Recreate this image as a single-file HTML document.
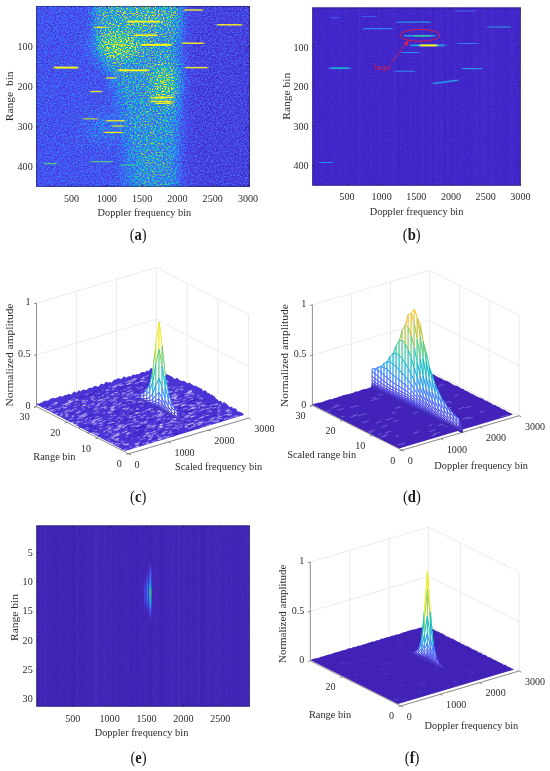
<!DOCTYPE html><html><head><meta charset="utf-8"><style>html,body{margin:0;padding:0;background:#fff;}svg{display:block;}</style></head><body><svg width="550" height="771" viewBox="0 0 550 771" font-family="'Liberation Serif','Times New Roman',serif">
<defs><filter id="soft" x="-2%" y="-2%" width="104%" height="104%"><feGaussianBlur stdDeviation="0.45"/></filter><filter id="bl1" x="-50%" y="-200%" width="200%" height="500%"><feGaussianBlur stdDeviation="0.9 0.6"/></filter><filter id="bl2" x="-50%" y="-200%" width="200%" height="500%"><feGaussianBlur stdDeviation="0.5 0.4"/></filter><filter id="blS" x="-10%" y="-10%" width="120%" height="120%"><feGaussianBlur stdDeviation="1.1 0.35"/></filter></defs>
<rect width="550" height="771" fill="#fff"/>
<defs><filter id="nzA" filterUnits="userSpaceOnUse" x="36.5" y="6.0" width="213.0" height="180.5" color-interpolation-filters="sRGB"><feGaussianBlur in="SourceGraphic" stdDeviation="3" result="S"/><feTurbulence type="fractalNoise" baseFrequency="0.6 0.9" numOctaves="2" seed="3" result="T"/><feColorMatrix in="T" values="3.0 0 0 0 -1.000  3.0 0 0 0 -1.000  0 0 0 0 0  0 0 0 0 1" result="N0"/><feComponentTransfer in="N0" result="N"><feFuncR type="gamma" amplitude="1" exponent="1.8" offset="0"/><feFuncG type="gamma" amplitude="1" exponent="1.8" offset="0"/></feComponentTransfer><feComposite in="S" in2="N" operator="arithmetic" k1="1" k2="0" k3="0" k4="0" result="P"/><feColorMatrix in="P" values="0 1 0 0 0  0 0 0 0 0  0 0 0 0 0  0 0 0 0 1" result="Q"/><feColorMatrix in="S" values="1 0 0 0 0  0 0 0 0 0  0 0 0 0 0  0 0 0 0 1" result="M0"/><feComposite in="M0" in2="Q" operator="arithmetic" k1="0" k2="1" k3="1" k4="0" result="V"/><feColorMatrix in="V" values="1 0 0 0 0  1 0 0 0 0  1 0 0 0 0  0 0 0 0 1" result="VG"/><feComponentTransfer in="VG"><feFuncR type="table" tableValues="0.251 0.275 0.282 0.259 0.196 0.153 0.118 0.059 0.027 0.102 0.200 0.310 0.435 0.584 0.725 0.810 0.894 0.927 0.961 0.969 0.976"/><feFuncG type="table" tableValues="0.141 0.235 0.322 0.404 0.486 0.580 0.651 0.694 0.729 0.757 0.780 0.796 0.804 0.816 0.839 0.863 0.886 0.914 0.941 0.963 0.984"/><feFuncB type="table" tableValues="0.698 0.863 0.957 0.988 0.980 0.925 0.882 0.835 0.776 0.714 0.631 0.545 0.447 0.353 0.259 0.216 0.173 0.145 0.118 0.098 0.078"/></feComponentTransfer><feGaussianBlur stdDeviation="0.3"/></filter></defs>
<g filter="url(#nzA)"><g transform="translate(26.5 -4.0) scale(5.0)" shape-rendering="crispEdges"><path fill="#0d2600" d="M0 0h12v1h-12zM0 1h12v1h-12zM0 2h12v1h-12zM0 3h12v1h-12zM0 4h11v1h-11zM0 5h11v1h-11zM0 6h10v1h-10zM0 7h9v1h-9zM0 8h9v1h-9zM0 9h8v1h-8zM0 10h8v1h-8zM0 11h9v1h-9zM0 12h9v1h-9zM0 13h10v1h-10zM0 14h11v1h-11zM0 15h13v1h-13zM0 16h15v1h-15zM0 17h16v1h-16zM0 18h16v1h-16zM0 19h16v1h-16zM0 20h13v1h-13zM0 21h10v1h-10zM0 22h9v1h-9zM0 23h8v1h-8zM0 24h8v1h-8zM0 25h7v1h-7zM0 26h7v1h-7zM0 27h7v1h-7zM0 28h8v1h-8zM0 29h8v1h-8zM0 30h9v1h-9zM0 31h11v1h-11zM0 32h13v1h-13zM0 33h18v1h-18zM0 34h18v1h-18zM0 35h18v1h-18zM0 36h18v1h-18zM0 37h18v1h-18zM0 38h18v1h-18zM0 39h18v1h-18zM0 40h18v1h-18z"/><path fill="#0e2b00" d="M12 0h1v1h-1zM12 1h1v1h-1zM12 2h1v1h-1zM12 3h1v1h-1zM12 4h1v1h-1zM11 8h1v1h-1zM11 11h1v1h-1zM13 22h1v1h-1zM10 27h1v1h-1zM14 30h3v1h-3zM18 38h1v1h-1zM18 39h1v1h-1zM18 40h1v1h-1z"/><path fill="#186100" d="M13 0h1v1h-1zM13 2h1v1h-1zM13 3h1v1h-1zM29 36h1v1h-1z"/><path fill="#249800" d="M14 0h1v1h-1zM14 1h1v1h-1zM14 2h1v1h-1zM29 14h1v1h-1z"/><path fill="#279d00" d="M15 0h14v1h-14zM15 1h3v1h-3zM15 2h2v1h-2zM16 3h1v1h-1zM16 4h1v1h-1zM24 6h1v1h-1zM26 13h1v1h-1zM28 13h1v1h-1zM25 14h1v1h-1z"/><path fill="#259b00" d="M29 0h1v1h-1zM23 7h1v1h-1z"/><path fill="#196d00" d="M30 0h1v1h-1zM30 1h1v1h-1z"/><path fill="#0c3100" d="M31 0h1v1h-1zM31 1h1v1h-1zM31 15h1v1h-1z"/><path fill="#082100" d="M32 0h1v1h-1zM32 1h1v1h-1zM32 7h1v1h-1zM32 8h1v1h-1zM32 10h1v1h-1zM32 11h1v1h-1zM32 12h1v1h-1zM32 13h1v1h-1zM32 21h1v1h-1zM32 22h1v1h-1zM32 23h1v1h-1zM32 24h1v1h-1z"/><path fill="#071f00" d="M33 0h1v1h-1zM33 1h1v1h-1zM34 5h1v1h-1zM33 7h1v1h-1zM33 8h1v1h-1zM33 9h1v1h-1zM33 10h1v1h-1zM33 11h1v1h-1zM33 12h1v1h-1zM33 13h1v1h-1zM33 14h1v1h-1zM33 15h1v1h-1zM33 16h1v1h-1zM33 17h1v1h-1zM33 18h1v1h-1zM33 19h1v1h-1zM33 20h1v1h-1zM33 21h1v1h-1zM33 22h1v1h-1zM33 23h1v1h-1zM33 24h1v1h-1zM33 25h1v1h-1zM33 26h1v1h-1zM33 27h1v1h-1zM33 28h1v1h-1zM33 29h1v1h-1zM33 30h1v1h-1zM33 31h1v1h-1zM33 32h1v1h-1zM33 33h1v1h-1zM33 34h1v1h-1zM33 35h1v1h-1zM33 36h1v1h-1zM33 37h1v1h-1zM33 38h1v1h-1zM33 39h1v1h-1zM33 40h1v1h-1z"/><path fill="#061f00" d="M34 0h13v1h-13zM34 1h13v1h-13zM34 2h13v1h-13zM35 3h12v1h-12zM35 4h12v1h-12zM35 5h12v1h-12zM34 6h13v1h-13zM34 7h13v1h-13zM34 8h13v1h-13zM34 9h13v1h-13zM34 10h13v1h-13zM34 11h13v1h-13zM34 12h13v1h-13zM34 13h13v1h-13zM34 14h13v1h-13zM34 15h13v1h-13zM34 16h13v1h-13zM34 17h13v1h-13zM34 18h13v1h-13zM34 19h13v1h-13zM34 20h13v1h-13zM34 21h13v1h-13zM34 22h13v1h-13zM34 23h13v1h-13zM34 24h13v1h-13zM34 25h13v1h-13zM34 26h13v1h-13zM34 27h13v1h-13zM34 28h13v1h-13zM34 29h13v1h-13zM34 30h13v1h-13zM34 31h13v1h-13zM34 32h13v1h-13zM34 33h13v1h-13zM34 34h13v1h-13zM34 35h13v1h-13zM34 36h13v1h-13zM34 37h13v1h-13zM34 38h13v1h-13zM34 39h13v1h-13zM34 40h13v1h-13z"/><path fill="#186200" d="M13 1h1v1h-1zM17 16h1v1h-1zM19 23h1v1h-1z"/><path fill="#279e00" d="M18 1h2v1h-2zM17 2h1v1h-1zM29 2h1v1h-1zM16 5h1v1h-1z"/><path fill="#289e00" d="M20 1h1v1h-1zM28 1h1v1h-1zM23 6h1v1h-1z"/><path fill="#289f00" d="M21 1h7v1h-7zM18 2h1v1h-1zM17 3h1v1h-1zM17 4h1v1h-1zM20 12h1v1h-1zM27 21h1v1h-1z"/><path fill="#269c00" d="M29 1h1v1h-1zM15 3h1v1h-1zM15 5h1v1h-1zM25 6h1v1h-1zM23 9h1v1h-1zM22 11h1v1h-1zM25 20h1v1h-1zM26 21h1v1h-1z"/><path fill="#29a000" d="M19 2h1v1h-1zM29 3h1v1h-1zM29 4h1v1h-1zM28 5h1v1h-1zM15 6h1v1h-1zM22 6h1v1h-1zM29 19h1v1h-1z"/><path fill="#2aa100" d="M20 2h1v1h-1zM18 5h1v1h-1z"/><path fill="#2aa300" d="M21 2h1v1h-1zM14 10h1v1h-1zM29 15h1v1h-1z"/><path fill="#2ba300" d="M22 2h1v1h-1zM26 2h1v1h-1zM19 3h1v1h-1zM19 5h1v1h-1z"/><path fill="#2ba400" d="M23 2h3v1h-3zM19 4h1v1h-1zM20 5h1v1h-1zM26 5h1v1h-1zM16 6h1v1h-1z"/><path fill="#2aa200" d="M27 2h1v1h-1zM18 4h1v1h-1zM27 5h1v1h-1zM21 6h1v1h-1zM14 8h1v1h-1z"/><path fill="#29a100" d="M28 2h1v1h-1zM18 3h1v1h-1zM27 13h1v1h-1z"/><path fill="#196f00" d="M30 2h1v1h-1z"/><path fill="#0d3300" d="M31 2h1v1h-1z"/><path fill="#082200" d="M32 2h1v1h-1zM32 6h1v1h-1zM32 14h1v1h-1zM32 15h1v1h-1zM32 16h1v1h-1zM32 18h1v1h-1zM32 19h1v1h-1zM32 20h1v1h-1z"/><path fill="#072000" d="M33 2h1v1h-1zM34 3h1v1h-1zM34 4h1v1h-1zM33 5h1v1h-1zM33 6h1v1h-1z"/><path fill="#239700" d="M14 3h1v1h-1zM24 7h1v1h-1zM21 12h1v1h-1zM24 17h1v1h-1z"/><path fill="#2ca600" d="M20 3h1v1h-1zM25 15h1v1h-1z"/><path fill="#2ea800" d="M21 3h1v1h-1zM27 4h1v1h-1zM14 9h1v1h-1z"/><path fill="#2faa00" d="M22 3h1v1h-1zM25 3h1v1h-1zM26 4h1v1h-1zM17 12h1v1h-1z"/><path fill="#30ab00" d="M23 3h2v1h-2zM18 12h1v1h-1zM26 14h1v1h-1zM28 14h1v1h-1zM29 16h1v1h-1zM26 20h1v1h-1z"/><path fill="#2ea900" d="M26 3h1v1h-1zM22 9h1v1h-1z"/><path fill="#2da700" d="M27 3h1v1h-1zM20 4h1v1h-1zM18 6h1v1h-1zM21 7h1v1h-1zM19 12h1v1h-1z"/><path fill="#2ca400" d="M28 3h1v1h-1z"/><path fill="#1a7100" d="M30 3h1v1h-1zM30 4h1v1h-1z"/><path fill="#0d3400" d="M31 3h1v1h-1zM31 16h1v1h-1zM31 17h1v1h-1z"/><path fill="#082300" d="M32 3h1v1h-1zM32 5h1v1h-1zM32 17h1v1h-1z"/><path fill="#072100" d="M33 3h1v1h-1zM33 4h1v1h-1z"/><path fill="#0d2700" d="M11 4h1v1h-1zM11 5h1v1h-1zM10 6h2v1h-2zM9 7h2v1h-2zM9 8h1v1h-1zM8 9h2v1h-2zM8 10h2v1h-2zM9 11h1v1h-1zM9 12h2v1h-2zM10 13h2v1h-2zM11 14h2v1h-2zM13 15h2v1h-2zM15 16h1v1h-1zM13 20h3v1h-3zM10 21h3v1h-3zM9 22h2v1h-2zM8 23h2v1h-2zM8 24h1v1h-1zM7 25h2v1h-2zM7 26h2v1h-2zM7 27h2v1h-2zM8 28h1v1h-1zM8 29h2v1h-2zM9 30h2v1h-2zM11 31h3v1h-3zM17 31h1v1h-1zM13 32h5v1h-5z"/><path fill="#186000" d="M13 4h1v1h-1zM20 30h1v1h-1z"/><path fill="#229600" d="M14 4h1v1h-1zM25 7h1v1h-1zM24 8h1v1h-1zM27 12h1v1h-1zM24 16h1v1h-1zM24 18h1v1h-1z"/><path fill="#269b00" d="M15 4h1v1h-1zM29 5h1v1h-1zM26 6h1v1h-1zM23 8h1v1h-1z"/><path fill="#2fa900" d="M21 4h1v1h-1zM21 11h1v1h-1zM29 18h1v1h-1zM28 20h1v1h-1z"/><path fill="#30ac00" d="M22 4h1v1h-1zM15 7h1v1h-1z"/><path fill="#31ad00" d="M23 4h2v1h-2zM25 16h1v1h-1zM29 17h1v1h-1zM25 18h1v1h-1z"/><path fill="#31ac00" d="M25 4h1v1h-1z"/><path fill="#2ca500" d="M28 4h1v1h-1zM21 5h1v1h-1zM25 5h1v1h-1zM20 6h1v1h-1zM22 8h1v1h-1zM16 12h1v1h-1z"/><path fill="#0d3500" d="M31 4h1v1h-1z"/><path fill="#092400" d="M32 4h1v1h-1z"/><path fill="#0d2a00" d="M12 5h1v1h-1zM12 6h1v1h-1zM10 24h1v1h-1zM10 28h1v1h-1zM11 29h1v1h-1zM13 30h1v1h-1zM17 30h1v1h-1z"/><path fill="#175d00" d="M13 5h1v1h-1zM19 26h1v1h-1z"/><path fill="#219400" d="M14 5h1v1h-1zM29 6h1v1h-1zM27 7h2v1h-2zM26 12h1v1h-1zM25 13h1v1h-1z"/><path fill="#28a000" d="M17 5h1v1h-1zM22 7h1v1h-1z"/><path fill="#2da600" d="M22 5h3v1h-3zM17 6h1v1h-1zM19 6h1v1h-1zM22 10h1v1h-1zM25 19h1v1h-1z"/><path fill="#196b00" d="M30 5h1v1h-1zM29 29h1v1h-1z"/><path fill="#0d3200" d="M31 5h1v1h-1zM31 18h1v1h-1z"/><path fill="#165b00" d="M13 6h1v1h-1zM20 33h1v1h-1z"/><path fill="#219500" d="M14 6h1v1h-1zM26 7h1v1h-1zM24 9h1v1h-1zM29 20h1v1h-1z"/><path fill="#259a00" d="M27 6h1v1h-1zM14 7h1v1h-1zM23 10h1v1h-1zM28 21h1v1h-1z"/><path fill="#249900" d="M28 6h1v1h-1z"/><path fill="#176400" d="M30 6h1v1h-1z"/><path fill="#0c2d00" d="M31 6h1v1h-1zM31 14h1v1h-1zM31 20h1v1h-1z"/><path fill="#0d2900" d="M11 7h1v1h-1zM10 9h1v1h-1zM10 10h1v1h-1zM11 12h1v1h-1zM14 14h1v1h-1zM16 19h1v1h-1zM12 22h1v1h-1zM9 25h1v1h-1zM9 26h1v1h-1zM12 30h1v1h-1z"/><path fill="#0e2c00" d="M12 7h1v1h-1zM11 9h1v1h-1zM11 10h1v1h-1zM12 12h1v1h-1zM14 22h3v1h-3zM10 25h1v1h-1zM10 26h1v1h-1zM12 29h1v1h-1zM18 36h1v1h-1zM18 37h1v1h-1z"/><path fill="#175b00" d="M13 7h1v1h-1z"/><path fill="#35b300" d="M16 7h1v1h-1z"/><path fill="#38b800" d="M17 7h1v1h-1zM20 11h1v1h-1z"/><path fill="#39b900" d="M18 7h1v1h-1zM28 19h1v1h-1z"/><path fill="#36b500" d="M19 7h1v1h-1zM15 11h1v1h-1z"/><path fill="#32ae00" d="M20 7h1v1h-1z"/><path fill="#208e00" d="M29 7h1v1h-1zM28 9h1v1h-1zM27 10h1v1h-1zM25 11h1v1h-1zM20 13h1v1h-1zM29 13h1v1h-1zM24 20h1v1h-1zM28 22h1v1h-1z"/><path fill="#165d00" d="M30 7h1v1h-1z"/><path fill="#0b2a00" d="M31 7h1v1h-1zM31 13h1v1h-1zM31 21h1v1h-1z"/><path fill="#0d2800" d="M10 8h1v1h-1zM10 11h1v1h-1zM12 13h1v1h-1zM13 14h1v1h-1zM16 20h1v1h-1zM13 21h4v1h-4zM11 22h1v1h-1zM10 23h1v1h-1zM9 24h1v1h-1zM9 27h1v1h-1zM9 28h1v1h-1zM10 29h1v1h-1zM11 30h1v1h-1zM14 31h3v1h-3z"/><path fill="#0f3000" d="M12 8h1v1h-1zM12 11h1v1h-1zM13 12h1v1h-1zM18 31h1v1h-1z"/><path fill="#175f00" d="M13 8h1v1h-1zM18 19h1v1h-1zM19 25h1v1h-1zM29 38h1v1h-1zM29 39h1v1h-1zM29 40h1v1h-1z"/><path fill="#3bbd00" d="M15 8h1v1h-1z"/><path fill="#44cb00" d="M16 8h1v1h-1z"/><path fill="#4ad300" d="M17 8h1v1h-1z"/><path fill="#4bd400" d="M18 8h1v1h-1z"/><path fill="#46cd00" d="M19 8h1v1h-1z"/><path fill="#3dc000" d="M20 8h1v1h-1z"/><path fill="#34b200" d="M21 8h1v1h-1z"/><path fill="#219300" d="M25 8h1v1h-1zM23 11h1v1h-1zM28 12h1v1h-1zM17 13h2v1h-2zM24 15h1v1h-1zM25 21h1v1h-1z"/><path fill="#219100" d="M26 8h1v1h-1zM19 13h1v1h-1z"/><path fill="#209100" d="M27 8h1v1h-1zM25 9h1v1h-1zM15 12h1v1h-1zM22 12h1v1h-1zM26 22h1v1h-1z"/><path fill="#209000" d="M28 8h1v1h-1zM26 11h2v1h-2z"/><path fill="#1f8700" d="M29 8h1v1h-1zM17 14h3v1h-3zM24 22h1v1h-1zM24 27h2v1h-2zM24 32h2v1h-2z"/><path fill="#145400" d="M30 8h1v1h-1z"/><path fill="#0a2600" d="M31 8h1v1h-1zM31 12h1v1h-1zM31 23h1v1h-1z"/><path fill="#0f3300" d="M12 9h1v1h-1zM12 10h1v1h-1zM14 23h1v1h-1zM16 23h1v1h-1zM12 24h1v1h-1zM18 30h1v1h-1z"/><path fill="#176000" d="M13 9h1v1h-1zM19 24h1v1h-1zM29 37h1v1h-1z"/><path fill="#44ca00" d="M15 9h1v1h-1zM26 17h1v1h-1zM28 17h1v1h-1z"/><path fill="#50dc00" d="M16 9h1v1h-1zM19 10h1v1h-1z"/><path fill="#57e800" d="M17 9h1v1h-1z"/><path fill="#58e900" d="M18 9h1v1h-1z"/><path fill="#52df00" d="M19 9h1v1h-1z"/><path fill="#46ce00" d="M20 9h1v1h-1z"/><path fill="#3aba00" d="M21 9h1v1h-1z"/><path fill="#208f00" d="M26 9h2v1h-2zM25 10h2v1h-2zM24 11h1v1h-1zM28 11h1v1h-1zM25 12h1v1h-1zM16 13h1v1h-1zM24 14h1v1h-1z"/><path fill="#1d8100" d="M29 9h1v1h-1zM22 19h1v1h-1z"/><path fill="#134c00" d="M30 9h1v1h-1zM30 23h1v1h-1z"/><path fill="#0a2400" d="M31 9h1v1h-1zM31 11h1v1h-1zM31 25h1v1h-1z"/><path fill="#082000" d="M32 9h1v1h-1zM32 25h1v1h-1zM32 26h1v1h-1zM32 27h1v1h-1zM32 28h1v1h-1zM32 29h1v1h-1zM32 30h1v1h-1zM32 31h1v1h-1zM32 32h1v1h-1zM32 33h1v1h-1zM32 34h1v1h-1zM32 35h1v1h-1zM32 36h1v1h-1zM32 37h1v1h-1zM32 38h1v1h-1zM32 39h1v1h-1zM32 40h1v1h-1z"/><path fill="#175c00" d="M13 10h1v1h-1zM20 32h1v1h-1z"/><path fill="#42c700" d="M15 10h1v1h-1z"/><path fill="#4ed900" d="M16 10h1v1h-1z"/><path fill="#55e500" d="M17 10h1v1h-1z"/><path fill="#56e600" d="M18 10h1v1h-1z"/><path fill="#45cb00" d="M20 10h1v1h-1zM17 11h1v1h-1z"/><path fill="#38b700" d="M21 10h1v1h-1z"/><path fill="#219200" d="M24 10h1v1h-1zM24 19h1v1h-1zM27 22h1v1h-1z"/><path fill="#208d00" d="M28 10h1v1h-1zM23 12h1v1h-1zM24 13h1v1h-1z"/><path fill="#1c7a00" d="M29 10h1v1h-1zM17 15h1v1h-1zM21 28h1v1h-1zM28 33h1v1h-1zM28 34h1v1h-1zM22 36h1v1h-1zM27 37h1v1h-1zM23 39h1v1h-1zM26 39h1v1h-1zM24 40h2v1h-2z"/><path fill="#114500" d="M30 10h1v1h-1z"/><path fill="#0a2300" d="M31 10h1v1h-1zM31 26h1v1h-1zM31 27h1v1h-1zM31 28h1v1h-1zM31 29h1v1h-1zM31 30h1v1h-1zM31 31h1v1h-1zM31 32h1v1h-1zM31 33h1v1h-1zM31 34h1v1h-1zM31 35h1v1h-1zM31 36h1v1h-1zM31 37h1v1h-1zM31 38h1v1h-1zM31 39h1v1h-1zM31 40h1v1h-1z"/><path fill="#124300" d="M13 11h1v1h-1zM19 32h1v1h-1z"/><path fill="#1e8200" d="M14 11h1v1h-1zM20 15h2v1h-2zM22 17h1v1h-1zM22 18h1v1h-1zM23 22h1v1h-1zM23 23h1v1h-1zM23 24h1v1h-1zM23 25h1v1h-1zM23 33h1v1h-1zM24 35h2v1h-2z"/><path fill="#3fc200" d="M16 11h1v1h-1z"/><path fill="#45cc00" d="M18 11h1v1h-1z"/><path fill="#40c500" d="M19 11h1v1h-1z"/><path fill="#1d7d00" d="M29 11h1v1h-1zM20 20h1v1h-1zM21 22h1v1h-1zM21 26h1v1h-1zM28 26h1v1h-1zM22 33h1v1h-1zM27 34h1v1h-1zM23 36h1v1h-1zM25 38h1v1h-1z"/><path fill="#124800" d="M30 11h1v1h-1zM30 24h1v1h-1z"/><path fill="#165600" d="M14 12h1v1h-1zM20 36h1v1h-1z"/><path fill="#208c00" d="M24 12h1v1h-1zM25 22h1v1h-1z"/><path fill="#1e8400" d="M29 12h1v1h-1zM22 15h1v1h-1zM23 20h1v1h-1zM26 25h1v1h-1zM26 26h1v1h-1zM26 27h1v1h-1zM23 28h1v1h-1zM26 28h1v1h-1zM23 29h1v1h-1zM23 30h1v1h-1zM26 31h1v1h-1zM26 32h1v1h-1zM24 34h2v1h-2z"/><path fill="#135000" d="M30 12h1v1h-1z"/><path fill="#0e2a00" d="M13 13h1v1h-1zM11 23h1v1h-1z"/><path fill="#103700" d="M14 13h1v1h-1z"/><path fill="#196700" d="M15 13h1v1h-1zM29 32h1v1h-1z"/><path fill="#1f8b00" d="M21 13h1v1h-1z"/><path fill="#1f8900" d="M22 13h2v1h-2zM23 16h1v1h-1zM23 17h1v1h-1zM24 21h1v1h-1zM29 21h1v1h-1zM26 23h1v1h-1z"/><path fill="#155900" d="M30 13h1v1h-1z"/><path fill="#124500" d="M15 14h1v1h-1zM13 26h1v1h-1zM19 31h1v1h-1z"/><path fill="#1b7200" d="M16 14h1v1h-1zM21 32h1v1h-1z"/><path fill="#1e8600" d="M20 14h1v1h-1zM23 19h1v1h-1zM25 25h1v1h-1zM24 26h1v1h-1zM25 33h1v1h-1z"/><path fill="#1e8500" d="M21 14h2v1h-2zM24 23h1v1h-1zM28 23h1v1h-1zM24 24h1v1h-1zM26 24h1v1h-1zM24 25h1v1h-1zM26 29h1v1h-1zM26 30h1v1h-1zM24 33h1v1h-1z"/><path fill="#1f8800" d="M23 14h1v1h-1zM23 15h1v1h-1zM23 18h1v1h-1zM25 23h1v1h-1zM27 23h1v1h-1zM24 28h2v1h-2zM24 29h2v1h-2zM24 30h2v1h-2zM24 31h2v1h-2z"/><path fill="#34b100" d="M27 14h1v1h-1zM27 20h1v1h-1z"/><path fill="#176200" d="M30 14h1v1h-1z"/><path fill="#0e2f00" d="M15 15h1v1h-1zM13 29h1v1h-1zM17 29h1v1h-1zM18 32h1v1h-1z"/><path fill="#155400" d="M16 15h1v1h-1zM20 37h1v1h-1z"/><path fill="#1e8300" d="M18 15h2v1h-2zM22 16h1v1h-1zM23 21h1v1h-1zM27 24h1v1h-1zM23 26h1v1h-1zM23 27h1v1h-1zM23 31h1v1h-1zM23 32h1v1h-1zM26 33h1v1h-1z"/><path fill="#39ba00" d="M26 15h1v1h-1zM28 15h1v1h-1z"/><path fill="#3fc300" d="M27 15h1v1h-1zM27 19h1v1h-1z"/><path fill="#186900" d="M30 15h1v1h-1z"/><path fill="#113c00" d="M16 16h1v1h-1zM14 28h1v1h-1zM16 28h1v1h-1zM19 38h1v1h-1zM19 39h1v1h-1zM19 40h1v1h-1z"/><path fill="#1d7e00" d="M18 16h1v1h-1zM19 18h1v1h-1zM20 19h1v1h-1zM21 20h1v1h-1zM21 21h1v1h-1zM21 23h1v1h-1zM21 24h1v1h-1zM21 25h1v1h-1zM28 25h1v1h-1zM22 31h1v1h-1zM22 32h1v1h-1zM27 33h1v1h-1zM26 36h1v1h-1zM24 37h2v1h-2z"/><path fill="#1e8100" d="M19 16h3v1h-3zM27 25h1v1h-1zM26 34h1v1h-1z"/><path fill="#41c500" d="M26 16h1v1h-1zM28 16h1v1h-1zM28 18h1v1h-1z"/><path fill="#48d000" d="M27 16h1v1h-1z"/><path fill="#197000" d="M30 16h1v1h-1zM30 17h1v1h-1z"/><path fill="#0f3200" d="M16 17h1v1h-1zM11 26h1v1h-1zM12 28h1v1h-1zM15 29h1v1h-1z"/><path fill="#155300" d="M17 17h1v1h-1zM20 38h1v1h-1zM20 39h1v1h-1zM20 40h1v1h-1z"/><path fill="#1b7400" d="M18 17h1v1h-1zM20 24h1v1h-1zM29 24h1v1h-1zM21 31h1v1h-1z"/><path fill="#1d8000" d="M19 17h3v1h-3zM21 18h1v1h-1zM22 20h1v1h-1zM29 22h1v1h-1zM28 24h1v1h-1zM22 26h1v1h-1zM27 26h1v1h-1zM27 27h1v1h-1zM27 28h1v1h-1zM27 29h1v1h-1zM23 34h1v1h-1zM26 35h1v1h-1zM24 36h2v1h-2z"/><path fill="#33b000" d="M25 17h1v1h-1z"/><path fill="#4bd600" d="M27 17h1v1h-1z"/><path fill="#0e2d00" d="M16 18h1v1h-1zM12 23h1v1h-1zM11 28h1v1h-1zM18 34h1v1h-1zM18 35h1v1h-1z"/><path fill="#134800" d="M17 18h1v1h-1zM19 30h1v1h-1z"/><path fill="#196900" d="M18 18h1v1h-1zM20 28h1v1h-1zM29 30h1v1h-1zM21 38h1v1h-1zM21 39h1v1h-1z"/><path fill="#1d7f00" d="M20 18h1v1h-1zM21 19h1v1h-1zM22 21h1v1h-1zM22 22h1v1h-1zM22 23h1v1h-1zM22 24h1v1h-1zM22 25h1v1h-1zM22 27h1v1h-1zM22 28h1v1h-1zM22 29h1v1h-1zM22 30h1v1h-1zM27 30h1v1h-1zM27 31h1v1h-1zM27 32h1v1h-1zM23 35h1v1h-1z"/><path fill="#41c600" d="M26 18h1v1h-1z"/><path fill="#48d100" d="M27 18h1v1h-1z"/><path fill="#196c00" d="M30 18h1v1h-1z"/><path fill="#113f00" d="M17 19h1v1h-1zM18 28h1v1h-1zM19 35h1v1h-1z"/><path fill="#1c7800" d="M19 19h1v1h-1zM28 36h1v1h-1zM22 37h1v1h-1zM28 37h1v1h-1zM27 39h1v1h-1zM27 40h1v1h-1z"/><path fill="#3abb00" d="M26 19h1v1h-1z"/><path fill="#186600" d="M30 19h1v1h-1z"/><path fill="#0c3000" d="M31 19h1v1h-1z"/><path fill="#103800" d="M17 20h1v1h-1zM12 27h1v1h-1zM13 28h1v1h-1zM17 28h1v1h-1zM18 29h1v1h-1z"/><path fill="#155500" d="M18 20h1v1h-1z"/><path fill="#1a7000" d="M19 20h1v1h-1z"/><path fill="#165e00" d="M30 20h1v1h-1z"/><path fill="#0f3400" d="M17 21h1v1h-1zM17 22h1v1h-1zM15 23h1v1h-1z"/><path fill="#144e00" d="M18 21h1v1h-1z"/><path fill="#196a00" d="M19 21h1v1h-1zM21 37h1v1h-1z"/><path fill="#1d7c00" d="M20 21h1v1h-1zM21 27h1v1h-1zM28 27h1v1h-1zM28 28h1v1h-1zM28 29h1v1h-1zM22 34h1v1h-1zM27 35h1v1h-1zM23 37h1v1h-1zM26 37h1v1h-1zM24 38h1v1h-1z"/><path fill="#155700" d="M30 21h1v1h-1z"/><path fill="#134a00" d="M18 22h1v1h-1zM18 24h1v1h-1zM15 27h1v1h-1z"/><path fill="#186500" d="M19 22h1v1h-1zM29 33h1v1h-1z"/><path fill="#1c7900" d="M20 22h1v1h-1zM29 23h1v1h-1zM28 35h1v1h-1zM27 38h1v1h-1zM23 40h1v1h-1zM26 40h1v1h-1z"/><path fill="#145100" d="M30 22h1v1h-1z"/><path fill="#0b2700" d="M31 22h1v1h-1z"/><path fill="#0f3100" d="M13 23h1v1h-1zM11 25h1v1h-1zM11 27h1v1h-1zM14 29h1v1h-1zM16 29h1v1h-1z"/><path fill="#103600" d="M17 23h1v1h-1z"/><path fill="#134900" d="M18 23h1v1h-1zM14 25h1v1h-1zM16 25h1v1h-1z"/><path fill="#1c7700" d="M20 23h1v1h-1zM21 29h1v1h-1zM22 38h1v1h-1zM28 38h1v1h-1zM22 39h1v1h-1zM28 39h1v1h-1zM28 40h1v1h-1z"/><path fill="#0e2e00" d="M11 24h1v1h-1zM18 33h1v1h-1z"/><path fill="#103900" d="M13 24h1v1h-1zM12 25h1v1h-1z"/><path fill="#113e00" d="M14 24h1v1h-1zM16 24h1v1h-1zM15 28h1v1h-1zM19 36h1v1h-1z"/><path fill="#124000" d="M15 24h1v1h-1zM13 27h1v1h-1z"/><path fill="#113d00" d="M17 24h1v1h-1zM19 37h1v1h-1z"/><path fill="#1f8600" d="M25 24h1v1h-1zM25 26h1v1h-1z"/><path fill="#0a2500" d="M31 24h1v1h-1z"/><path fill="#124200" d="M13 25h1v1h-1zM19 33h1v1h-1z"/><path fill="#144c00" d="M15 25h1v1h-1zM18 25h1v1h-1zM14 26h1v1h-1zM16 26h1v1h-1zM18 26h1v1h-1zM19 29h1v1h-1z"/><path fill="#124400" d="M17 25h1v1h-1z"/><path fill="#1b7300" d="M20 25h1v1h-1z"/><path fill="#1b7100" d="M29 25h1v1h-1zM20 26h1v1h-1zM21 33h1v1h-1z"/><path fill="#124600" d="M30 25h1v1h-1z"/><path fill="#113b00" d="M12 26h1v1h-1z"/><path fill="#145000" d="M15 26h1v1h-1z"/><path fill="#134600" d="M17 26h1v1h-1z"/><path fill="#1a6f00" d="M29 26h1v1h-1zM21 34h1v1h-1z"/><path fill="#114400" d="M30 26h1v1h-1z"/><path fill="#134700" d="M14 27h1v1h-1zM16 27h1v1h-1zM18 27h1v1h-1z"/><path fill="#124100" d="M17 27h1v1h-1zM19 34h1v1h-1z"/><path fill="#165800" d="M19 27h1v1h-1z"/><path fill="#1a6d00" d="M20 27h1v1h-1zM21 35h1v1h-1z"/><path fill="#1a6e00" d="M29 27h1v1h-1z"/><path fill="#114200" d="M30 27h1v1h-1z"/><path fill="#155200" d="M19 28h1v1h-1z"/><path fill="#1a6c00" d="M29 28h1v1h-1zM21 36h1v1h-1z"/><path fill="#114000" d="M30 28h1v1h-1z"/><path fill="#186400" d="M20 29h1v1h-1zM29 34h1v1h-1z"/><path fill="#103f00" d="M30 29h1v1h-1z"/><path fill="#1b7500" d="M21 30h1v1h-1z"/><path fill="#1d7b00" d="M28 30h1v1h-1z"/><path fill="#103d00" d="M30 30h1v1h-1z"/><path fill="#175e00" d="M20 31h1v1h-1z"/><path fill="#1c7b00" d="M28 31h1v1h-1zM28 32h1v1h-1zM22 35h1v1h-1zM27 36h1v1h-1zM23 38h1v1h-1zM26 38h1v1h-1zM24 39h2v1h-2z"/><path fill="#196800" d="M29 31h1v1h-1zM21 40h1v1h-1z"/><path fill="#103c00" d="M30 31h1v1h-1z"/><path fill="#103b00" d="M30 32h1v1h-1z"/><path fill="#0f3a00" d="M30 33h1v1h-1z"/><path fill="#165900" d="M20 34h1v1h-1z"/><path fill="#0f3900" d="M30 34h1v1h-1z"/><path fill="#165700" d="M20 35h1v1h-1z"/><path fill="#186300" d="M29 35h1v1h-1z"/><path fill="#0f3800" d="M30 35h1v1h-1z"/><path fill="#0f3600" d="M30 36h1v1h-1z"/><path fill="#0f3500" d="M30 37h1v1h-1z"/><path fill="#0e3500" d="M30 38h1v1h-1zM30 39h1v1h-1zM30 40h1v1h-1z"/><path fill="#1c7600" d="M22 40h1v1h-1z"/></g></g>
<g filter="url(#blS)">
<rect x="54" y="66.6" width="24" height="1.98" fill="#f9fb14"/>
<rect x="118" y="69.4" width="31" height="1.87" fill="#f9fb14"/>
<rect x="127" y="20.7" width="33" height="1.87" fill="#f9fb14"/>
<rect x="135" y="34.4" width="22" height="1.65" fill="#f7f619"/>
<rect x="141" y="43.9" width="30" height="1.98" fill="#f9fb14"/>
<rect x="182" y="42.5" width="22" height="1.43" fill="#f5f01e"/>
<rect x="184" y="9.3" width="19" height="1.43" fill="#ece925"/>
<rect x="217" y="24.1" width="25" height="1.43" fill="#f5f01e"/>
<rect x="185" y="66.9" width="23" height="1.43" fill="#ece925"/>
<rect x="94" y="26.7" width="12" height="1.32" fill="#e4e22c"/>
<rect x="106" y="77.3" width="10" height="1.32" fill="#f5f01e"/>
<rect x="90" y="90.9" width="12" height="1.32" fill="#e4e22c"/>
<rect x="155" y="96.6" width="19" height="1.54" fill="#f7f619"/>
<rect x="150" y="100.8" width="22" height="1.32" fill="#f5f01e"/>
<rect x="106" y="120.1" width="19" height="1.32" fill="#ece925"/>
<rect x="104" y="131.8" width="19" height="1.32" fill="#ece925"/>
<rect x="83" y="118.2" width="15" height="1.21" fill="#b9d642"/>
<rect x="44" y="162.9" width="13" height="1.32" fill="#4fcb8b"/>
<rect x="91" y="161.0" width="22" height="1.21" fill="#4fcb8b"/>
<rect x="150" y="97.3" width="15" height="1.32" fill="#f5f01e"/>
<rect x="112" y="125.4" width="12" height="1.21" fill="#ece925"/>
<rect x="120" y="164.4" width="16" height="1.21" fill="#33c7a1"/>
<rect x="155" y="102.7" width="17" height="1.21" fill="#f5f01e"/>
</g>
<defs><filter id="nzB" filterUnits="userSpaceOnUse" x="312.4" y="7.6" width="208.20000000000005" height="177.9" color-interpolation-filters="sRGB"><feGaussianBlur in="SourceGraphic" stdDeviation="0.5" result="S"/><feTurbulence type="fractalNoise" baseFrequency="0.6 0.9" numOctaves="2" seed="5" result="T"/><feColorMatrix in="T" values="3.0 0 0 0 -1.000  3.0 0 0 0 -1.000  0 0 0 0 0  0 0 0 0 1" result="N0"/><feComponentTransfer in="N0" result="N"><feFuncR type="gamma" amplitude="1" exponent="1.5" offset="0"/><feFuncG type="gamma" amplitude="1" exponent="1.5" offset="0"/></feComponentTransfer><feComposite in="S" in2="N" operator="arithmetic" k1="1" k2="0" k3="0" k4="0" result="P"/><feColorMatrix in="P" values="0 1 0 0 0  0 0 0 0 0  0 0 0 0 0  0 0 0 0 1" result="Q"/><feColorMatrix in="S" values="1 0 0 0 0  0 0 0 0 0  0 0 0 0 0  0 0 0 0 1" result="M0"/><feComposite in="M0" in2="Q" operator="arithmetic" k1="0" k2="1" k3="1" k4="0" result="V"/><feColorMatrix in="V" values="1 0 0 0 0  1 0 0 0 0  1 0 0 0 0  0 0 0 0 1" result="VG"/><feComponentTransfer in="VG"><feFuncR type="table" tableValues="0.251 0.275 0.282 0.259 0.196 0.153 0.118 0.059 0.027 0.102 0.200 0.310 0.435 0.584 0.725 0.810 0.894 0.927 0.961 0.969 0.976"/><feFuncG type="table" tableValues="0.141 0.235 0.322 0.404 0.486 0.580 0.651 0.694 0.729 0.757 0.780 0.796 0.804 0.816 0.839 0.863 0.886 0.914 0.941 0.963 0.984"/><feFuncB type="table" tableValues="0.698 0.863 0.957 0.988 0.980 0.925 0.882 0.835 0.776 0.714 0.631 0.545 0.447 0.353 0.259 0.216 0.173 0.145 0.118 0.098 0.078"/></feComponentTransfer><feGaussianBlur stdDeviation="0.3"/></filter><filter id="nzE" filterUnits="userSpaceOnUse" x="36.5" y="525.6" width="213.2" height="180.89999999999998" color-interpolation-filters="sRGB"><feGaussianBlur in="SourceGraphic" stdDeviation="0.5" result="S"/><feTurbulence type="fractalNoise" baseFrequency="0.6 0.9" numOctaves="2" seed="8" result="T"/><feColorMatrix in="T" values="3.0 0 0 0 -1.000  3.0 0 0 0 -1.000  0 0 0 0 0  0 0 0 0 1" result="N0"/><feComponentTransfer in="N0" result="N"><feFuncR type="gamma" amplitude="1" exponent="1.5" offset="0"/><feFuncG type="gamma" amplitude="1" exponent="1.5" offset="0"/></feComponentTransfer><feComposite in="S" in2="N" operator="arithmetic" k1="1" k2="0" k3="0" k4="0" result="P"/><feColorMatrix in="P" values="0 1 0 0 0  0 0 0 0 0  0 0 0 0 0  0 0 0 0 1" result="Q"/><feColorMatrix in="S" values="1 0 0 0 0  0 0 0 0 0  0 0 0 0 0  0 0 0 0 1" result="M0"/><feComposite in="M0" in2="Q" operator="arithmetic" k1="0" k2="1" k3="1" k4="0" result="V"/><feColorMatrix in="V" values="1 0 0 0 0  1 0 0 0 0  1 0 0 0 0  0 0 0 0 1" result="VG"/><feComponentTransfer in="VG"><feFuncR type="table" tableValues="0.251 0.275 0.282 0.259 0.196 0.153 0.118 0.059 0.027 0.102 0.200 0.310 0.435 0.584 0.725 0.810 0.894 0.927 0.961 0.969 0.976"/><feFuncG type="table" tableValues="0.141 0.235 0.322 0.404 0.486 0.580 0.651 0.694 0.729 0.757 0.780 0.796 0.804 0.816 0.839 0.863 0.886 0.914 0.941 0.963 0.984"/><feFuncB type="table" tableValues="0.698 0.863 0.957 0.988 0.980 0.925 0.882 0.835 0.776 0.714 0.631 0.545 0.447 0.353 0.259 0.216 0.173 0.145 0.118 0.098 0.078"/></feComponentTransfer><feGaussianBlur stdDeviation="0.3"/></filter></defs>
<rect x="312.4" y="7.6" width="208.2" height="177.9" fill="#4222cc"/>
<rect x="307.4" y="2.5999999999999996" width="218.2" height="187.9" fill="#001100" filter="url(#nzB)" opacity="0.3"/>
<path fill="#ffffff" fill-opacity="0.02" d="M312.4 7.6h1v177.9h-1zM321.4 7.6h1v177.9h-1zM330.4 7.6h1v177.9h-1zM333.4 7.6h1v177.9h-1zM338.4 7.6h1v177.9h-1zM341.4 7.6h1v177.9h-1zM344.4 7.6h1v177.9h-1zM347.4 7.6h1v177.9h-1zM349.4 7.6h1v177.9h-1zM353.4 7.6h1v177.9h-1zM358.4 7.6h1v177.9h-1zM359.4 7.6h1v177.9h-1zM361.4 7.6h1v177.9h-1zM370.4 7.6h1v177.9h-1zM375.4 7.6h1v177.9h-1zM378.4 7.6h1v177.9h-1zM379.4 7.6h1v177.9h-1zM384.4 7.6h1v177.9h-1zM388.4 7.6h1v177.9h-1zM392.4 7.6h1v177.9h-1zM393.4 7.6h1v177.9h-1zM394.4 7.6h1v177.9h-1zM395.4 7.6h1v177.9h-1zM400.4 7.6h1v177.9h-1zM409.4 7.6h1v177.9h-1zM410.4 7.6h1v177.9h-1zM415.4 7.6h1v177.9h-1zM421.4 7.6h1v177.9h-1zM422.4 7.6h1v177.9h-1zM423.4 7.6h1v177.9h-1zM429.4 7.6h1v177.9h-1zM430.4 7.6h1v177.9h-1zM435.4 7.6h1v177.9h-1zM436.4 7.6h1v177.9h-1zM438.4 7.6h1v177.9h-1zM440.4 7.6h1v177.9h-1zM441.4 7.6h1v177.9h-1zM442.4 7.6h1v177.9h-1zM446.4 7.6h1v177.9h-1zM447.4 7.6h1v177.9h-1zM454.4 7.6h1v177.9h-1zM460.4 7.6h1v177.9h-1zM472.4 7.6h1v177.9h-1zM475.4 7.6h1v177.9h-1zM476.4 7.6h1v177.9h-1zM477.4 7.6h1v177.9h-1zM479.4 7.6h1v177.9h-1zM482.4 7.6h1v177.9h-1zM483.4 7.6h1v177.9h-1zM484.4 7.6h1v177.9h-1zM486.4 7.6h1v177.9h-1zM489.4 7.6h1v177.9h-1zM491.4 7.6h1v177.9h-1zM492.4 7.6h1v177.9h-1zM493.4 7.6h1v177.9h-1zM497.4 7.6h1v177.9h-1zM501.4 7.6h1v177.9h-1zM503.4 7.6h1v177.9h-1zM509.4 7.6h1v177.9h-1zM511.4 7.6h1v177.9h-1zM512.4 7.6h1v177.9h-1zM517.4 7.6h1v177.9h-1zM519.4 7.6h1v177.9h-1z"/><path fill="#000000" fill-opacity="0.02" d="M313.4 7.6h1v177.9h-1zM318.4 7.6h1v177.9h-1zM320.4 7.6h1v177.9h-1zM325.4 7.6h1v177.9h-1zM326.4 7.6h1v177.9h-1zM342.4 7.6h1v177.9h-1zM348.4 7.6h1v177.9h-1zM350.4 7.6h1v177.9h-1zM351.4 7.6h1v177.9h-1zM355.4 7.6h1v177.9h-1zM363.4 7.6h1v177.9h-1zM367.4 7.6h1v177.9h-1zM369.4 7.6h1v177.9h-1zM372.4 7.6h1v177.9h-1zM374.4 7.6h1v177.9h-1zM376.4 7.6h1v177.9h-1zM377.4 7.6h1v177.9h-1zM380.4 7.6h1v177.9h-1zM383.4 7.6h1v177.9h-1zM385.4 7.6h1v177.9h-1zM387.4 7.6h1v177.9h-1zM391.4 7.6h1v177.9h-1zM397.4 7.6h1v177.9h-1zM398.4 7.6h1v177.9h-1zM399.4 7.6h1v177.9h-1zM401.4 7.6h1v177.9h-1zM406.4 7.6h1v177.9h-1zM407.4 7.6h1v177.9h-1zM416.4 7.6h1v177.9h-1zM424.4 7.6h1v177.9h-1zM426.4 7.6h1v177.9h-1zM428.4 7.6h1v177.9h-1zM431.4 7.6h1v177.9h-1zM432.4 7.6h1v177.9h-1zM433.4 7.6h1v177.9h-1zM443.4 7.6h1v177.9h-1zM445.4 7.6h1v177.9h-1zM451.4 7.6h1v177.9h-1zM452.4 7.6h1v177.9h-1zM457.4 7.6h1v177.9h-1zM458.4 7.6h1v177.9h-1zM465.4 7.6h1v177.9h-1zM468.4 7.6h1v177.9h-1zM470.4 7.6h1v177.9h-1zM478.4 7.6h1v177.9h-1zM502.4 7.6h1v177.9h-1zM504.4 7.6h1v177.9h-1zM505.4 7.6h1v177.9h-1zM506.4 7.6h1v177.9h-1zM507.4 7.6h1v177.9h-1zM516.4 7.6h1v177.9h-1zM518.4 7.6h1v177.9h-1z"/>
<g filter="url(#bl1)">
<rect x="329" y="67.5" width="21.5" height="1.60" rx="0.80" fill="#1ea6e1"/>
<rect x="363" y="28.0" width="29.5" height="1.28" rx="0.64" fill="#2e86f4"/>
<rect x="397" y="21.4" width="34.0" height="1.44" rx="0.72" fill="#2598ea"/>
<rect x="404" y="35.1" width="31.5" height="1.44" rx="0.72" fill="#1ea6e1"/>
<rect x="410" y="44.6" width="35.5" height="1.60" rx="0.80" fill="#1ea6e1"/>
<rect x="401" y="52.0" width="18.0" height="1.12" rx="0.56" fill="#2794ec"/>
<rect x="394.5" y="70.7" width="21.0" height="1.12" rx="0.56" fill="#2e86f4"/>
<rect x="487.6" y="26.4" width="23.4" height="1.20" rx="0.60" fill="#1ea6e1"/>
<rect x="456.6" y="43.0" width="22.1" height="1.12" rx="0.56" fill="#327cfa"/>
<rect x="462" y="68.1" width="20.0" height="1.20" rx="0.60" fill="#229fe5"/>
<rect x="455" y="10.5" width="20.0" height="0.96" rx="0.48" fill="#4267fc"/>
<rect x="361" y="15.9" width="16.0" height="0.96" rx="0.48" fill="#4267fc"/>
<rect x="319" y="162.0" width="14.0" height="0.96" rx="0.48" fill="#2794ec"/>
<rect x="331" y="17.3" width="9.0" height="0.96" rx="0.48" fill="#4267fc"/>
<rect x="414" y="35.0" width="16" height="1.6" fill="#33c7a1"/>
<rect x="420" y="44.4" width="17" height="2.0" fill="#f7f619"/>
<rect x="333" y="67.5" width="12" height="1.6" fill="#0db3d2"/>
<path d="M433.3 83.5 L457.7 80.2" stroke="#229fe5" stroke-width="1.4" stroke-linecap="round"/>
</g>
<ellipse cx="420" cy="35.3" rx="20" ry="6" fill="none" stroke="#d4204c" stroke-width="1"/>
<path d="M391.6 63 L406.6 42.6" stroke="#d4204c" stroke-width="0.9"/>
<path d="M408.6 39.8 L403.6 43.6 L407.7 46.2 Z" fill="#d4204c"/>
<text x="382" y="69.6" font-size="6.5" text-anchor="middle" fill="#d4204c" font-family="'Liberation Sans',Arial,sans-serif">Target</text>
<rect x="36.5" y="525.6" width="213.2" height="180.9" fill="#4221b2"/>
<rect x="31.5" y="520.6" width="223.2" height="190.9" fill="#000f00" filter="url(#nzE)" opacity="0.25"/>
<path fill="#ffffff" fill-opacity="0.022" d="M40.5 525.6h1v180.9h-1zM44.5 525.6h1v180.9h-1zM45.5 525.6h1v180.9h-1zM49.5 525.6h1v180.9h-1zM61.5 525.6h1v180.9h-1zM76.5 525.6h1v180.9h-1zM77.5 525.6h1v180.9h-1zM86.5 525.6h1v180.9h-1zM88.5 525.6h1v180.9h-1zM92.5 525.6h1v180.9h-1zM94.5 525.6h1v180.9h-1zM95.5 525.6h1v180.9h-1zM96.5 525.6h1v180.9h-1zM97.5 525.6h1v180.9h-1zM100.5 525.6h1v180.9h-1zM104.5 525.6h1v180.9h-1zM110.5 525.6h1v180.9h-1zM114.5 525.6h1v180.9h-1zM121.5 525.6h1v180.9h-1zM127.5 525.6h1v180.9h-1zM141.5 525.6h1v180.9h-1zM144.5 525.6h1v180.9h-1zM147.5 525.6h1v180.9h-1zM153.5 525.6h1v180.9h-1zM156.5 525.6h1v180.9h-1zM166.5 525.6h1v180.9h-1zM168.5 525.6h1v180.9h-1zM171.5 525.6h1v180.9h-1zM172.5 525.6h1v180.9h-1zM174.5 525.6h1v180.9h-1zM177.5 525.6h1v180.9h-1zM178.5 525.6h1v180.9h-1zM179.5 525.6h1v180.9h-1zM182.5 525.6h1v180.9h-1zM183.5 525.6h1v180.9h-1zM185.5 525.6h1v180.9h-1zM190.5 525.6h1v180.9h-1zM197.5 525.6h1v180.9h-1zM198.5 525.6h1v180.9h-1zM205.5 525.6h1v180.9h-1zM206.5 525.6h1v180.9h-1zM208.5 525.6h1v180.9h-1zM209.5 525.6h1v180.9h-1zM213.5 525.6h1v180.9h-1zM217.5 525.6h1v180.9h-1zM218.5 525.6h1v180.9h-1zM221.5 525.6h1v180.9h-1zM226.5 525.6h1v180.9h-1zM231.5 525.6h1v180.9h-1zM235.5 525.6h1v180.9h-1zM240.5 525.6h1v180.9h-1zM242.5 525.6h1v180.9h-1zM243.5 525.6h1v180.9h-1zM246.5 525.6h1v180.9h-1zM247.5 525.6h1v180.9h-1zM248.5 525.6h1v180.9h-1z"/><path fill="#000000" fill-opacity="0.022" d="M36.5 525.6h1v180.9h-1zM37.5 525.6h1v180.9h-1zM43.5 525.6h1v180.9h-1zM47.5 525.6h1v180.9h-1zM48.5 525.6h1v180.9h-1zM51.5 525.6h1v180.9h-1zM53.5 525.6h1v180.9h-1zM54.5 525.6h1v180.9h-1zM56.5 525.6h1v180.9h-1zM62.5 525.6h1v180.9h-1zM64.5 525.6h1v180.9h-1zM66.5 525.6h1v180.9h-1zM70.5 525.6h1v180.9h-1zM72.5 525.6h1v180.9h-1zM73.5 525.6h1v180.9h-1zM75.5 525.6h1v180.9h-1zM78.5 525.6h1v180.9h-1zM80.5 525.6h1v180.9h-1zM83.5 525.6h1v180.9h-1zM87.5 525.6h1v180.9h-1zM89.5 525.6h1v180.9h-1zM91.5 525.6h1v180.9h-1zM98.5 525.6h1v180.9h-1zM109.5 525.6h1v180.9h-1zM111.5 525.6h1v180.9h-1zM112.5 525.6h1v180.9h-1zM113.5 525.6h1v180.9h-1zM116.5 525.6h1v180.9h-1zM117.5 525.6h1v180.9h-1zM119.5 525.6h1v180.9h-1zM120.5 525.6h1v180.9h-1zM122.5 525.6h1v180.9h-1zM129.5 525.6h1v180.9h-1zM130.5 525.6h1v180.9h-1zM136.5 525.6h1v180.9h-1zM143.5 525.6h1v180.9h-1zM146.5 525.6h1v180.9h-1zM149.5 525.6h1v180.9h-1zM150.5 525.6h1v180.9h-1zM151.5 525.6h1v180.9h-1zM157.5 525.6h1v180.9h-1zM160.5 525.6h1v180.9h-1zM161.5 525.6h1v180.9h-1zM175.5 525.6h1v180.9h-1zM181.5 525.6h1v180.9h-1zM184.5 525.6h1v180.9h-1zM187.5 525.6h1v180.9h-1zM191.5 525.6h1v180.9h-1zM195.5 525.6h1v180.9h-1zM199.5 525.6h1v180.9h-1zM200.5 525.6h1v180.9h-1zM202.5 525.6h1v180.9h-1zM203.5 525.6h1v180.9h-1zM204.5 525.6h1v180.9h-1zM207.5 525.6h1v180.9h-1zM210.5 525.6h1v180.9h-1zM220.5 525.6h1v180.9h-1zM222.5 525.6h1v180.9h-1zM228.5 525.6h1v180.9h-1zM233.5 525.6h1v180.9h-1zM234.5 525.6h1v180.9h-1zM237.5 525.6h1v180.9h-1zM241.5 525.6h1v180.9h-1zM244.5 525.6h1v180.9h-1z"/>
<defs><linearGradient id="sp1" x1="0" y1="0" x2="0" y2="1"><stop offset="0" stop-color="#4640e1" stop-opacity="0"/><stop offset="0.15" stop-color="#4749ea" stop-opacity="1"/><stop offset="0.33" stop-color="#327cfa" stop-opacity="1"/><stop offset="0.42" stop-color="#0ab6cc" stop-opacity="1"/><stop offset="0.5" stop-color="#4fcb8b" stop-opacity="1"/><stop offset="0.56" stop-color="#1ac1b6" stop-opacity="1"/><stop offset="0.68" stop-color="#15adda" stop-opacity="1"/><stop offset="0.8" stop-color="#465af7" stop-opacity="1"/><stop offset="1" stop-color="#4640e1" stop-opacity="0"/></linearGradient><linearGradient id="sp2" x1="0" y1="0" x2="0" y2="1"><stop offset="0" stop-color="#4640e1" stop-opacity="0"/><stop offset="0.2" stop-color="#4852f4" stop-opacity="0.8"/><stop offset="0.35" stop-color="#3874fb" stop-opacity="1"/><stop offset="0.5" stop-color="#327cfa" stop-opacity="1"/><stop offset="0.65" stop-color="#3f6bfc" stop-opacity="1"/><stop offset="0.8" stop-color="#4852f4" stop-opacity="0.8"/><stop offset="1" stop-color="#4640e1" stop-opacity="0"/></linearGradient><linearGradient id="sp3" x1="0" y1="0" x2="0" y2="1"><stop offset="0" stop-color="#4640e1" stop-opacity="0"/><stop offset="0.3" stop-color="#4749ea" stop-opacity="0.8"/><stop offset="0.5" stop-color="#4852f4" stop-opacity="0.9"/><stop offset="0.7" stop-color="#4749ea" stop-opacity="0.8"/><stop offset="1" stop-color="#4640e1" stop-opacity="0"/></linearGradient></defs>
<g filter="url(#bl2)">
<rect x="149.2" y="562" width="2.2" height="60" fill="url(#sp1)"/>
<rect x="146.6" y="570" width="1.7" height="44" fill="url(#sp2)"/>
<rect x="144.2" y="575" width="1.4" height="38" fill="url(#sp3)"/>
</g>
<rect x="36.8" y="6.3" width="212.4" height="179.9" fill="none" stroke="#1c1850" stroke-width="0.7" stroke-opacity="0.75"/>
<path d="M71.5 186.5v-2.2M71.5 6.0v2.2M106.8 186.5v-2.2M106.8 6.0v2.2M142.1 186.5v-2.2M142.1 6.0v2.2M177.4 186.5v-2.2M177.4 6.0v2.2M212.7 186.5v-2.2M212.7 6.0v2.2M248.0 186.5v-2.2M248.0 6.0v2.2M36.5 46.6h2.2M249.5 46.6h-2.2M36.5 86.6h2.2M249.5 86.6h-2.2M36.5 126.6h2.2M249.5 126.6h-2.2M36.5 166.6h2.2M249.5 166.6h-2.2" stroke="#222" stroke-width="0.6" fill="none"/>
<text transform="translate(71.5 201.6) scale(1 1.08)" font-size="10.1" text-anchor="middle" fill="#2b2b2b">500</text>
<text transform="translate(106.8 201.6) scale(1 1.08)" font-size="10.1" text-anchor="middle" fill="#2b2b2b">1000</text>
<text transform="translate(142.1 201.6) scale(1 1.08)" font-size="10.1" text-anchor="middle" fill="#2b2b2b">1500</text>
<text transform="translate(177.4 201.6) scale(1 1.08)" font-size="10.1" text-anchor="middle" fill="#2b2b2b">2000</text>
<text transform="translate(212.7 201.6) scale(1 1.08)" font-size="10.1" text-anchor="middle" fill="#2b2b2b">2500</text>
<text transform="translate(248 201.6) scale(1 1.08)" font-size="10.1" text-anchor="middle" fill="#2b2b2b">3000</text>
<text transform="translate(32.7 49.9) scale(1 1.08)" font-size="10.1" text-anchor="end" fill="#2b2b2b">100</text>
<text transform="translate(32.7 89.9) scale(1 1.08)" font-size="10.1" text-anchor="end" fill="#2b2b2b">200</text>
<text transform="translate(32.7 129.9) scale(1 1.08)" font-size="10.1" text-anchor="end" fill="#2b2b2b">300</text>
<text transform="translate(32.7 169.9) scale(1 1.08)" font-size="10.1" text-anchor="end" fill="#2b2b2b">400</text>
<text transform="translate(144.4 216) scale(1 1.08)" font-size="10.35" text-anchor="middle" fill="#2b2b2b">Doppler frequency bin</text>
<text transform="translate(13.2 96.3) rotate(-90) scale(1.11 1)" font-size="10.35" text-anchor="middle" fill="#2b2b2b">Range&#160;&#160;bin</text>
<g fill="#1a1a1a" font-size="14.6"><text transform="translate(129.69 240.4) scale(1 1.14)">(</text><text transform="translate(134.55 240.4) scale(1 1.2)" font-weight="bold">a</text><text transform="translate(141.85 240.4) scale(1 1.14)">)</text></g>
<rect x="312.7" y="7.9" width="207.6" height="177.3" fill="none" stroke="#1c1850" stroke-width="0.7" stroke-opacity="0.75"/>
<path d="M346.9 185.5v-2.2M346.9 7.6v2.2M381.6 185.5v-2.2M381.6 7.6v2.2M416.3 185.5v-2.2M416.3 7.6v2.2M451.0 185.5v-2.2M451.0 7.6v2.2M485.7 185.5v-2.2M485.7 7.6v2.2M520.4 185.5v-2.2M520.4 7.6v2.2M312.4 47.2h2.2M520.6 47.2h-2.2M312.4 86.7h2.2M520.6 86.7h-2.2M312.4 126.2h2.2M520.6 126.2h-2.2M312.4 165.8h2.2M520.6 165.8h-2.2" stroke="#222" stroke-width="0.6" fill="none"/>
<text transform="translate(346.9 199.8) scale(1 1.08)" font-size="10.1" text-anchor="middle" fill="#2b2b2b">500</text>
<text transform="translate(381.6 199.8) scale(1 1.08)" font-size="10.1" text-anchor="middle" fill="#2b2b2b">1000</text>
<text transform="translate(416.3 199.8) scale(1 1.08)" font-size="10.1" text-anchor="middle" fill="#2b2b2b">1500</text>
<text transform="translate(451 199.8) scale(1 1.08)" font-size="10.1" text-anchor="middle" fill="#2b2b2b">2000</text>
<text transform="translate(485.7 199.8) scale(1 1.08)" font-size="10.1" text-anchor="middle" fill="#2b2b2b">2500</text>
<text transform="translate(520.4 199.8) scale(1 1.08)" font-size="10.1" text-anchor="middle" fill="#2b2b2b">3000</text>
<text transform="translate(308.6 50.5) scale(1 1.08)" font-size="10.1" text-anchor="end" fill="#2b2b2b">100</text>
<text transform="translate(308.6 90) scale(1 1.08)" font-size="10.1" text-anchor="end" fill="#2b2b2b">200</text>
<text transform="translate(308.6 129.6) scale(1 1.08)" font-size="10.1" text-anchor="end" fill="#2b2b2b">300</text>
<text transform="translate(308.6 169.1) scale(1 1.08)" font-size="10.1" text-anchor="end" fill="#2b2b2b">400</text>
<text transform="translate(416.6 214.7) scale(1 1.08)" font-size="10.35" text-anchor="middle" fill="#2b2b2b">Doppler frequency bin</text>
<text transform="translate(289.6 96.3) rotate(-90) scale(1.11 1)" font-size="10.35" text-anchor="middle" fill="#2b2b2b">Range bin</text>
<g fill="#1a1a1a" font-size="14.6"><text transform="translate(402.78 240.4) scale(1 1.14)">(</text><text transform="translate(407.64 240.4) scale(1 1.2)" font-weight="bold">b</text><text transform="translate(415.76 240.4) scale(1 1.14)">)</text></g>
<rect x="36.8" y="525.9" width="212.6" height="180.3" fill="none" stroke="#1c1850" stroke-width="0.7" stroke-opacity="0.75"/>
<path d="M72.7 706.5v-2.2M72.7 525.6v2.2M109.6 706.5v-2.2M109.6 525.6v2.2M146.5 706.5v-2.2M146.5 525.6v2.2M183.4 706.5v-2.2M183.4 525.6v2.2M220.3 706.5v-2.2M220.3 525.6v2.2M36.5 552.4h2.2M249.7 552.4h-2.2M36.5 581.7h2.2M249.7 581.7h-2.2M36.5 610.9h2.2M249.7 610.9h-2.2M36.5 640.2h2.2M249.7 640.2h-2.2M36.5 669.4h2.2M249.7 669.4h-2.2M36.5 698.7h2.2M249.7 698.7h-2.2" stroke="#222" stroke-width="0.6" fill="none"/>
<text transform="translate(72.7 722) scale(1 1.08)" font-size="10.1" text-anchor="middle" fill="#2b2b2b">500</text>
<text transform="translate(109.6 722) scale(1 1.08)" font-size="10.1" text-anchor="middle" fill="#2b2b2b">1000</text>
<text transform="translate(146.5 722) scale(1 1.08)" font-size="10.1" text-anchor="middle" fill="#2b2b2b">1500</text>
<text transform="translate(183.4 722) scale(1 1.08)" font-size="10.1" text-anchor="middle" fill="#2b2b2b">2000</text>
<text transform="translate(220.3 722) scale(1 1.08)" font-size="10.1" text-anchor="middle" fill="#2b2b2b">2500</text>
<text transform="translate(32.7 555.7) scale(1 1.08)" font-size="10.1" text-anchor="end" fill="#2b2b2b">5</text>
<text transform="translate(32.7 585) scale(1 1.08)" font-size="10.1" text-anchor="end" fill="#2b2b2b">10</text>
<text transform="translate(32.7 614.2) scale(1 1.08)" font-size="10.1" text-anchor="end" fill="#2b2b2b">15</text>
<text transform="translate(32.7 643.5) scale(1 1.08)" font-size="10.1" text-anchor="end" fill="#2b2b2b">20</text>
<text transform="translate(32.7 672.7) scale(1 1.08)" font-size="10.1" text-anchor="end" fill="#2b2b2b">25</text>
<text transform="translate(32.7 702) scale(1 1.08)" font-size="10.1" text-anchor="end" fill="#2b2b2b">30</text>
<text transform="translate(141.5 735.6) scale(1 1.08)" font-size="10.35" text-anchor="middle" fill="#2b2b2b">Doppler frequency bin</text>
<text transform="translate(18.2 617.5) rotate(-90) scale(1.11 1)" font-size="10.35" text-anchor="middle" fill="#2b2b2b">Range bin</text>
<g fill="#1a1a1a" font-size="14.6"><text transform="translate(130.40 763.3) scale(1 1.14)">(</text><text transform="translate(135.26 763.3) scale(1 1.2)" font-weight="bold">e</text><text transform="translate(141.74 763.3) scale(1 1.14)">)</text></g>
<path d="M76.5 394.7L76.5 291.2M116.4 382.8L116.4 279.3M156.4 370.9L156.4 267.4M36.5 354.9L156.4 319.2M36.5 303.1L156.4 267.4M248.5 418.1L248.5 314.6M217.8 402.4L217.8 298.9M187.1 386.6L187.1 283.1M156.4 319.2L248.5 366.4M156.4 267.4L248.5 314.6M76.5 394.7L168.6 441.9M116.4 382.8L208.5 430.0M156.4 370.9L248.5 418.1M128.6 453.8L248.5 418.1M97.9 438.1L217.8 402.4M67.2 422.3L187.1 386.6" stroke="#e2e2e2" stroke-width="0.7" fill="none"/>
<polygon points="36.5,404.6 37.4,403.6 38.2,403.5 39.1,403.7 39.9,403.0 40.8,402.7 41.6,402.5 42.5,402.2 43.3,401.3 44.2,400.7 45.0,401.0 45.9,400.7 46.7,400.6 47.6,400.8 48.4,400.4 49.3,399.6 50.1,398.9 51.0,398.6 51.8,398.5 52.7,397.7 53.5,398.2 54.4,397.9 55.2,398.3 56.1,397.9 56.9,397.6 57.8,397.6 58.6,396.8 59.5,396.2 60.3,396.1 61.2,396.2 62.0,396.7 62.9,396.5 63.7,395.7 64.6,395.3 65.4,395.0 66.3,395.0 67.1,395.0 68.0,393.8 68.8,394.1 69.7,394.1 70.5,394.7 71.4,394.3 72.2,393.5 73.1,392.4 73.9,391.7 74.8,391.6 75.7,392.4 76.5,392.8 77.4,391.8 78.2,391.0 79.1,390.1 79.9,391.0 80.8,391.2 81.6,390.8 82.5,389.9 83.3,389.3 84.2,389.7 85.0,390.0 85.9,390.0 86.7,390.1 87.6,388.9 88.4,388.3 89.3,387.9 90.1,387.8 91.0,387.9 91.8,387.7 92.7,387.6 93.5,386.5 94.4,386.3 95.2,385.8 96.1,386.4 96.9,386.1 97.8,386.7 98.6,386.4 99.5,385.4 100.3,384.5 101.2,383.6 102.0,384.0 102.9,383.9 103.7,384.4 104.6,383.2 105.4,382.2 106.3,381.8 107.1,382.3 108.0,382.8 108.8,382.0 109.7,382.2 110.5,382.3 111.4,382.4 112.2,381.9 113.1,380.7 113.9,380.1 114.8,379.5 115.7,379.4 116.5,379.2 117.4,378.7 118.2,378.1 119.1,378.5 119.9,378.5 120.8,379.2 121.6,378.6 122.5,378.1 123.3,376.9 124.2,376.3 125.0,377.0 125.9,377.4 126.7,377.8 127.6,376.4 128.4,376.4 129.3,376.1 130.1,376.6 131.0,376.4 131.8,375.4 132.7,374.8 133.5,374.5 134.4,374.7 135.2,375.1 136.1,374.3 136.9,374.3 137.8,374.1 138.6,374.5 139.5,373.8 140.3,372.9 141.2,372.4 142.0,372.0 142.9,372.1 143.7,372.1 144.6,372.2 145.4,371.9 146.3,370.7 147.1,370.7 148.0,370.8 148.8,371.0 149.7,369.7 150.5,368.5 151.4,368.0 152.2,368.9 153.1,368.7 154.0,368.5 154.8,368.3 154.8,369.4 155.4,369.7 156.1,369.2 156.7,369.2 157.4,368.6 158.0,369.0 158.6,369.9 159.3,370.2 159.9,371.2 160.6,371.6 161.2,372.4 161.8,372.5 162.5,372.6 163.1,372.7 163.8,372.9 164.4,373.2 165.0,373.5 165.7,374.1 166.3,373.9 167.0,374.6 167.6,374.4 168.3,375.1 168.9,375.0 169.5,375.5 170.2,375.7 170.8,376.3 171.5,376.3 172.1,377.1 172.7,377.3 173.4,378.1 174.0,378.5 174.7,378.9 175.3,378.9 175.9,378.3 176.6,378.0 177.2,378.1 177.9,378.4 178.5,379.1 179.1,379.7 179.8,380.4 180.4,380.1 181.1,380.7 181.7,381.1 182.3,381.2 183.0,381.1 183.6,380.6 184.3,381.2 184.9,381.3 185.5,381.9 186.2,382.1 186.8,383.2 187.5,383.3 188.1,383.2 188.7,382.7 189.4,382.6 190.0,383.2 190.7,383.2 191.3,384.3 192.0,384.1 192.6,384.9 193.2,385.2 193.9,385.7 194.5,385.9 195.2,385.7 195.8,385.7 196.4,386.3 197.1,386.4 197.7,387.2 198.4,387.0 199.0,387.5 199.6,388.1 200.3,388.4 200.9,388.3 201.6,388.6 202.2,389.6 202.8,390.9 203.5,390.9 204.1,390.1 204.8,390.5 205.4,390.2 206.0,391.2 206.7,391.5 207.3,392.6 208.0,393.4 208.6,393.1 209.2,393.3 209.9,393.7 210.5,394.6 211.2,394.7 211.8,394.5 212.4,394.7 213.1,395.7 213.7,396.2 214.4,396.0 215.0,396.8 215.6,398.0 216.3,399.1 216.9,399.0 217.6,399.6 218.2,400.4 218.9,401.1 219.5,401.2 220.1,400.8 220.8,400.7 221.4,401.6 222.1,402.8 222.7,403.4 223.3,402.8 224.0,402.1 224.6,402.6 225.3,403.0 225.9,403.4 226.5,403.7 227.2,404.2 227.8,405.3 228.5,406.0 229.1,406.5 229.7,407.2 230.4,407.0 231.0,407.1 231.7,406.4 232.3,407.0 232.9,408.2 233.6,408.6 234.2,408.4 234.9,407.7 235.5,408.5 236.1,409.0 236.8,410.1 237.4,410.9 238.1,411.7 238.7,411.6 239.3,411.8 240.0,411.7 240.6,412.3 241.3,412.4 241.9,412.4 242.6,413.2 243.2,413.5 243.8,415.0 125.5,451.0" fill="#4a34d6"/>
<path d="M62.4 404.8L64.7 404.2M93.8 420.1L95.8 419.5M95.9 434.0L98.4 433.3M150.8 380.4L154.3 379.4M136.0 412.6L138.0 412.0M61.0 415.2L62.6 414.7M117.5 404.2L119.7 403.5M188.9 422.7L189.9 422.4M111.9 395.3L114.0 394.6M126.4 451.0L129.0 450.2M123.3 444.7L125.2 444.2M113.9 393.1L115.8 392.5M193.8 432.7L195.8 432.2M167.3 437.1L169.7 436.4M129.3 383.5L131.2 383.0M159.2 427.8L162.5 426.8M163.8 383.0L167.1 382.0M111.0 443.3L113.1 442.7M132.4 414.4L135.3 413.5M201.3 427.2L203.0 426.7M170.4 410.8L172.1 410.3M156.0 441.9L157.6 441.4M210.2 419.2L213.8 418.2M110.6 415.7L112.4 415.2M104.5 431.6L105.5 431.3M207.7 408.6L209.4 408.1M203.3 408.9L205.2 408.3M164.6 397.6L166.0 397.2M152.4 394.6L155.7 393.6M164.0 432.2L167.3 431.2M133.5 402.0L135.5 401.4M151.0 411.1L153.8 410.2M191.0 406.0L193.0 405.4M101.9 402.9L103.1 402.6M115.3 398.3L118.6 397.4M142.9 403.0L144.3 402.6M106.1 390.1L107.5 389.7M107.6 412.5L110.1 411.8M120.0 418.8L121.9 418.2M138.4 415.3L140.1 414.9M209.9 405.6L213.2 404.6M226.3 411.5L229.7 410.4M130.1 401.1L133.0 400.2M180.3 420.5L181.4 420.2M101.9 395.4L103.5 394.9M162.1 378.0L165.6 377.0M125.8 436.8L127.7 436.2M142.7 446.8L146.1 445.8M159.4 410.6L162.3 409.7M124.0 415.3L125.2 415.0M125.4 431.2L127.2 430.6M136.6 426.5L139.7 425.6M122.3 450.1L125.6 449.1M126.7 384.3L128.3 383.8M109.1 420.9L111.9 420.1M113.4 422.6L114.5 422.3M160.8 377.9L163.3 377.1M202.3 406.6L205.9 405.5M98.4 423.3L100.9 422.6M201.1 427.7L203.8 427.0M118.5 385.5L120.8 384.8M63.9 407.4L66.0 406.8M108.9 413.5L112.1 412.5M113.0 387.4L114.2 387.1M106.5 390.5L109.3 389.7M99.7 428.8L101.9 428.2M174.7 419.0L177.9 418.1M108.4 433.3L111.8 432.3M77.1 401.3L79.0 400.7M53.5 411.0L55.1 410.6M125.6 382.3L129.1 381.3M145.8 376.5L148.2 375.7M190.5 405.5L192.3 405.0M129.2 450.8L130.8 450.3M129.3 383.5L132.4 382.6M135.9 397.6L138.4 396.8M66.7 416.3L68.2 415.8M180.1 436.5L182.6 435.7M112.3 438.5L114.0 437.9M194.2 420.8L196.3 420.2M226.7 414.9L227.8 414.5M138.0 437.8L139.2 437.5M110.3 423.4L113.0 422.6M137.9 442.7L139.6 442.3M105.7 396.7L108.5 395.9M124.9 448.6L127.1 447.9M198.7 425.4L200.3 424.9M147.1 409.8L150.5 408.8M99.5 420.5L101.9 419.7M188.5 392.4L191.5 391.5M89.0 421.0L90.7 420.4M144.2 447.1L147.4 446.1M188.8 413.8L190.8 413.1M122.6 394.0L125.6 393.1M95.0 412.1L96.3 411.7M91.8 424.6L94.2 423.8M104.5 408.5L106.8 407.9M114.9 436.2L118.1 435.2M93.2 400.5L96.4 399.5M97.1 411.8L98.8 411.3M104.7 407.1L107.5 406.3M198.4 408.0L199.7 407.6M123.3 408.5L125.0 408.0M82.9 405.2L84.0 404.9M105.7 427.0L107.6 426.5M174.6 397.1L177.1 396.3M176.4 402.1L179.3 401.3M159.5 411.9L161.1 411.5M145.0 390.1L146.6 389.7M207.8 411.1L210.9 410.2M119.0 428.3L120.2 427.9M208.7 426.4L210.5 425.8M102.6 421.6L105.7 420.7M60.6 407.4L63.5 406.6M114.0 414.9L116.0 414.4M137.0 446.6L138.4 446.2M149.3 404.6L151.9 403.8M103.4 431.9L104.6 431.6M130.1 447.1L131.3 446.8M190.6 413.7L193.5 412.8M118.5 421.5L119.6 421.2M121.7 395.3L122.8 395.0M141.9 406.9L143.0 406.6M110.7 418.5L113.1 417.8M109.1 387.1L110.6 386.6M148.4 409.6L151.1 408.8M109.2 412.1L110.4 411.8M160.6 427.5L163.0 426.8M115.0 435.1L116.2 434.7M116.0 439.6L118.1 439.0M46.8 408.8L48.4 408.3M99.9 418.2L101.8 417.6M130.1 409.9L132.6 409.1M149.9 439.4L151.5 438.9M160.8 413.0L162.5 412.5M186.4 427.2L188.7 426.5M185.1 424.0L187.0 423.5M77.3 419.0L79.4 418.3M161.6 433.6L164.0 432.9M156.6 386.7L158.6 386.2M101.5 390.2L102.6 389.9M104.5 403.1L107.4 402.2M70.8 423.1L72.9 422.5M160.8 410.8L162.6 410.3M165.4 423.6L167.4 423.0M159.9 424.8L162.2 424.1M167.6 392.2L171.0 391.2M168.0 409.9L169.4 409.5M114.9 387.0L116.8 386.5M68.5 402.4L72.1 401.3M76.3 396.4L79.8 395.3M141.8 447.9L143.4 447.4M182.5 405.6L185.5 404.7M84.3 402.8L86.0 402.4M117.8 444.0L120.2 443.3M175.2 426.3L178.1 425.4M127.1 433.5L129.6 432.8M148.8 393.2L151.6 392.4M150.7 432.8L153.9 431.9M196.3 427.2L198.3 426.7M103.2 407.4L105.0 406.8M107.0 431.1L109.1 430.5M91.5 413.3L94.8 412.3M87.2 429.7L89.1 429.1M71.9 416.9L74.0 416.3M92.0 433.3L94.3 432.6M198.6 418.4L200.4 417.9M152.3 426.4L155.7 425.4M119.5 415.6L122.9 414.6M154.3 381.3L157.2 380.4M158.3 404.5L160.8 403.7M132.7 402.9L134.9 402.2M109.0 400.6L111.9 399.7M191.0 413.3L192.2 413.0M118.1 417.9L119.9 417.3M183.2 409.3L186.4 408.3M175.4 412.8L178.6 411.8M197.5 425.1L200.4 424.3M138.1 388.9L139.4 388.5M129.3 382.7L132.6 381.7M221.6 422.9L222.7 422.6M115.2 397.2L116.8 396.7M215.1 404.9L217.1 404.3M226.3 410.1L229.1 409.3M150.7 427.3L152.8 426.7M127.7 416.4L130.3 415.6M158.2 416.1L161.7 415.1M51.7 410.1L53.4 409.6M141.3 424.0L143.1 423.4M148.8 436.8L150.3 436.3M144.7 421.7L147.8 420.8M114.1 398.3L115.7 397.8M172.9 422.2L174.6 421.7M83.1 405.7L86.1 404.8M103.5 408.0L106.7 407.1M190.3 416.9L193.3 416.0M153.2 428.1L154.3 427.8M200.2 430.9L202.5 430.2M118.0 445.6L119.1 445.3M94.6 400.1L95.7 399.8M234.2 419.5L235.8 419.0M101.4 439.8L104.0 439.1M140.0 402.3L142.6 401.5M151.3 403.7L152.8 403.3M77.7 405.3L79.4 404.8M152.1 390.8L155.3 389.8M133.2 416.9L135.6 416.2M213.2 408.1L216.2 407.2M65.4 403.5L67.0 403.0M175.5 391.5L177.7 390.8M157.3 376.3L158.8 375.9M147.4 436.3L150.4 435.4M136.7 444.7L138.5 444.1M175.6 405.3L178.2 404.5M218.7 417.0L221.6 416.2M195.3 402.5L196.7 402.1M135.0 422.2L138.1 421.3M148.2 399.7L149.5 399.3M97.6 400.7L100.2 399.9M129.8 395.8L133.4 394.7M141.0 378.9L143.9 378.1M132.7 448.5L136.1 447.5M150.3 436.2L152.9 435.4M193.3 411.7L196.2 410.8M169.5 409.7L172.1 408.9M187.2 416.8L188.2 416.5M193.6 428.4L196.1 427.7M82.5 402.5L84.1 402.1M132.8 426.8L136.1 425.8M106.1 430.8L107.4 430.4M217.9 419.0L220.2 418.3M93.9 409.1L97.4 408.1M162.4 420.0L163.5 419.7M84.0 416.3L87.0 415.4M177.7 422.8L180.7 421.9M149.7 399.6L152.1 398.9M192.4 407.9L195.4 407.0M115.9 405.1L117.8 404.5M113.0 403.9L115.8 403.1M143.4 422.9L147.0 421.8M113.5 406.6L115.1 406.1M157.0 397.3L158.8 396.8M163.7 385.2L167.0 384.2M136.4 387.9L138.6 387.3M168.4 423.1L169.5 422.8M167.5 395.3L170.4 394.4M169.9 431.3L171.6 430.8M167.8 419.0L169.1 418.7M66.1 404.3L67.6 403.8M167.5 422.7L169.7 422.0M48.7 408.2L51.1 407.5M226.1 411.2L229.0 410.4M123.1 426.7L125.4 426.1M118.7 425.4L120.8 424.8M145.7 444.0L148.9 443.0M151.7 406.1L155.2 405.1M218.5 416.2L219.9 415.8M94.2 420.5L96.9 419.7M181.2 406.3L184.8 405.3M81.1 422.0L82.7 421.5M202.1 405.8L203.2 405.5M122.9 398.5L125.8 397.6M143.3 438.7L144.8 438.3M196.2 403.0L197.5 402.6M177.4 435.7L180.9 434.6M83.6 406.0L85.8 405.4M138.0 397.1L140.2 396.4M181.4 405.0L183.5 404.4M119.0 384.3L121.0 383.7M126.5 444.9L128.2 444.4M158.4 427.0L161.9 426.0M91.5 398.7L94.5 397.8M167.9 387.8L169.7 387.3M50.6 411.3L52.7 410.7M146.6 418.3L149.8 417.3M193.0 416.5L195.1 415.8M209.4 425.2L211.4 424.6M144.6 381.7L146.4 381.2M84.6 414.5L86.2 414.0M166.8 415.8L168.3 415.3M131.1 380.2L132.9 379.7M117.5 440.9L118.6 440.6M201.1 422.5L203.7 421.7M110.6 423.0L112.7 422.4M90.5 423.2L93.9 422.2M84.4 423.5L86.2 423.0M214.4 404.7L217.8 403.7M106.8 439.8L107.9 439.4M227.7 419.0L228.8 418.7M143.8 435.9L147.3 434.8M184.7 394.1L187.9 393.1M103.0 413.2L104.7 412.7M202.9 414.4L204.3 413.9M165.3 428.9L167.1 428.4M189.2 400.4L192.6 399.4M155.0 378.8L157.4 378.1M149.9 437.7L152.5 436.9M126.3 408.6L129.3 407.7M74.0 406.6L76.2 405.9M105.5 398.4L107.3 397.9M164.7 394.2L167.5 393.3M95.4 417.4L98.4 416.5M138.2 402.5L139.5 402.1M100.0 408.1L102.3 407.4M127.5 387.8L130.8 386.8M171.4 412.8L172.6 412.4M154.4 387.6L155.7 387.2M122.0 384.9L123.1 384.6M153.2 400.9L156.3 399.9M113.4 399.4L115.4 398.9M60.0 415.6L62.2 414.9M127.6 391.5L130.8 390.5M163.2 414.2L166.4 413.3M130.9 392.6L133.2 391.9M83.1 415.1L84.8 414.6M91.9 434.8L94.4 434.0M170.0 421.9L172.7 421.1M162.0 415.3L163.4 414.9M51.8 409.5L53.7 409.0M170.0 432.5L173.3 431.6M171.8 398.3L175.2 397.3M165.7 429.0L167.8 428.4M155.7 405.2L158.0 404.5M157.7 411.2L160.0 410.5M118.7 406.9L120.2 406.5M208.3 418.8L209.8 418.4M114.3 435.1L117.6 434.1M154.2 389.9L155.2 389.6M204.4 406.7L206.4 406.1M53.6 405.0L56.3 404.2M71.1 424.2L74.2 423.3M123.6 444.3L124.7 444.0M216.6 421.9L218.6 421.3M126.5 415.2L128.9 414.5M173.4 401.9L175.3 401.4M194.4 421.0L198.0 420.0M145.3 430.3L146.5 430.0M129.9 427.3L133.5 426.2M116.3 429.4L118.4 428.8M136.3 413.6L139.7 412.6M146.8 398.2L148.2 397.8M164.6 429.9L165.6 429.6M58.9 409.5L60.8 409.0M180.6 389.5L182.6 388.9M172.3 409.5L175.2 408.7M83.4 414.4L86.8 413.4M132.2 380.3L135.3 379.4M124.3 398.6L127.0 397.9M109.6 438.4L112.8 437.5M91.1 404.5L92.4 404.1M152.4 441.8L155.3 441.0M144.7 423.7L145.9 423.3M117.2 435.3L120.0 434.4M156.5 420.3L158.9 419.6M179.1 436.6L180.1 436.4M133.5 379.3L136.6 378.4M142.3 400.1L145.2 399.3M127.3 420.7L130.3 419.8M58.4 408.8L59.4 408.5M218.5 413.7L221.5 412.8M71.3 398.9L74.6 397.9M90.3 393.1L92.8 392.3M206.5 425.8L209.6 424.8M174.2 394.2L175.3 393.8M158.5 429.3L160.0 428.9M215.2 421.3L218.6 420.3M190.4 417.4L192.8 416.7M217.6 414.6L219.8 414.0M160.4 427.4L162.1 426.9M139.8 447.7L143.1 446.7M164.7 407.7L168.2 406.7M89.8 432.7L92.1 432.0M224.1 419.0L227.3 418.1M175.3 408.8L177.1 408.2M118.6 422.8L121.1 422.0M107.3 426.4L109.6 425.7M154.3 400.0L157.0 399.2M146.5 387.0L149.0 386.3M152.9 426.1L154.4 425.7M191.3 408.7L193.4 408.1M97.7 420.6L99.8 420.0M112.2 387.1L115.4 386.2M109.8 442.6L111.1 442.3M85.7 418.9L87.5 418.3M188.4 413.1L189.8 412.7M187.6 395.1L189.3 394.6M105.2 435.4L107.7 434.6M133.3 379.7L135.7 378.9M211.3 421.3L214.3 420.4M208.3 421.5L210.8 420.8M100.0 400.4L101.4 399.9M122.0 397.8L124.0 397.2M199.5 423.0L201.4 422.4M180.8 406.3L183.3 405.6M120.1 385.8L122.3 385.2M112.1 443.5L113.7 443.0M169.5 425.8L172.0 425.1M113.7 439.3L116.0 438.7M92.6 421.8L94.6 421.2M126.2 398.8L128.0 398.2M171.6 395.4L175.0 394.4M80.2 418.2L81.5 417.8M111.5 408.2L113.4 407.7M154.5 424.2L156.9 423.5M91.9 420.9L93.3 420.4M170.4 425.1L171.5 424.8M113.1 415.8L115.8 415.0M122.3 409.0L124.8 408.3M116.9 427.2L119.7 426.4M198.9 429.9L200.3 429.5M152.9 390.1L155.7 389.3M188.5 391.4L191.9 390.4M68.8 400.6L69.9 400.3M148.3 439.7L150.8 439.0M177.4 404.7L179.1 404.2M151.0 400.1L154.0 399.1M231.1 420.1L234.5 419.1M51.4 404.6L52.6 404.2M94.1 413.1L97.3 412.1M85.4 401.1L87.6 400.4M126.0 444.3L127.2 443.9M177.0 405.4L178.3 405.1M143.4 415.8L146.0 415.0M166.3 402.7L167.4 402.4M153.3 392.7L155.5 392.1M72.5 416.0L75.1 415.2M49.0 406.7L50.0 406.3M136.2 409.0L137.6 408.6M204.8 406.6L206.9 406.0M131.0 401.4L133.9 400.5M111.8 410.4L115.4 409.4M146.5 442.3L148.3 441.8M88.6 407.6L90.2 407.2M129.6 397.6L131.1 397.1M154.4 442.6L157.2 441.7M142.5 403.2L144.8 402.5M85.6 428.2L87.8 427.6M59.6 417.4L61.4 416.9M126.4 433.9L129.7 433.0M130.2 416.1L133.0 415.3M182.6 420.3L185.4 419.5M143.1 443.6L144.3 443.3M111.5 401.3L115.0 400.2M130.3 382.2L132.0 381.7M132.5 412.3L135.3 411.5M147.5 435.0L149.3 434.5M121.9 432.9L125.2 431.9M82.5 418.4L84.4 417.8M162.3 434.1L165.2 433.2M241.4 418.4L243.8 417.7M113.4 405.1L115.0 404.6M92.2 422.6L94.3 421.9M118.6 427.0L121.0 426.3M126.5 394.4L128.3 393.8M76.4 413.2L78.7 412.5M72.6 409.3L75.4 408.5M55.5 403.1L57.1 402.6M70.6 402.0L73.2 401.3M111.5 406.0L113.7 405.4M71.6 410.3L72.7 409.9M187.1 397.4L188.5 397.0M81.0 416.3L83.0 415.7M137.3 426.1L140.0 425.3M177.2 429.1L178.6 428.7M128.3 381.5L130.8 380.7M156.6 404.6L159.7 403.7M117.2 433.5L119.2 432.9M156.9 390.6L160.2 389.6M161.0 377.6L162.5 377.2M145.5 433.4L148.9 432.4M175.1 395.7L176.2 395.4M189.3 411.4L191.0 410.9M98.6 393.7L99.6 393.4M171.7 419.4L175.0 418.4M199.0 398.2L201.1 397.6M199.2 406.2L201.0 405.7M54.9 414.1L57.1 413.4M128.8 394.3L131.7 393.4M131.6 427.6L133.9 426.9M74.2 425.2L77.4 424.2M129.2 418.2L131.5 417.5M65.4 414.3L67.8 413.6M198.0 403.1L201.0 402.2M173.7 425.3L175.4 424.8M76.2 413.4L78.4 412.8M174.5 422.2L176.6 421.5M161.0 412.4L164.0 411.5M189.3 394.1L192.8 393.1M191.1 424.1L193.7 423.3M184.5 416.3L188.1 415.2M218.6 405.7L220.8 405.1M121.0 425.4L123.7 424.6M184.6 396.1L188.1 395.1M130.6 397.4L131.8 397.1M172.3 399.0L175.7 398.0M98.1 403.6L100.4 402.9M180.1 387.1L183.1 386.2M146.7 444.2L147.9 443.9M199.6 399.2L203.0 398.2M107.3 429.5L110.5 428.6M155.8 417.0L158.8 416.1M95.0 408.1L96.2 407.8M228.6 415.2L231.6 414.3M115.4 435.3L119.0 434.2M140.7 417.0L142.1 416.6M74.6 403.8L76.9 403.1M153.6 396.5L156.7 395.6M135.3 443.9L137.5 443.3M112.2 389.7L114.5 389.0M93.3 424.7L96.2 423.8M173.6 405.6L176.8 404.7M206.0 429.1L208.2 428.4M124.8 431.8L127.3 431.1M174.7 410.3L176.2 409.9M173.9 414.7L175.2 414.4M171.2 402.9L173.0 402.4M82.9 409.3L84.3 408.9M175.9 409.3L177.4 408.9M227.0 414.5L228.6 414.0M126.9 384.7L129.3 384.0M186.9 392.9L190.4 391.8M137.5 444.6L139.2 444.2M174.1 405.2L175.8 404.7M140.6 405.6L143.7 404.6M70.6 401.3L72.0 400.9M150.7 404.0L152.3 403.5M96.3 427.9L99.8 426.9M126.9 396.0L129.6 395.2M172.6 395.4L175.1 394.7M163.0 418.7L165.1 418.1M153.7 384.5L155.7 383.9M76.1 422.2L79.1 421.3M188.3 424.5L191.5 423.5M210.3 407.6L211.7 407.2M60.9 413.7L62.4 413.2M81.8 415.9L82.9 415.5M78.9 411.2L80.0 410.9M170.9 402.8L172.2 402.4M132.8 421.0L135.7 420.1M175.9 399.8L177.5 399.4M199.5 411.1L202.2 410.3M175.5 412.5L177.1 412.1M183.7 402.1L185.0 401.7M127.9 403.6L129.1 403.3M91.4 399.6L93.0 399.2M99.9 409.0L102.7 408.1M98.7 418.7L99.9 418.3M76.5 422.8L79.8 421.8M117.0 391.0L118.8 390.5M203.7 416.0L206.6 415.2M153.4 431.7L155.5 431.1M94.6 430.6L96.6 430.0M72.2 423.6L73.3 423.2M48.6 410.9L50.8 410.2M65.5 414.7L67.1 414.3M140.8 392.0L142.7 391.4M218.9 407.2L219.9 406.8M220.6 418.6L221.7 418.3M170.5 421.3L172.1 420.8M107.9 441.2L109.8 440.7M158.5 439.5L161.4 438.6M77.2 415.5L79.8 414.7M149.6 410.1L152.6 409.1M158.4 437.0L160.3 436.4M142.9 437.0L144.4 436.5M198.7 422.4L200.4 421.9M65.7 410.9L67.4 410.4M165.0 436.4L166.1 436.1M156.3 408.8L157.7 408.4M166.6 425.5L169.1 424.8M65.1 404.5L67.4 403.8M233.7 416.4L236.4 415.6M120.3 391.0L122.5 390.4M187.8 421.2L189.9 420.6M115.5 401.6L116.8 401.2M151.4 418.0L154.5 417.0M213.5 422.0L215.7 421.3M166.5 393.4L168.0 393.0M63.3 408.3L66.6 407.4M173.8 419.9L176.0 419.3M171.1 435.5L173.5 434.8M81.9 407.7L84.4 406.9M147.6 399.5L149.2 399.1M139.8 447.7L141.7 447.1M182.3 415.8L183.4 415.5M172.6 388.3L176.1 387.2M175.3 390.2L178.4 389.3M112.0 434.3L114.6 433.5M223.5 420.2L224.8 419.8M93.0 403.3L94.0 403.0M235.5 416.9L238.9 415.9M68.6 410.6L69.9 410.2M120.5 427.2L121.9 426.8M151.9 412.1L154.2 411.4M215.8 418.3L218.7 417.4M197.8 403.6L201.2 402.6M136.3 413.6L138.4 413.0M111.0 394.7L113.2 394.0M108.5 428.7L110.7 428.1M180.5 424.7L182.2 424.2M156.4 393.3L159.0 392.5M171.4 422.0L172.5 421.6M115.0 385.6L117.9 384.7M92.0 432.4L93.8 431.8M166.1 437.7L167.2 437.4M179.8 424.5L181.2 424.1M145.5 392.5L147.7 391.9M159.3 380.9L161.1 380.4M169.1 428.2L171.1 427.6M82.2 400.7L84.2 400.1M115.1 392.7L116.7 392.2M111.0 409.2L112.8 408.6M165.7 382.3L168.5 381.4M230.3 417.9L232.4 417.3M53.7 403.3L56.5 402.5M188.0 393.2L191.4 392.2M189.1 398.0L192.1 397.1M133.0 411.2L135.3 410.5M102.4 397.3L103.7 397.0M131.0 438.5L133.5 437.7M128.0 390.0L131.4 389.0M116.4 424.3L117.4 424.0M141.9 417.8L143.3 417.4M176.7 395.1L178.5 394.6M105.2 430.8L106.3 430.4M204.3 409.4L207.4 408.5M68.2 401.1L70.0 400.6M158.3 418.4L160.8 417.7M141.0 412.9L143.6 412.1M158.2 386.0L161.5 385.1M81.5 419.7L82.6 419.4M160.2 424.5L161.2 424.2M211.9 417.9L214.9 417.0M160.6 404.6L163.2 403.8M149.4 389.7L152.6 388.8M108.3 419.0L111.1 418.1M125.1 409.7L127.8 408.9M182.9 414.0L184.5 413.5M133.2 381.6L135.0 381.0M116.5 392.8L117.5 392.5M142.6 379.0L144.7 378.4M141.8 381.4L143.4 381.0M136.2 446.4L137.2 446.1M117.2 438.9L118.9 438.4M210.9 420.4L212.4 419.9M157.2 411.9L159.3 411.2M120.3 403.2L121.3 402.9M96.0 419.6L98.5 418.8M158.5 385.5L160.3 385.0M147.4 380.0L148.4 379.7M115.5 430.4L118.4 429.5M131.7 393.1L133.1 392.7M191.8 394.7L194.1 394.1M126.3 401.1L129.6 400.1M149.1 404.8L150.6 404.3M127.0 434.3L128.9 433.8M190.4 408.4L192.9 407.6M93.2 393.6L95.9 392.8M183.0 400.2L186.5 399.2M180.4 389.9L183.0 389.2M165.3 381.4L167.6 380.8M129.7 417.7L131.1 417.3M135.5 395.0L138.9 394.0M146.3 433.8L149.0 433.0M158.0 438.7L161.0 437.8M99.3 425.9L102.3 425.0M162.3 438.0L165.3 437.1M85.9 394.6L88.8 393.8M188.3 428.8L191.8 427.8M78.0 412.3L80.4 411.6M184.7 426.9L186.6 426.4M159.3 405.3L160.4 405.0M139.3 423.1L142.3 422.2M154.3 377.3L156.5 376.6M152.0 409.0L153.1 408.7M152.8 391.2L154.6 390.6M117.9 394.7L119.0 394.4M130.3 433.5L132.4 432.8M204.9 422.7L207.2 422.0M174.4 399.0L175.7 398.7M233.3 419.0L236.6 418.0M161.9 414.6L163.3 414.2M227.6 421.1L230.0 420.4M232.3 420.3L234.3 419.8M82.7 401.0L84.1 400.6M156.1 390.4L159.4 389.4M115.5 440.3L117.8 439.6M84.9 420.3L86.5 419.9M179.0 427.3L182.2 426.3M168.4 401.6L171.7 400.6M237.9 418.5L239.9 417.9M239.9 417.8L241.6 417.3M54.3 408.6L57.3 407.7M156.8 430.0L158.2 429.6M122.6 392.9L124.2 392.5M189.6 422.7L190.7 422.4M217.2 408.3L218.3 408.0M75.4 400.5L78.1 399.7M137.7 397.1L139.9 396.5M201.5 417.5L202.6 417.2M121.9 414.2L123.9 413.7M200.9 417.6L203.9 416.7M150.3 411.2L153.4 410.3M139.6 381.6L142.0 380.9M209.7 411.8L211.9 411.1M140.4 388.1L142.9 387.4M187.7 410.0L190.2 409.2M133.7 418.6L135.0 418.3M142.6 377.5L144.0 377.1M192.5 423.0L193.6 422.7M75.0 399.8L77.4 399.1M144.7 411.2L146.4 410.7M102.9 399.2L104.6 398.7M179.5 398.8L181.1 398.3M96.5 410.3L99.2 409.5M158.2 408.5L159.2 408.2M123.1 426.4L126.4 425.4M89.8 417.9L90.8 417.6M138.5 401.9L141.0 401.2M162.4 409.3L165.3 408.4M143.8 436.6L146.1 435.9M68.7 402.4L70.6 401.8M201.3 422.6L202.3 422.3M160.0 425.7L161.9 425.2M97.9 404.4L99.7 403.9M140.2 439.9L142.0 439.4M119.5 404.5L121.6 403.9M92.0 404.5L93.6 404.0M184.6 417.8L188.0 416.8M91.9 432.7L94.3 432.0M95.4 406.3L98.6 405.3M151.0 388.0L152.4 387.6M134.5 444.4L137.5 443.5M94.7 423.1L96.4 422.6M101.9 401.1L104.8 400.2M96.8 392.8L98.7 392.2M173.0 406.2L174.4 405.8M201.8 405.0L203.9 404.4M163.3 406.7L164.9 406.2M54.6 414.5L57.8 413.6M71.5 423.0L74.0 422.2M168.6 433.5L170.6 432.9M197.6 404.9L199.0 404.5M188.9 424.7L190.1 424.4M122.5 427.8L124.2 427.3M161.9 394.3L163.1 394.0M96.2 399.7L97.3 399.4M69.7 411.4L73.2 410.4M158.0 439.8L161.5 438.8M179.3 403.4L181.2 402.9M125.4 444.9L128.7 443.9M175.5 414.5L177.7 413.8M166.6 412.4L168.8 411.8M95.0 433.5L96.3 433.1M65.3 416.3L67.4 415.7M126.9 424.5L129.1 423.9M121.5 441.6L122.9 441.1M122.1 405.5L125.7 404.4M118.6 426.1L121.0 425.4M172.2 427.9L173.3 427.6M181.4 423.7L183.6 423.0M176.6 387.9L180.1 386.8M97.5 391.5L99.5 390.9M114.6 444.4L116.3 443.9M98.6 397.6L100.1 397.1M160.0 416.9L161.1 416.6M169.9 386.6L173.0 385.7M228.2 412.6L231.5 411.7M162.3 381.6L164.7 380.9M125.8 429.2L127.1 428.8M192.7 408.8L196.0 407.8M181.3 419.8L183.9 419.1M161.5 387.9L162.9 387.5M116.2 419.7L117.6 419.3M193.2 424.9L195.7 424.1M159.1 419.8L160.6 419.4M111.3 407.8L114.2 406.9M145.1 390.8L148.0 389.9M159.3 415.1L160.5 414.8M82.6 416.9L85.0 416.2M127.4 413.5L129.0 413.0M228.2 415.2L231.0 414.4M140.8 381.5L143.1 380.9M110.6 410.0L114.2 408.9M44.3 407.8L45.4 407.5M158.5 414.5L161.9 413.5M81.2 407.0L82.2 406.7M109.2 427.9L112.1 427.1M154.0 443.8L156.9 442.9M74.2 424.5L76.7 423.8M175.0 418.5L178.3 417.5M152.6 377.0L155.7 376.1M217.9 410.3L220.2 409.7M55.8 403.3L57.3 402.9M111.9 437.1L115.1 436.2M111.8 410.8L113.2 410.4M229.0 421.4L230.8 420.9M56.1 408.3L58.9 407.5M138.5 401.2L140.2 400.7M122.0 443.2L123.5 442.7M130.0 424.2L132.9 423.3M86.9 422.7L89.0 422.1M97.1 405.6L98.7 405.1M178.1 436.3L181.4 435.3M185.5 404.2L187.6 403.6M197.4 396.1L199.1 395.6M137.6 404.5L141.0 403.5M180.6 403.0L182.8 402.4M133.1 429.3L135.5 428.6M100.3 423.7L102.9 422.9M136.1 447.0L138.9 446.2M111.1 436.2L113.9 435.4M169.3 392.7L172.8 391.7M161.3 400.3L163.3 399.7M173.9 397.3L176.7 396.5M192.8 405.6L195.4 404.9M105.3 393.5L108.1 392.6M147.0 396.0L148.9 395.5M185.3 425.4L188.4 424.5M171.9 415.6L175.4 414.5M163.3 390.4L165.8 389.7M75.6 409.6L78.2 408.8M108.0 423.6L110.6 422.8M160.5 424.9L163.2 424.1M113.9 430.1L116.3 429.3M79.9 416.1L82.0 415.5M166.1 428.6L169.7 427.5M192.4 426.7L195.2 425.9M152.4 434.4L155.3 433.6M146.3 425.9L149.7 424.9M120.5 420.4L123.0 419.7M185.9 427.2L188.3 426.5M109.1 407.1L110.6 406.6M201.1 400.0L202.2 399.7M86.1 406.4L89.4 405.4M154.6 403.7L155.8 403.3M146.9 426.7L149.3 425.9M188.7 391.6L191.7 390.7M115.8 443.8L117.2 443.3M123.9 389.6L125.1 389.2M166.7 411.2L167.8 410.8M99.4 438.0L100.8 437.6M191.5 426.6L194.2 425.8M206.7 415.6L208.6 415.0M173.6 428.6L176.8 427.7M130.3 411.0L132.4 410.4M164.4 404.1L167.2 403.3M190.6 398.5L192.7 397.9M161.9 379.9L163.4 379.4M155.8 406.8L157.1 406.4M202.0 409.8L204.2 409.1M134.0 420.2L135.6 419.7M160.6 421.7L162.1 421.3M145.9 388.3L148.5 387.6M118.4 428.6L119.6 428.3M156.9 435.6L158.3 435.2M90.1 397.4L93.6 396.4M195.5 432.0L198.2 431.2M161.8 422.5L164.0 421.8M134.2 394.9L135.4 394.6M66.4 405.2L70.0 404.2M174.9 398.3L176.6 397.8M155.0 433.5L157.9 432.6M217.9 411.5L219.7 411.0M188.5 405.7L191.1 404.9M136.9 430.6L138.1 430.3M196.3 423.4L199.1 422.5M136.6 409.7L139.1 409.0M111.3 407.3L112.8 406.8M103.5 404.4L106.1 403.6M135.7 412.6L137.7 412.0M107.6 398.1L109.2 397.6M99.3 400.0L102.5 399.1M162.8 383.9L165.5 383.1M171.3 397.2L172.9 396.8M78.9 417.0L80.4 416.6M96.4 435.1L99.0 434.4M150.4 425.8L151.6 425.4M135.2 383.5L138.6 382.5M109.1 431.8L111.5 431.0M64.2 412.4L67.8 411.3M156.8 393.6L159.8 392.7M223.9 415.1L225.6 414.6M81.6 406.2L84.8 405.3M172.7 393.6L174.1 393.2M92.3 434.8L94.9 434.0M186.9 416.4L190.3 415.3M68.0 403.2L70.8 402.4M197.3 431.8L199.7 431.0M185.2 420.0L187.4 419.4M211.3 411.2L213.8 410.5M113.6 429.6L114.6 429.3M201.3 409.0L202.7 408.6M155.4 415.5L158.0 414.7M152.2 416.2L153.9 415.7M94.0 409.4L95.9 408.9M69.4 419.5L72.6 418.6M147.5 427.8L149.6 427.1M198.6 424.0L202.2 422.9M147.1 386.6L150.5 385.6" stroke="#ffffff" stroke-opacity="0.6" stroke-width="0.7" stroke-linecap="round" fill="none"/>
<path d="M89.8 409.6L95.5 407.9M219.1 421.6L223.9 420.1M150.0 416.7L152.9 415.8M68.5 399.0L73.5 397.6M170.2 395.0L174.0 393.9M81.7 427.5L86.6 426.0M194.7 428.0L198.1 427.0M106.8 406.3L111.8 404.8M187.4 430.4L189.8 429.7M184.5 420.1L190.2 418.4M162.0 395.3L166.9 393.9M105.6 425.5L112.2 423.6M108.8 419.5L115.1 417.6M152.7 375.9L155.6 375.1M127.2 403.2L130.2 402.3M113.6 412.1L117.7 410.9M87.7 416.0L91.6 414.8M192.1 404.0L195.9 402.9M152.1 418.9L157.3 417.3M164.5 429.8L167.2 429.0M169.4 408.4L172.8 407.4M137.7 404.0L144.8 401.9M189.9 401.3L196.9 399.2M127.1 415.5L133.8 413.5M90.9 425.9L93.8 425.0M125.3 427.7L129.2 426.5M121.8 421.1L128.4 419.1M147.7 380.7L152.3 379.3M180.4 395.6L184.5 394.4M171.9 434.1L177.3 432.5M137.0 431.8L143.0 430.0M79.2 427.7L81.9 426.9M206.1 404.7L211.1 403.2M165.1 414.5L170.9 412.8M162.3 412.7L168.3 411.0M139.6 426.7L146.7 424.6M104.2 436.5L107.2 435.6M147.4 378.6L150.9 377.6M87.4 396.4L91.1 395.3M119.8 391.6L123.6 390.4M200.6 400.7L207.5 398.6M110.8 424.3L114.4 423.2M74.3 405.2L78.0 404.1M149.4 392.8L153.1 391.7M163.5 415.1L170.6 412.9M119.0 389.9L123.0 388.7M112.3 415.2L119.0 413.2M80.6 407.4L87.2 405.5M138.5 414.1L141.8 413.1M136.2 411.9L141.1 410.4M203.6 415.5L206.9 414.5M136.0 404.7L140.7 403.3M116.9 416.2L123.3 414.3M212.1 411.4L216.8 410.0M82.8 418.3L88.1 416.7M204.6 417.8L208.1 416.7M218.4 414.1L224.0 412.4M147.3 379.0L153.0 377.3M148.3 405.0L154.6 403.1M148.1 386.0L151.5 385.0M154.1 403.9L161.1 401.8M94.6 399.9L99.2 398.5M78.0 398.3L84.1 396.5M84.1 407.5L86.5 406.8M137.1 401.6L141.6 400.2M141.2 426.9L144.6 425.9M144.2 388.1L149.6 386.5M155.1 430.0L158.9 428.8M179.3 417.1L184.4 415.5M125.1 430.7L128.8 429.6M139.6 408.2L144.8 406.6M135.7 405.3L142.4 403.4M130.1 407.3L134.3 406.0M132.0 411.9L135.5 410.8M128.4 428.1L132.3 426.9M46.6 405.4L49.8 404.5M90.9 413.5L97.5 411.6M92.0 392.7L97.2 391.1M76.8 406.5L82.5 404.8M167.9 428.2L174.0 426.4M143.9 395.9L146.9 395.0M113.5 392.3L119.5 390.5M151.2 392.4L156.5 390.8M73.5 402.9L79.8 401.0M60.4 409.4L62.9 408.7M166.0 409.0L172.7 407.0M175.2 388.0L180.3 386.5M211.4 416.6L215.1 415.5M120.9 388.1L127.9 386.0M178.8 408.2L184.7 406.4M74.8 396.9L80.3 395.3M90.8 419.5L94.1 418.5M189.5 401.2L191.9 400.5M94.0 428.2L100.2 426.4M141.4 435.3L144.1 434.5M134.3 433.4L140.9 431.4M128.0 439.1L133.9 437.4M106.6 407.5L112.1 405.9M166.1 417.0L170.5 415.7M90.9 432.5L95.1 431.3M120.6 404.4L126.5 402.6M190.9 429.7L194.5 428.6M87.0 421.9L89.5 421.1M104.9 426.5L107.9 425.7M131.4 412.7L137.9 410.7M201.3 411.4L205.6 410.1M158.8 422.8L163.4 421.5M210.6 417.2L215.5 415.7M95.1 429.1L98.9 428.0M86.5 430.8L90.6 429.6M88.5 394.1L94.2 392.4M123.7 420.8L130.5 418.8M212.0 410.4L216.9 408.9M206.3 419.1L210.6 417.8M179.5 424.4L183.9 423.1M87.6 432.6L92.3 431.2M136.2 410.9L138.9 410.1M120.9 408.3L124.4 407.3M110.5 435.9L115.4 434.4M112.3 405.3L115.5 404.3M160.4 383.2L164.6 382.0M74.5 415.9L80.5 414.1M114.2 412.1L119.7 410.4M134.5 389.2L139.1 387.8M203.7 419.5L208.6 418.0M168.1 401.1L173.6 399.5M184.9 413.1L191.8 411.0M133.4 428.9L137.9 427.6M178.6 403.1L184.4 401.4M147.9 421.3L152.2 420.0M107.4 422.0L113.4 420.2M103.2 403.8L108.7 402.2M99.7 415.8L103.6 414.6M185.4 411.9L191.3 410.1M188.4 411.6L194.6 409.8M196.5 428.5L202.6 426.7M149.6 399.7L152.3 398.8M133.4 392.4L140.5 390.3M139.5 420.9L145.0 419.2M165.3 422.0L168.7 421.0M118.3 399.0L123.8 397.3M175.1 434.6L182.3 432.5M198.0 415.0L202.9 413.5M189.6 425.7L192.4 424.9M178.3 402.5L181.2 401.7M108.6 434.0L113.7 432.5M165.5 409.5L171.7 407.7M138.3 384.5L141.9 383.4M186.4 403.7L190.7 402.4M115.4 397.4L121.0 395.8M127.5 414.4L134.0 412.4M141.2 405.0L145.0 403.9M103.8 423.4L106.5 422.6M114.8 420.9L120.4 419.2M128.8 396.0L132.0 395.1M80.8 420.1L85.1 418.9M105.3 431.3L107.9 430.5M76.0 409.4L78.6 408.6M213.9 413.5L216.5 412.7M169.9 403.0L172.9 402.1M91.0 394.4L94.5 393.4M128.2 389.7L133.8 388.0M132.1 415.6L137.3 414.1M69.0 414.0L73.2 412.8M119.8 421.2L127.0 419.1M178.4 421.5L185.4 419.5M144.9 387.0L148.9 385.8M186.0 399.9L192.9 397.8M132.9 411.9L137.8 410.4M125.9 420.8L130.8 419.3M129.8 410.6L135.6 408.9M168.9 386.6L174.2 385.0M74.1 414.8L77.5 413.8M167.1 394.7L174.0 392.7M89.5 426.9L92.9 425.9M194.6 400.9L201.0 399.0M187.7 427.0L193.1 425.4M151.1 409.6L157.1 407.8M174.0 416.1L176.7 415.3M193.0 418.8L199.1 417.0M172.0 431.6L175.2 430.7M202.4 409.0L208.1 407.3M136.8 381.6L139.7 380.7M152.0 439.4L156.8 438.0M139.4 428.1L146.5 426.0M138.8 444.9L141.6 444.0M162.4 391.0L165.7 390.0M100.0 398.5L107.0 396.4M74.1 423.4L76.8 422.7M150.4 407.4L153.7 406.4M170.3 426.4L177.2 424.4M200.7 414.4L205.4 413.0M185.7 423.0L189.3 422.0M97.6 392.2L101.7 391.0M163.7 423.2L170.0 421.3M129.4 386.4L133.4 385.2M138.1 393.0L143.7 391.4M118.7 423.1L121.7 422.2M174.9 431.0L177.8 430.1M128.3 435.9L134.4 434.1M52.3 408.9L59.3 406.8M91.8 394.1L98.5 392.1M139.7 396.5L144.7 395.0M155.7 389.6L161.5 387.9M78.8 397.8L84.0 396.3M133.8 436.4L139.8 434.6M125.6 414.7L132.4 412.6M160.7 420.5L163.9 419.6M97.2 410.2L104.3 408.0M129.0 428.5L134.3 427.0M133.3 428.7L138.0 427.3M172.7 435.3L178.4 433.6M197.4 426.5L201.1 425.4M171.7 431.1L175.5 429.9M95.9 391.5L101.7 389.8M121.4 449.3L127.5 447.4M187.5 423.0L194.6 420.9M129.3 402.3L134.8 400.7M141.2 441.3L145.7 440.0M174.2 409.0L180.2 407.2M130.3 382.8L134.9 381.5M200.5 407.9L207.6 405.8M185.5 422.9L188.8 421.9M192.0 428.6L196.7 427.2M137.0 433.6L144.0 431.5M149.1 411.4L155.8 409.4M155.3 423.9L161.8 422.0M154.3 393.7L159.4 392.2M144.3 403.6L150.1 401.9M172.0 436.4L175.1 435.5M159.4 417.8L162.7 416.8M224.3 417.0L227.2 416.1M90.9 414.8L93.7 414.0M129.0 398.3L132.4 397.2M70.7 409.7L73.7 408.8M210.6 410.4L216.5 408.6M145.8 384.9L150.6 383.4M148.4 394.5L152.4 393.3M158.3 423.5L162.6 422.3M149.5 419.4L154.1 418.0M212.1 406.9L216.0 405.7M130.0 433.7L134.8 432.2M87.6 425.8L92.3 424.4M163.7 394.8L168.6 393.3M115.9 389.1L122.9 387.0M176.2 411.5L179.5 410.5M157.2 432.8L161.1 431.7M146.7 395.7L149.8 394.7M99.4 394.5L105.0 392.8M142.9 437.7L147.7 436.3" stroke="#3a22c0" stroke-opacity="0.9" stroke-width="0.9" stroke-linecap="round" fill="none"/>
<g fill="#fff" stroke-width="0.85" stroke-linejoin="round">
<path d="M140.9 399.1L140.9 399.6L137.8 398.8L137.8 398.8Z" stroke="#4129bb"/>
<path d="M140.8 398.1L140.9 399.1L137.8 398.8L137.7 398.8Z" stroke="#422dc1"/>
<path d="M140.8 395.9L140.8 398.1L137.7 398.8L137.7 398.9Z" stroke="#4435cf"/>
<path d="M140.7 393.9L140.8 395.9L137.7 398.9L137.7 398.9Z" stroke="#463ddd"/>
<path d="M140.7 395.9L140.7 393.9L137.7 398.9L137.6 398.9Z" stroke="#463ddd"/>
<path d="M140.7 398.1L140.7 395.9L137.6 398.9L137.6 398.9Z" stroke="#4435cf"/>
<path d="M140.6 399.2L140.7 398.1L137.6 398.9L137.5 398.9Z" stroke="#422dc1"/>
<path d="M140.6 399.7L140.6 399.2L137.5 398.9L137.5 398.9Z" stroke="#4129bb"/>
<path d="M143.9 400.2L144.0 400.8L140.9 399.6L140.9 399.1Z" stroke="#422cc0"/>
<path d="M143.9 398.7L143.9 400.2L140.9 399.1L140.8 398.1Z" stroke="#4433cc"/>
<path d="M143.8 395.7L143.9 398.7L140.8 398.1L140.8 395.9Z" stroke="#4640e0"/>
<path d="M143.8 392.9L143.8 395.7L140.8 395.9L140.7 393.9Z" stroke="#484dee"/>
<path d="M143.8 395.7L143.8 392.9L140.7 393.9L140.7 395.9Z" stroke="#484dee"/>
<path d="M143.7 398.8L143.8 395.7L140.7 395.9L140.7 398.1Z" stroke="#4640e0"/>
<path d="M143.7 400.2L143.7 398.8L140.7 398.1L140.6 399.2Z" stroke="#4433cc"/>
<path d="M143.6 400.9L143.7 400.2L140.6 399.2L140.6 399.7Z" stroke="#422cc0"/>
<path d="M147.0 401.9L147.1 402.4L144.0 401.2L144.0 400.8Z" stroke="#422cbf"/>
<path d="M147.0 400.9L147.0 401.9L144.0 400.8L143.9 400.2Z" stroke="#4330c7"/>
<path d="M147.0 398.7L147.0 400.9L143.9 400.2L143.9 398.7Z" stroke="#4539d8"/>
<path d="M146.9 394.3L147.0 398.7L143.9 398.7L143.8 395.7Z" stroke="#474bed"/>
<path d="M146.9 390.2L146.9 394.3L143.8 395.7L143.8 392.9Z" stroke="#455ef9"/>
<path d="M146.8 394.3L146.9 390.2L143.8 392.9L143.8 395.7Z" stroke="#455ef9"/>
<path d="M146.8 398.8L146.8 394.3L143.8 395.7L143.7 398.8Z" stroke="#474bed"/>
<path d="M146.8 400.9L146.8 398.8L143.7 398.8L143.7 400.2Z" stroke="#4539d8"/>
<path d="M146.7 402.0L146.8 400.9L143.7 400.2L143.6 400.9Z" stroke="#4330c7"/>
<path d="M146.7 402.5L146.7 402.0L143.6 400.9L143.6 401.3Z" stroke="#422cbf"/>
<path d="M150.1 403.3L150.2 405.1L147.1 403.5L147.1 402.4Z" stroke="#422bbe"/>
<path d="M150.1 402.5L150.1 403.3L147.1 402.4L147.0 401.9Z" stroke="#4330c7"/>
<path d="M150.1 400.9L150.1 402.5L147.0 401.9L147.0 400.9Z" stroke="#4537d3"/>
<path d="M150.0 397.5L150.1 400.9L147.0 400.9L147.0 398.7Z" stroke="#4745e6"/>
<path d="M150.0 390.4L150.0 397.5L147.0 398.7L146.9 394.3Z" stroke="#4460f9"/>
<path d="M149.9 383.9L150.0 390.4L146.9 394.3L146.9 390.2Z" stroke="#327dfa"/>
<path d="M149.9 390.5L149.9 383.9L146.9 390.2L146.8 394.3Z" stroke="#327dfa"/>
<path d="M149.9 397.5L149.9 390.5L146.8 394.3L146.8 398.8Z" stroke="#4460f9"/>
<path d="M149.8 400.9L149.9 397.5L146.8 398.8L146.8 400.9Z" stroke="#4745e6"/>
<path d="M149.8 402.6L149.8 400.9L146.8 400.9L146.7 402.0Z" stroke="#4537d3"/>
<path d="M149.7 403.5L149.8 402.6L146.7 402.0L146.7 402.5Z" stroke="#4330c7"/>
<path d="M149.7 404.0L149.7 403.5L146.7 402.5L146.6 402.9Z" stroke="#422cc0"/>
<path d="M149.7 404.3L149.7 404.0L146.6 402.9L146.6 403.1Z" stroke="#412abc"/>
<path d="M153.2 403.6L153.3 406.7L150.2 405.1L150.1 403.3Z" stroke="#432fc6"/>
<path d="M153.2 402.2L153.2 403.6L150.1 403.3L150.1 402.5Z" stroke="#4538d5"/>
<path d="M153.1 399.4L153.2 402.2L150.1 402.5L150.1 400.9Z" stroke="#4744e4"/>
<path d="M153.1 393.5L153.1 399.4L150.1 400.9L150.0 397.5Z" stroke="#465af7"/>
<path d="M153.1 381.3L153.1 393.5L150.0 397.5L150.0 390.4Z" stroke="#2c8af2"/>
<path d="M153.0 370.0L153.1 381.3L150.0 390.4L149.9 383.9Z" stroke="#11b0d6"/>
<path d="M153.0 381.3L153.0 370.0L149.9 383.9L149.9 390.5Z" stroke="#11b0d6"/>
<path d="M152.9 393.5L153.0 381.3L149.9 390.5L149.9 397.5Z" stroke="#2c8af2"/>
<path d="M152.9 399.4L152.9 393.5L149.9 397.5L149.8 400.9Z" stroke="#465af7"/>
<path d="M152.9 402.3L152.9 399.4L149.8 400.9L149.8 402.6Z" stroke="#4744e4"/>
<path d="M152.8 403.8L152.9 402.3L149.8 402.6L149.7 403.5Z" stroke="#4538d5"/>
<path d="M152.8 404.6L152.8 403.8L149.7 403.5L149.7 404.0Z" stroke="#4332ca"/>
<path d="M152.7 405.2L152.8 404.6L149.7 404.0L149.7 404.3Z" stroke="#422ec3"/>
<path d="M152.7 405.6L152.7 405.2L149.7 404.3L149.6 404.5Z" stroke="#422bbf"/>
<path d="M152.7 405.8L152.7 405.6L149.6 404.5L149.6 404.7Z" stroke="#412abc"/>
<path d="M156.3 402.9L156.3 408.2L153.3 406.7L153.2 403.6Z" stroke="#4538d5"/>
<path d="M156.2 400.2L156.3 402.9L153.2 403.6L153.2 402.2Z" stroke="#4747e8"/>
<path d="M156.2 395.3L156.2 400.2L153.2 402.2L153.1 399.4Z" stroke="#465af7"/>
<path d="M156.2 384.9L156.2 395.3L153.1 399.4L153.1 393.5Z" stroke="#3081f7"/>
<path d="M156.1 363.3L156.2 384.9L153.1 393.5L153.1 381.3Z" stroke="#08bac5"/>
<path d="M156.1 343.3L156.1 363.3L153.1 381.3L153.0 370.0Z" stroke="#74cd6f"/>
<path d="M156.0 363.3L156.1 343.3L153.0 370.0L153.0 381.3Z" stroke="#74cd6f"/>
<path d="M156.0 384.9L156.0 363.3L153.0 381.3L152.9 393.5Z" stroke="#08bac5"/>
<path d="M156.0 395.3L156.0 384.9L152.9 393.5L152.9 399.4Z" stroke="#3081f7"/>
<path d="M155.9 400.3L156.0 395.3L152.9 399.4L152.9 402.3Z" stroke="#465af7"/>
<path d="M155.9 403.0L155.9 400.3L152.9 402.3L152.8 403.8Z" stroke="#4747e8"/>
<path d="M155.8 404.6L155.9 403.0L152.8 403.8L152.8 404.6Z" stroke="#463cdc"/>
<path d="M155.8 405.5L155.8 404.6L152.8 404.6L152.7 405.2Z" stroke="#4435d0"/>
<path d="M155.8 406.2L155.8 405.5L152.7 405.2L152.7 405.6Z" stroke="#4331c9"/>
<path d="M155.7 406.7L155.8 406.2L152.7 405.6L152.7 405.8Z" stroke="#432ec4"/>
<path d="M155.7 407.0L155.7 406.7L152.7 405.8L152.6 406.0Z" stroke="#422cc0"/>
<path d="M155.6 407.2L155.7 407.0L152.6 406.0L152.6 406.2Z" stroke="#422bbe"/>
<path d="M159.4 402.6L159.4 409.8L156.3 408.2L156.3 402.9Z" stroke="#4640e0"/>
<path d="M159.3 399.0L159.4 402.6L156.3 402.9L156.2 400.2Z" stroke="#4754f5"/>
<path d="M159.3 392.4L159.3 399.0L156.2 400.2L156.2 395.3Z" stroke="#3c6efb"/>
<path d="M159.2 378.4L159.3 392.4L156.2 395.3L156.2 384.9Z" stroke="#1fa5e2"/>
<path d="M159.2 349.3L159.2 378.4L156.2 384.9L156.1 363.3Z" stroke="#59cc83"/>
<path d="M159.2 322.4L159.2 349.3L156.1 363.3L156.1 343.3Z" stroke="#ede925"/>
<path d="M159.1 349.3L159.2 322.4L156.1 343.3L156.0 363.3Z" stroke="#ede925"/>
<path d="M159.1 378.4L159.1 349.3L156.0 363.3L156.0 384.9Z" stroke="#59cc83"/>
<path d="M159.0 392.4L159.1 378.4L156.0 384.9L156.0 395.3Z" stroke="#1fa5e2"/>
<path d="M159.0 399.1L159.0 392.4L156.0 395.3L155.9 400.3Z" stroke="#3c6efb"/>
<path d="M159.0 402.7L159.0 399.1L155.9 400.3L155.9 403.0Z" stroke="#4754f5"/>
<path d="M158.9 404.8L159.0 402.7L155.9 403.0L155.8 404.6Z" stroke="#4745e6"/>
<path d="M158.9 406.1L158.9 404.8L155.8 404.6L155.8 405.5Z" stroke="#463cdc"/>
<path d="M158.8 407.0L158.9 406.1L155.8 405.5L155.8 406.2Z" stroke="#4536d2"/>
<path d="M158.8 407.6L158.8 407.0L155.8 406.2L155.7 406.7Z" stroke="#4432cb"/>
<path d="M158.8 408.1L158.8 407.6L155.7 406.7L155.7 407.0Z" stroke="#432fc6"/>
<path d="M158.7 408.4L158.8 408.1L155.7 407.0L155.6 407.2Z" stroke="#422dc2"/>
<path d="M158.7 408.7L158.7 408.4L155.6 407.2L155.6 407.4Z" stroke="#422cc0"/>
<path d="M158.6 408.9L158.7 408.7L155.6 407.4L155.6 407.6Z" stroke="#422bbd"/>
<path d="M162.4 406.0L162.5 411.4L159.4 409.8L159.4 402.6Z" stroke="#4640e0"/>
<path d="M162.4 403.4L162.4 406.0L159.4 402.6L159.3 399.0Z" stroke="#4754f5"/>
<path d="M162.3 398.4L162.4 403.4L159.3 399.0L159.3 392.4Z" stroke="#3c6efb"/>
<path d="M162.3 388.0L162.3 398.4L159.3 392.4L159.2 378.4Z" stroke="#1fa5e2"/>
<path d="M162.3 366.5L162.3 388.0L159.2 378.4L159.2 349.3Z" stroke="#59cc83"/>
<path d="M162.2 346.5L162.3 366.5L159.2 349.3L159.2 322.4Z" stroke="#ede925"/>
<path d="M162.2 366.5L162.2 346.5L159.2 322.4L159.1 349.3Z" stroke="#ede925"/>
<path d="M162.1 388.1L162.2 366.5L159.1 349.3L159.1 378.4Z" stroke="#59cc83"/>
<path d="M162.1 398.5L162.1 388.1L159.1 378.4L159.0 392.4Z" stroke="#1fa5e2"/>
<path d="M162.1 403.5L162.1 398.5L159.0 392.4L159.0 399.1Z" stroke="#3c6efb"/>
<path d="M162.0 406.1L162.1 403.5L159.0 399.1L159.0 402.7Z" stroke="#4754f5"/>
<path d="M162.0 407.7L162.0 406.1L159.0 402.7L158.9 404.8Z" stroke="#4745e6"/>
<path d="M161.9 408.7L162.0 407.7L158.9 404.8L158.9 406.1Z" stroke="#463cdc"/>
<path d="M161.9 409.3L161.9 408.7L158.9 406.1L158.8 407.0Z" stroke="#4536d2"/>
<path d="M161.9 409.8L161.9 409.3L158.8 407.0L158.8 407.6Z" stroke="#4432cb"/>
<path d="M161.8 410.1L161.9 409.8L158.8 407.6L158.8 408.1Z" stroke="#432fc6"/>
<path d="M161.8 410.4L161.8 410.1L158.8 408.1L158.7 408.4Z" stroke="#422dc2"/>
<path d="M161.7 410.6L161.8 410.4L158.7 408.4L158.7 408.7Z" stroke="#422cc0"/>
<path d="M161.7 410.8L161.7 410.6L158.7 408.7L158.6 408.9Z" stroke="#422bbd"/>
<path d="M165.5 409.9L165.5 413.0L162.5 411.4L162.4 406.0Z" stroke="#4538d5"/>
<path d="M165.5 408.5L165.5 409.9L162.4 406.0L162.4 403.4Z" stroke="#4747e8"/>
<path d="M165.4 405.7L165.5 408.5L162.4 403.4L162.3 398.4Z" stroke="#465af7"/>
<path d="M165.4 399.8L165.4 405.7L162.3 398.4L162.3 388.0Z" stroke="#3081f7"/>
<path d="M165.3 387.6L165.4 399.8L162.3 388.0L162.3 366.5Z" stroke="#08bac5"/>
<path d="M165.3 376.3L165.3 387.6L162.3 366.5L162.2 346.5Z" stroke="#74cd6f"/>
<path d="M165.3 387.6L165.3 376.3L162.2 346.5L162.2 366.5Z" stroke="#74cd6f"/>
<path d="M165.2 399.8L165.3 387.6L162.2 366.5L162.1 388.1Z" stroke="#08bac5"/>
<path d="M165.2 405.7L165.2 399.8L162.1 388.1L162.1 398.5Z" stroke="#3081f7"/>
<path d="M165.1 408.5L165.2 405.7L162.1 398.5L162.1 403.5Z" stroke="#465af7"/>
<path d="M165.1 410.1L165.1 408.5L162.1 403.5L162.0 406.1Z" stroke="#4747e8"/>
<path d="M165.1 410.9L165.1 410.1L162.0 406.1L162.0 407.7Z" stroke="#463cdc"/>
<path d="M165.0 411.5L165.1 410.9L162.0 407.7L161.9 408.7Z" stroke="#4435d0"/>
<path d="M165.0 411.9L165.0 411.5L161.9 408.7L161.9 409.3Z" stroke="#4331c9"/>
<path d="M164.9 412.1L165.0 411.9L161.9 409.3L161.9 409.8Z" stroke="#432ec4"/>
<path d="M164.9 412.3L164.9 412.1L161.9 409.8L161.8 410.1Z" stroke="#422cc0"/>
<path d="M164.9 412.5L164.9 412.3L161.8 410.1L161.8 410.4Z" stroke="#422bbe"/>
<path d="M168.6 412.8L168.6 414.5L165.5 413.0L165.5 409.9Z" stroke="#432fc6"/>
<path d="M168.5 411.9L168.6 412.8L165.5 409.9L165.5 408.5Z" stroke="#4538d5"/>
<path d="M168.5 410.3L168.5 411.9L165.5 408.5L165.4 405.7Z" stroke="#4744e4"/>
<path d="M168.4 406.9L168.5 410.3L165.4 405.7L165.4 399.8Z" stroke="#465af7"/>
<path d="M168.4 399.9L168.4 406.9L165.4 399.8L165.3 387.6Z" stroke="#2c8af2"/>
<path d="M168.4 393.3L168.4 399.9L165.3 387.6L165.3 376.3Z" stroke="#11b0d6"/>
<path d="M168.3 399.9L168.4 393.3L165.3 376.3L165.3 387.6Z" stroke="#11b0d6"/>
<path d="M168.3 407.0L168.3 399.9L165.3 387.6L165.2 399.8Z" stroke="#2c8af2"/>
<path d="M168.2 410.4L168.3 407.0L165.2 399.8L165.2 405.7Z" stroke="#465af7"/>
<path d="M168.2 412.0L168.2 410.4L165.2 405.7L165.1 408.5Z" stroke="#4744e4"/>
<path d="M168.2 412.9L168.2 412.0L165.1 408.5L165.1 410.1Z" stroke="#4538d5"/>
<path d="M168.1 413.4L168.2 412.9L165.1 410.1L165.1 410.9Z" stroke="#4332ca"/>
<path d="M168.1 413.7L168.1 413.4L165.1 410.9L165.0 411.5Z" stroke="#422ec3"/>
<path d="M168.0 414.0L168.1 413.7L165.0 411.5L165.0 411.9Z" stroke="#422bbf"/>
<path d="M168.0 414.1L168.0 414.0L165.0 411.9L164.9 412.1Z" stroke="#412abc"/>
<path d="M171.6 415.0L171.7 416.1L168.6 414.5L168.6 412.8Z" stroke="#422bbe"/>
<path d="M171.6 414.5L171.6 415.0L168.6 412.8L168.5 411.9Z" stroke="#4330c7"/>
<path d="M171.6 413.5L171.6 414.5L168.5 411.9L168.5 410.3Z" stroke="#4537d3"/>
<path d="M171.5 411.3L171.6 413.5L168.5 410.3L168.4 406.9Z" stroke="#4745e6"/>
<path d="M171.5 406.9L171.5 411.3L168.4 406.9L168.4 399.9Z" stroke="#4460f9"/>
<path d="M171.4 402.8L171.5 406.9L168.4 399.9L168.4 393.3Z" stroke="#327dfa"/>
<path d="M171.4 406.9L171.4 402.8L168.4 393.3L168.3 399.9Z" stroke="#327dfa"/>
<path d="M171.4 411.4L171.4 406.9L168.3 399.9L168.3 407.0Z" stroke="#4460f9"/>
<path d="M171.3 413.5L171.4 411.4L168.3 407.0L168.2 410.4Z" stroke="#4745e6"/>
<path d="M171.3 414.6L171.3 413.5L168.2 410.4L168.2 412.0Z" stroke="#4537d3"/>
<path d="M171.2 415.1L171.3 414.6L168.2 412.0L168.2 412.9Z" stroke="#4330c7"/>
<path d="M171.2 415.5L171.2 415.1L168.2 412.9L168.1 413.4Z" stroke="#422cc0"/>
<path d="M171.2 415.7L171.2 415.5L168.1 413.4L168.1 413.7Z" stroke="#412abc"/>
<path d="M174.7 416.6L174.7 416.9L171.6 415.0L171.6 414.5Z" stroke="#422cbf"/>
<path d="M174.6 415.9L174.7 416.6L171.6 414.5L171.6 413.5Z" stroke="#4330c7"/>
<path d="M174.6 414.5L174.6 415.9L171.6 413.5L171.5 411.3Z" stroke="#4539d8"/>
<path d="M174.5 411.5L174.6 414.5L171.5 411.3L171.5 406.9Z" stroke="#474bed"/>
<path d="M174.5 408.7L174.5 411.5L171.5 406.9L171.4 402.8Z" stroke="#455ef9"/>
<path d="M174.5 411.5L174.5 408.7L171.4 402.8L171.4 406.9Z" stroke="#455ef9"/>
<path d="M174.4 414.5L174.5 411.5L171.4 406.9L171.4 411.4Z" stroke="#474bed"/>
<path d="M174.4 416.0L174.4 414.5L171.4 411.4L171.3 413.5Z" stroke="#4539d8"/>
<path d="M174.3 416.7L174.4 416.0L171.3 413.5L171.3 414.6Z" stroke="#4330c7"/>
<path d="M174.3 417.1L174.3 416.7L171.3 414.6L171.2 415.1Z" stroke="#422cbf"/>
<path d="M177.7 418.0L177.7 418.5L174.7 416.6L174.6 415.9Z" stroke="#422cc0"/>
<path d="M177.7 417.0L177.7 418.0L174.6 415.9L174.6 414.5Z" stroke="#4433cc"/>
<path d="M177.6 414.8L177.7 417.0L174.6 414.5L174.5 411.5Z" stroke="#4640e0"/>
<path d="M177.6 412.8L177.6 414.8L174.5 411.5L174.5 408.7Z" stroke="#484dee"/>
<path d="M177.5 414.8L177.6 412.8L174.5 408.7L174.5 411.5Z" stroke="#484dee"/>
<path d="M177.5 417.0L177.5 414.8L174.5 411.5L174.4 414.5Z" stroke="#4640e0"/>
<path d="M177.5 418.1L177.5 417.0L174.4 414.5L174.4 416.0Z" stroke="#4433cc"/>
<path d="M177.4 418.6L177.5 418.1L174.4 416.0L174.3 416.7Z" stroke="#422cc0"/>
<path d="M180.8 420.9L180.8 420.8L177.7 418.5L177.7 418.0Z" stroke="#4129bb"/>
<path d="M180.7 420.9L180.8 420.9L177.7 418.0L177.7 417.0Z" stroke="#422dc1"/>
<path d="M180.7 420.9L180.7 420.9L177.7 417.0L177.6 414.8Z" stroke="#4435cf"/>
<path d="M180.6 420.9L180.7 420.9L177.6 414.8L177.6 412.8Z" stroke="#463ddd"/>
<path d="M180.6 420.9L180.6 420.9L177.6 412.8L177.5 414.8Z" stroke="#463ddd"/>
<path d="M180.6 420.9L180.6 420.9L177.5 414.8L177.5 417.0Z" stroke="#4435cf"/>
<path d="M180.5 420.9L180.6 420.9L177.5 417.0L177.5 418.1Z" stroke="#422dc1"/>
<path d="M180.5 420.9L180.5 420.9L177.5 418.1L177.4 418.6Z" stroke="#4129bb"/>
</g>
<path d="M36.5 406.6L36.5 303.1M36.5 406.6L128.6 453.8M128.6 453.8L248.5 418.1M36.5 406.6L34.0 407.3M36.5 354.9L34.0 355.6M36.5 303.1L34.0 303.8M128.6 453.8L130.9 455.0M168.6 441.9L170.9 443.1M208.5 430.0L210.8 431.2M248.5 418.1L250.8 419.3M128.6 453.8L126.1 454.5M97.9 438.1L95.4 438.8M67.2 422.3L64.7 423.1M36.5 406.6L34.0 407.3" stroke="#6a6a6a" stroke-width="0.75" fill="none"/>
<text transform="translate(30.5 408.8) scale(1 1.08)" font-size="10.1" text-anchor="end" fill="#2b2b2b">0</text>
<text transform="translate(30.5 357.1) scale(1 1.08)" font-size="10.1" text-anchor="end" fill="#2b2b2b">0.5</text>
<text transform="translate(30.5 305.3) scale(1 1.08)" font-size="10.1" text-anchor="end" fill="#2b2b2b">1</text>
<text transform="translate(134.4 467.6) scale(1 1.08)" font-size="10.1" text-anchor="start" fill="#2b2b2b">0</text>
<text transform="translate(174.4 455.7) scale(1 1.08)" font-size="10.1" text-anchor="start" fill="#2b2b2b">1000</text>
<text transform="translate(214.3 443.8) scale(1 1.08)" font-size="10.1" text-anchor="start" fill="#2b2b2b">2000</text>
<text transform="translate(254.3 431.9) scale(1 1.08)" font-size="10.1" text-anchor="start" fill="#2b2b2b">3000</text>
<text transform="translate(121.8 467.3) scale(1 1.08)" font-size="10.1" text-anchor="end" fill="#2b2b2b">0</text>
<text transform="translate(91.1 451.6) scale(1 1.08)" font-size="10.1" text-anchor="end" fill="#2b2b2b">10</text>
<text transform="translate(60.4 435.8) scale(1 1.08)" font-size="10.1" text-anchor="end" fill="#2b2b2b">20</text>
<text transform="translate(29.7 420.1) scale(1 1.08)" font-size="10.1" text-anchor="end" fill="#2b2b2b">30</text>
<text transform="translate(12.8 355) rotate(-90) scale(1.11 1)" font-size="10.35" text-anchor="middle" fill="#2b2b2b">Normalized amplitude</text>
<text transform="translate(218.6 469.8) scale(1 1.08)" font-size="10.35" text-anchor="middle" fill="#2b2b2b">Scaled frequency bin</text>
<text transform="translate(54.4 459.8) scale(1 1.08)" font-size="10.35" text-anchor="middle" fill="#2b2b2b">Range bin</text>
<g fill="#1a1a1a" font-size="14.6"><text transform="translate(130.10 501.9) scale(1 1.14)">(</text><text transform="translate(134.96 501.9) scale(1 1.2)" font-weight="bold">c</text><text transform="translate(141.44 501.9) scale(1 1.14)">)</text></g>
<path d="M351.4 394.0L351.4 293.3M390.5 382.5L390.5 281.8M429.5 371.0L429.5 270.3M312.4 355.1L429.5 320.6M312.4 304.8L429.5 270.3M519.1 415.7L519.1 315.0M489.2 400.8L489.2 300.1M459.4 385.9L459.4 285.2M429.5 320.6L519.1 365.3M429.5 270.3L519.1 315.0M351.4 394.0L441.0 438.7M390.5 382.5L480.1 427.2M429.5 371.0L519.1 415.7M402.0 450.2L519.1 415.7M372.1 435.3L489.2 400.8M342.3 420.4L459.4 385.9" stroke="#e2e2e2" stroke-width="0.7" fill="none"/>
<polygon points="312.4,404.7 313.2,404.1 314.0,403.8 314.9,403.8 315.7,403.6 316.5,403.3 317.3,402.9 318.1,402.8 319.0,402.7 319.8,402.6 320.6,402.5 321.4,402.3 322.2,402.0 323.1,401.7 323.9,401.4 324.7,401.1 325.5,400.7 326.3,400.5 327.2,400.2 328.0,399.9 328.8,399.5 329.6,399.2 330.4,399.3 331.3,399.2 332.1,399.2 332.9,398.8 333.7,398.5 334.5,398.1 335.4,398.0 336.2,397.9 337.0,397.5 337.8,397.0 338.6,396.7 339.5,396.5 340.3,396.5 341.1,396.0 341.9,395.8 342.7,395.4 343.6,395.1 344.4,395.0 345.2,394.7 346.0,394.7 346.8,394.3 347.7,394.3 348.5,394.1 349.3,394.0 350.1,393.7 350.9,393.3 351.8,393.2 352.6,392.9 353.4,392.7 354.2,392.2 355.0,391.7 355.9,391.5 356.7,391.5 357.5,391.5 358.3,391.3 359.1,391.0 360.0,390.5 360.8,390.2 361.6,389.7 362.4,389.4 363.2,389.4 364.1,389.0 364.9,389.1 365.7,388.9 366.5,388.9 367.3,388.3 368.2,388.2 369.0,387.8 369.8,387.8 370.6,387.2 371.4,387.0 372.3,386.5 373.1,386.4 373.9,386.4 374.7,386.4 375.5,386.3 376.4,385.8 377.2,385.6 378.0,385.3 378.8,385.1 379.6,384.8 380.5,384.7 381.3,384.4 382.1,384.1 382.9,383.8 383.7,383.5 384.6,383.3 385.4,382.9 386.2,382.7 387.0,382.7 387.8,382.4 388.7,382.0 389.5,381.5 390.3,381.3 391.1,381.0 391.9,380.7 392.8,380.6 393.6,380.6 394.4,380.5 395.2,380.4 396.0,380.2 396.9,379.9 397.7,379.4 398.5,379.0 399.3,378.8 400.1,378.8 401.0,378.7 401.8,378.3 402.6,377.7 403.4,377.5 404.2,377.5 405.1,377.6 405.9,377.3 406.7,377.0 407.5,376.7 408.3,376.3 409.2,376.2 410.0,375.9 410.8,376.0 411.6,375.6 412.4,375.2 413.3,375.0 414.1,374.7 414.9,374.5 415.7,374.1 416.5,373.9 417.4,373.6 418.2,373.5 419.0,373.3 419.8,373.0 420.6,372.8 421.5,372.4 422.3,372.1 423.1,371.7 423.9,371.6 424.7,371.6 425.6,371.4 426.4,371.2 426.4,371.0 427.0,371.1 427.6,371.6 428.2,372.2 428.9,372.3 429.5,372.6 430.1,372.9 430.7,373.6 431.4,373.7 432.0,374.0 432.6,374.0 433.2,374.3 433.9,374.5 434.5,374.9 435.1,375.2 435.7,375.7 436.3,376.3 437.0,376.6 437.6,377.0 438.2,377.3 438.8,377.6 439.5,377.7 440.1,377.9 440.7,378.3 441.3,378.5 442.0,378.9 442.6,379.1 443.2,379.7 443.8,380.1 444.4,380.2 445.1,380.4 445.7,380.5 446.3,380.8 446.9,380.9 447.6,381.2 448.2,381.5 448.8,382.0 449.4,382.2 450.1,382.7 450.7,383.1 451.3,383.6 451.9,384.0 452.5,384.3 453.2,384.7 453.8,384.9 454.4,385.3 455.0,385.5 455.7,385.8 456.3,385.7 456.9,385.8 457.5,386.1 458.2,386.6 458.8,387.0 459.4,387.2 460.0,387.5 460.6,388.0 461.3,388.4 461.9,388.8 462.5,388.8 463.1,389.1 463.8,389.2 464.4,389.9 465.0,390.2 465.6,390.8 466.3,391.0 466.9,391.2 467.5,391.2 468.1,391.6 468.7,391.9 469.4,392.6 470.0,392.9 470.6,393.4 471.2,393.4 471.9,393.8 472.5,393.9 473.1,394.4 473.7,394.4 474.4,395.0 475.0,395.4 475.6,395.7 476.2,396.0 476.8,396.2 477.5,396.7 478.1,397.1 478.7,397.4 479.3,397.6 480.0,397.6 480.6,398.0 481.2,398.0 481.8,398.4 482.5,398.6 483.1,398.9 483.7,399.4 484.3,399.8 485.0,400.5 485.6,400.6 486.2,400.8 486.8,400.8 487.4,401.2 488.1,401.4 488.7,402.0 489.3,402.3 489.9,402.7 490.6,402.8 491.2,403.2 491.8,403.7 492.4,404.2 493.1,404.5 493.7,405.0 494.3,405.1 494.9,405.1 495.5,405.2 496.2,405.7 496.8,406.0 497.4,406.4 498.0,406.7 498.7,407.1 499.3,407.3 499.9,407.4 500.5,407.9 501.2,408.4 501.8,408.9 502.4,409.1 503.0,409.4 503.6,409.5 504.3,409.7 504.9,409.8 505.5,410.4 506.1,410.8 506.8,411.4 507.4,411.6 508.0,412.1 508.6,412.2 509.3,412.6 509.9,412.9 510.5,413.1 511.1,413.4 511.7,413.7 512.4,414.2 513.0,414.5 399.0,448.4" fill="#4222b8"/>
<path d="M385.4 432.8L390.7 431.3M380.2 392.7L383.0 391.8M368.7 431.5L374.4 429.8M395.6 408.3L400.2 406.9M362.2 422.8L368.6 420.9M425.6 399.5L429.6 398.3M383.7 435.7L387.8 434.5M397.9 445.1L404.6 443.2M411.6 380.0L414.8 379.1M500.9 417.0L507.8 415.0M445.7 408.9L451.2 407.2M431.7 435.6L436.1 434.3M327.4 411.3L330.2 410.5M429.5 431.4L435.4 429.7M425.0 412.4L430.2 410.9M395.5 391.3L401.5 389.5M465.7 407.9L471.2 406.3M371.4 400.6L378.3 398.5M378.6 434.7L381.1 434.0M413.3 433.3L418.3 431.8M418.9 385.7L422.1 384.7M350.5 417.1L354.5 415.9M341.2 417.1L344.1 416.2M386.4 420.0L392.6 418.1M331.4 408.2L337.2 406.5M438.2 425.5L443.6 423.9M458.9 408.9L464.3 407.3M358.7 415.7L365.6 413.7M407.2 403.7L413.5 401.8M425.2 392.4L428.5 391.4M428.3 425.8L431.8 424.8M463.1 418.9L468.4 417.3M378.9 395.3L384.6 393.7M455.0 395.8L458.0 394.9M415.4 388.0L419.6 386.8M350.9 407.5L357.9 405.5M372.2 398.3L375.5 397.3M428.8 416.7L433.4 415.3M376.5 422.9L381.2 421.5M444.3 409.6L448.8 408.3M381.6 427.0L386.6 425.5M410.0 392.4L416.2 390.5M480.0 412.3L483.9 411.2M442.9 403.4L449.6 401.4M380.9 437.3L385.2 436.1M452.9 428.6L456.4 427.6M353.1 415.8L357.8 414.4M396.1 436.2L398.7 435.4M394.0 421.5L397.5 420.5M433.5 434.1L439.7 432.3M413.6 413.4L418.5 411.9M392.1 413.2L395.4 412.2M337.7 410.2L343.3 408.6M467.1 418.9L472.4 417.4M451.9 423.4L454.9 422.5M444.6 426.5L448.7 425.3M438.6 385.9L443.7 384.4M369.0 432.8L372.7 431.7M335.0 405.9L338.8 404.8M449.4 402.8L451.8 402.1" stroke="#8f86e8" stroke-opacity="0.8" stroke-width="0.7" stroke-linecap="round" fill="none"/>
<g fill="#fff" stroke-width="0.9" stroke-linejoin="round">
<path d="M375.4 384.3L375.4 389.3L372.4 387.8L372.4 384.0Z" stroke="#432ec4"/>
<path d="M375.3 382.2L375.4 384.3L372.4 384.0L372.4 382.5Z" stroke="#463ddd"/>
<path d="M375.3 378.8L375.3 382.2L372.4 382.5L372.3 380.1Z" stroke="#4748e9"/>
<path d="M375.3 373.9L375.3 378.8L372.3 380.1L372.3 376.3Z" stroke="#4757f6"/>
<path d="M375.2 369.1L375.3 373.9L372.3 376.3L372.2 371.6Z" stroke="#3f6afc"/>
<path d="M375.2 369.1L375.2 369.1L372.2 371.6L372.2 369.0Z" stroke="#3677fa"/>
<path d="M375.1 373.9L375.2 369.1L372.2 369.0L372.2 371.6Z" stroke="#3a72fb"/>
<path d="M375.1 378.9L375.1 373.9L372.2 371.6L372.1 376.4Z" stroke="#4460f9"/>
<path d="M375.1 382.3L375.1 378.9L372.1 376.4L372.1 380.2Z" stroke="#484ef0"/>
<path d="M375.0 384.4L375.1 382.3L372.1 380.2L372.0 382.6Z" stroke="#4641e2"/>
<path d="M375.0 385.8L375.0 384.4L372.0 382.6L372.0 384.2Z" stroke="#4539d7"/>
<path d="M375.0 386.7L375.0 385.8L372.0 384.2L372.0 385.2Z" stroke="#4433cd"/>
<path d="M374.9 387.3L375.0 386.7L372.0 385.2L371.9 385.8Z" stroke="#4330c6"/>
<path d="M374.9 387.8L374.9 387.3L371.9 385.8L371.9 386.3Z" stroke="#422dc2"/>
<path d="M374.8 388.1L374.9 387.8L371.9 386.3L371.8 386.6Z" stroke="#422bbf"/>
<path d="M374.8 388.4L374.8 388.1L371.8 386.6L371.8 386.9Z" stroke="#412abc"/>
<path d="M374.8 388.5L374.8 388.4L371.8 386.9L371.8 387.1Z" stroke="#4129bb"/>
<path d="M374.7 388.7L374.8 388.5L371.8 387.1L371.7 387.2Z" stroke="#4128b9"/>
<path d="M374.7 388.8L374.7 388.7L371.7 387.2L371.7 387.4Z" stroke="#4128b8"/>
<path d="M374.6 388.9L374.7 388.8L371.7 387.4L371.7 387.5Z" stroke="#4127b7"/>
<path d="M374.6 389.0L374.6 388.9L371.7 387.5L371.6 387.5Z" stroke="#4127b7"/>
<path d="M374.6 389.1L374.6 389.0L371.6 387.5L371.6 387.6Z" stroke="#4126b6"/>
<path d="M374.5 389.1L374.6 389.1L371.6 387.6L371.5 387.7Z" stroke="#4126b6"/>
<path d="M374.5 389.2L374.5 389.1L371.5 387.7L371.5 387.7Z" stroke="#4026b5"/>
<path d="M378.4 386.1L378.4 390.8L375.5 389.3L375.4 389.3Z" stroke="#412abc"/>
<path d="M378.4 384.2L378.4 386.1L375.4 389.3L375.4 384.3Z" stroke="#4537d4"/>
<path d="M378.3 381.1L378.4 384.2L375.4 384.3L375.3 382.2Z" stroke="#4745e6"/>
<path d="M378.3 376.4L378.3 381.1L375.3 382.2L375.3 378.8Z" stroke="#4854f5"/>
<path d="M378.3 370.5L378.3 376.4L375.3 378.8L375.3 373.9Z" stroke="#4267fc"/>
<path d="M378.2 367.2L378.3 370.5L375.3 373.9L375.2 369.1Z" stroke="#337bfa"/>
<path d="M378.2 370.5L378.2 367.2L375.2 369.1L375.2 369.1Z" stroke="#3081f7"/>
<path d="M378.1 376.5L378.2 370.5L375.2 369.1L375.1 373.9Z" stroke="#3a72fb"/>
<path d="M378.1 381.2L378.1 376.5L375.1 373.9L375.1 378.9Z" stroke="#455cf8"/>
<path d="M378.1 384.3L378.1 381.2L375.1 378.9L375.1 382.3Z" stroke="#474bec"/>
<path d="M378.0 386.2L378.1 384.3L375.1 382.3L375.0 384.4Z" stroke="#4640e0"/>
<path d="M378.0 387.4L378.0 386.2L375.0 384.4L375.0 385.8Z" stroke="#4538d5"/>
<path d="M377.9 388.3L378.0 387.4L375.0 385.8L375.0 386.7Z" stroke="#4433cc"/>
<path d="M377.9 388.8L377.9 388.3L375.0 386.7L374.9 387.3Z" stroke="#432fc6"/>
<path d="M377.9 389.3L377.9 388.8L374.9 387.3L374.9 387.8Z" stroke="#422dc2"/>
<path d="M377.8 389.6L377.9 389.3L374.9 387.8L374.8 388.1Z" stroke="#422bbf"/>
<path d="M377.8 389.8L377.8 389.6L374.8 388.1L374.8 388.4Z" stroke="#422abd"/>
<path d="M377.7 390.0L377.8 389.8L374.8 388.4L374.8 388.5Z" stroke="#4129bb"/>
<path d="M377.7 390.2L377.7 390.0L374.8 388.5L374.7 388.7Z" stroke="#4128b9"/>
<path d="M377.7 390.3L377.7 390.2L374.7 388.7L374.7 388.8Z" stroke="#4128b8"/>
<path d="M377.6 390.4L377.7 390.3L374.7 388.8L374.6 388.9Z" stroke="#4127b8"/>
<path d="M377.6 390.5L377.6 390.4L374.6 388.9L374.6 389.0Z" stroke="#4127b7"/>
<path d="M377.5 390.5L377.6 390.5L374.6 389.0L374.6 389.1Z" stroke="#4126b6"/>
<path d="M377.5 390.6L377.5 390.5L374.6 389.1L374.5 389.1Z" stroke="#4126b6"/>
<path d="M377.5 390.7L377.5 390.6L374.5 389.1L374.5 389.2Z" stroke="#4026b5"/>
<path d="M381.4 386.0L381.4 392.3L378.4 390.8L378.4 386.1Z" stroke="#4331c9"/>
<path d="M381.4 383.3L381.4 386.0L378.4 386.1L378.4 384.2Z" stroke="#4743e4"/>
<path d="M381.3 378.9L381.4 383.3L378.4 384.2L378.3 381.1Z" stroke="#4850f2"/>
<path d="M381.3 372.7L381.3 378.9L378.3 381.1L378.3 376.4Z" stroke="#4364fb"/>
<path d="M381.2 366.6L381.3 372.7L378.3 376.4L378.3 370.5Z" stroke="#327cfa"/>
<path d="M381.2 366.7L381.2 366.6L378.3 370.5L378.2 367.2Z" stroke="#2a8ef0"/>
<path d="M381.2 372.7L381.2 366.7L378.2 367.2L378.2 370.5Z" stroke="#2d86f4"/>
<path d="M381.1 379.0L381.2 372.7L378.2 370.5L378.1 376.5Z" stroke="#3c6ffb"/>
<path d="M381.1 383.3L381.1 379.0L378.1 376.5L378.1 381.2Z" stroke="#4658f6"/>
<path d="M381.0 386.1L381.1 383.3L378.1 381.2L378.1 384.3Z" stroke="#4749ea"/>
<path d="M381.0 387.8L381.0 386.1L378.1 384.3L378.0 386.2Z" stroke="#463edf"/>
<path d="M381.0 389.0L381.0 387.8L378.0 386.2L378.0 387.4Z" stroke="#4537d4"/>
<path d="M380.9 389.7L381.0 389.0L378.0 387.4L377.9 388.3Z" stroke="#4433cc"/>
<path d="M380.9 390.3L380.9 389.7L377.9 388.3L377.9 388.8Z" stroke="#432fc6"/>
<path d="M380.8 390.7L380.9 390.3L377.9 388.8L377.9 389.3Z" stroke="#422dc2"/>
<path d="M380.8 391.0L380.8 390.7L377.9 389.3L377.8 389.6Z" stroke="#422bbf"/>
<path d="M380.8 391.3L380.8 391.0L377.8 389.6L377.8 389.8Z" stroke="#422abd"/>
<path d="M380.7 391.5L380.8 391.3L377.8 389.8L377.7 390.0Z" stroke="#4129bb"/>
<path d="M380.7 391.6L380.7 391.5L377.7 390.0L377.7 390.2Z" stroke="#4128ba"/>
<path d="M380.7 391.7L380.7 391.6L377.7 390.2L377.7 390.3Z" stroke="#4128b9"/>
<path d="M380.6 391.8L380.7 391.7L377.7 390.3L377.6 390.4Z" stroke="#4127b8"/>
<path d="M380.6 391.9L380.6 391.8L377.6 390.4L377.6 390.5Z" stroke="#4127b7"/>
<path d="M380.5 392.0L380.6 391.9L377.6 390.5L377.5 390.5Z" stroke="#4127b7"/>
<path d="M380.5 392.1L380.5 392.0L377.5 390.5L377.5 390.6Z" stroke="#4126b6"/>
<path d="M380.5 392.1L380.5 392.1L377.5 390.6L377.5 390.7Z" stroke="#4126b6"/>
<path d="M380.4 392.2L380.5 392.1L377.5 390.7L377.4 390.7Z" stroke="#4026b5"/>
<path d="M384.4 387.7L384.5 393.8L381.5 392.3L381.4 392.3Z" stroke="#422bbf"/>
<path d="M384.4 385.2L384.4 387.7L381.4 392.3L381.4 386.0Z" stroke="#463ddd"/>
<path d="M384.3 381.3L384.4 385.2L381.4 386.0L381.4 383.3Z" stroke="#484eef"/>
<path d="M384.3 375.3L384.3 381.3L381.4 383.3L381.3 378.9Z" stroke="#4460f9"/>
<path d="M384.3 367.6L384.3 375.3L381.3 378.9L381.3 372.7Z" stroke="#3479fa"/>
<path d="M384.2 363.4L384.3 367.6L381.3 372.7L381.2 366.6Z" stroke="#2695eb"/>
<path d="M384.2 367.6L384.2 363.4L381.2 366.6L381.2 366.7Z" stroke="#249be8"/>
<path d="M384.1 375.3L384.2 367.6L381.2 366.7L381.2 372.7Z" stroke="#2d87f3"/>
<path d="M384.1 381.4L384.1 375.3L381.2 372.7L381.1 379.0Z" stroke="#3f6bfc"/>
<path d="M384.1 385.3L384.1 381.4L381.1 379.0L381.1 383.3Z" stroke="#4755f5"/>
<path d="M384.0 387.8L384.1 385.3L381.1 383.3L381.0 386.1Z" stroke="#4747e8"/>
<path d="M384.0 389.4L384.0 387.8L381.0 386.1L381.0 387.8Z" stroke="#463dde"/>
<path d="M384.0 390.5L384.0 389.4L381.0 387.8L381.0 389.0Z" stroke="#4537d3"/>
<path d="M383.9 391.2L384.0 390.5L381.0 389.0L380.9 389.7Z" stroke="#4433cc"/>
<path d="M383.9 391.7L383.9 391.2L380.9 389.7L380.9 390.3Z" stroke="#4330c6"/>
<path d="M383.8 392.1L383.9 391.7L380.9 390.3L380.8 390.7Z" stroke="#422dc2"/>
<path d="M383.8 392.5L383.8 392.1L380.8 390.7L380.8 391.0Z" stroke="#422cbf"/>
<path d="M383.8 392.7L383.8 392.5L380.8 391.0L380.8 391.3Z" stroke="#422abd"/>
<path d="M383.7 392.9L383.8 392.7L380.8 391.3L380.7 391.5Z" stroke="#4129bc"/>
<path d="M383.7 393.0L383.7 392.9L380.7 391.5L380.7 391.6Z" stroke="#4129ba"/>
<path d="M383.6 393.2L383.7 393.0L380.7 391.6L380.7 391.7Z" stroke="#4128b9"/>
<path d="M383.6 393.3L383.6 393.2L380.7 391.7L380.6 391.8Z" stroke="#4128b8"/>
<path d="M383.6 393.4L383.6 393.3L380.6 391.8L380.6 391.9Z" stroke="#4127b8"/>
<path d="M383.5 393.5L383.6 393.4L380.6 391.9L380.5 392.0Z" stroke="#4127b7"/>
<path d="M383.5 393.5L383.5 393.5L380.5 392.0L380.5 392.1Z" stroke="#4127b6"/>
<path d="M383.4 393.6L383.5 393.5L380.5 392.1L380.5 392.1Z" stroke="#4126b6"/>
<path d="M383.4 393.6L383.4 393.6L380.5 392.1L380.4 392.2Z" stroke="#4126b6"/>
<path d="M383.4 393.7L383.4 393.6L380.4 392.2L380.4 392.2Z" stroke="#4026b5"/>
<path d="M387.4 387.0L387.4 395.2L384.5 393.8L384.4 387.7Z" stroke="#4435d0"/>
<path d="M387.4 383.5L387.4 387.0L384.4 387.7L384.4 385.2Z" stroke="#474ced"/>
<path d="M387.3 377.9L387.4 383.5L384.4 385.2L384.3 381.3Z" stroke="#455cf8"/>
<path d="M387.3 369.7L387.3 377.9L384.3 381.3L384.3 375.3Z" stroke="#3775fb"/>
<path d="M387.2 361.8L387.3 369.7L384.3 375.3L384.3 367.6Z" stroke="#2697ea"/>
<path d="M387.2 361.8L387.2 361.8L384.3 367.6L384.2 363.4Z" stroke="#1ca7df"/>
<path d="M387.2 369.7L387.2 361.8L384.2 363.4L384.2 367.6Z" stroke="#20a1e4"/>
<path d="M387.1 377.9L387.2 369.7L384.2 367.6L384.1 375.3Z" stroke="#2e85f5"/>
<path d="M387.1 383.6L387.1 377.9L384.1 375.3L384.1 381.4Z" stroke="#4267fc"/>
<path d="M387.1 387.1L387.1 383.6L384.1 381.4L384.1 385.3Z" stroke="#4853f4"/>
<path d="M387.0 389.4L387.1 387.1L384.1 385.3L384.0 387.8Z" stroke="#4745e6"/>
<path d="M387.0 390.9L387.0 389.4L384.0 387.8L384.0 389.4Z" stroke="#463ddd"/>
<path d="M386.9 391.9L387.0 390.9L384.0 389.4L384.0 390.5Z" stroke="#4537d3"/>
<path d="M386.9 392.6L386.9 391.9L384.0 390.5L383.9 391.2Z" stroke="#4433cc"/>
<path d="M386.9 393.2L386.9 392.6L383.9 391.2L383.9 391.7Z" stroke="#4330c7"/>
<path d="M386.8 393.6L386.9 393.2L383.9 391.7L383.8 392.1Z" stroke="#422ec3"/>
<path d="M386.8 393.9L386.8 393.6L383.8 392.1L383.8 392.5Z" stroke="#422cc0"/>
<path d="M386.7 394.1L386.8 393.9L383.8 392.5L383.8 392.7Z" stroke="#422bbe"/>
<path d="M386.7 394.3L386.7 394.1L383.8 392.7L383.7 392.9Z" stroke="#412abc"/>
<path d="M386.7 394.5L386.7 394.3L383.7 392.9L383.7 393.0Z" stroke="#4129bb"/>
<path d="M386.6 394.6L386.7 394.5L383.7 393.0L383.6 393.2Z" stroke="#4128ba"/>
<path d="M386.6 394.7L386.6 394.6L383.6 393.2L383.6 393.3Z" stroke="#4128b9"/>
<path d="M386.5 394.8L386.6 394.7L383.6 393.3L383.6 393.4Z" stroke="#4127b8"/>
<path d="M386.5 394.9L386.5 394.8L383.6 393.4L383.5 393.5Z" stroke="#4127b7"/>
<path d="M386.5 395.0L386.5 394.9L383.5 393.5L383.5 393.5Z" stroke="#4127b7"/>
<path d="M386.4 395.0L386.5 395.0L383.5 393.5L383.4 393.6Z" stroke="#4126b6"/>
<path d="M386.4 395.1L386.4 395.0L383.4 393.6L383.4 393.6Z" stroke="#4126b6"/>
<path d="M386.4 395.1L386.4 395.1L383.4 393.6L383.4 393.7Z" stroke="#4126b6"/>
<path d="M386.3 395.2L386.4 395.1L383.4 393.7L383.3 393.7Z" stroke="#4026b5"/>
<path d="M390.4 388.7L390.5 396.7L387.5 395.2L387.4 395.2Z" stroke="#422ec3"/>
<path d="M390.4 385.5L390.4 388.7L387.4 395.2L387.4 387.0Z" stroke="#4744e5"/>
<path d="M390.4 380.3L390.4 385.5L387.4 387.0L387.4 383.5Z" stroke="#465af7"/>
<path d="M390.3 372.3L390.4 380.3L387.4 383.5L387.3 377.9Z" stroke="#3a71fb"/>
<path d="M390.3 362.2L390.3 372.3L387.3 377.9L387.3 369.7Z" stroke="#2695eb"/>
<path d="M390.2 356.7L390.3 362.2L387.3 369.7L387.2 361.8Z" stroke="#14add9"/>
<path d="M390.2 362.2L390.2 356.7L387.2 361.8L387.2 361.8Z" stroke="#0fb1d4"/>
<path d="M390.2 372.3L390.2 362.2L387.2 361.8L387.2 369.7Z" stroke="#1fa4e2"/>
<path d="M390.1 380.4L390.2 372.3L387.2 369.7L387.1 377.9Z" stroke="#3080f8"/>
<path d="M390.1 385.6L390.1 380.4L387.1 377.9L387.1 383.6Z" stroke="#4363fb"/>
<path d="M390.0 388.8L390.1 385.6L387.1 383.6L387.1 387.1Z" stroke="#4851f3"/>
<path d="M390.0 390.9L390.0 388.8L387.1 387.1L387.0 389.4Z" stroke="#4745e6"/>
<path d="M390.0 392.3L390.0 390.9L387.0 389.4L387.0 390.9Z" stroke="#463ddd"/>
<path d="M389.9 393.3L390.0 392.3L387.0 390.9L386.9 391.9Z" stroke="#4537d4"/>
<path d="M389.9 394.0L389.9 393.3L386.9 391.9L386.9 392.6Z" stroke="#4433cc"/>
<path d="M389.8 394.5L389.9 394.0L386.9 392.6L386.9 393.2Z" stroke="#4330c7"/>
<path d="M389.8 394.9L389.8 394.5L386.9 393.2L386.8 393.6Z" stroke="#432ec4"/>
<path d="M389.8 395.3L389.8 394.9L386.8 393.6L386.8 393.9Z" stroke="#422cc1"/>
<path d="M389.7 395.5L389.8 395.3L386.8 393.9L386.7 394.1Z" stroke="#422bbf"/>
<path d="M389.7 395.7L389.7 395.5L386.7 394.1L386.7 394.3Z" stroke="#422abd"/>
<path d="M389.7 395.9L389.7 395.7L386.7 394.3L386.7 394.5Z" stroke="#4129bb"/>
<path d="M389.6 396.0L389.7 395.9L386.7 394.5L386.6 394.6Z" stroke="#4129ba"/>
<path d="M389.6 396.1L389.6 396.0L386.6 394.6L386.6 394.7Z" stroke="#4128b9"/>
<path d="M389.5 396.2L389.6 396.1L386.6 394.7L386.5 394.8Z" stroke="#4128b8"/>
<path d="M389.5 396.3L389.5 396.2L386.5 394.8L386.5 394.9Z" stroke="#4127b8"/>
<path d="M389.5 396.4L389.5 396.3L386.5 394.9L386.5 395.0Z" stroke="#4127b7"/>
<path d="M389.4 396.5L389.5 396.4L386.5 395.0L386.4 395.0Z" stroke="#4127b7"/>
<path d="M389.4 396.5L389.4 396.5L386.4 395.0L386.4 395.1Z" stroke="#4126b6"/>
<path d="M389.3 396.6L389.4 396.5L386.4 395.1L386.4 395.1Z" stroke="#4126b6"/>
<path d="M389.3 396.6L389.3 396.6L386.4 395.1L386.3 395.2Z" stroke="#4126b6"/>
<path d="M389.3 396.7L389.3 396.6L386.3 395.2L386.3 395.2Z" stroke="#4026b5"/>
<path d="M393.4 387.3L393.5 398.2L390.5 396.7L390.4 388.7Z" stroke="#463bda"/>
<path d="M393.4 382.5L393.4 387.3L390.4 388.7L390.4 385.5Z" stroke="#4658f6"/>
<path d="M393.3 375.0L393.4 382.5L390.4 385.5L390.4 380.3Z" stroke="#3d6efb"/>
<path d="M393.3 364.1L393.3 375.0L390.4 380.3L390.3 372.3Z" stroke="#2891ee"/>
<path d="M393.3 353.6L393.3 364.1L390.3 372.3L390.3 362.2Z" stroke="#11afd7"/>
<path d="M393.2 353.6L393.3 353.6L390.3 362.2L390.2 356.7Z" stroke="#0abbc4"/>
<path d="M393.2 364.1L393.2 353.6L390.2 356.7L390.2 362.2Z" stroke="#0ab7cc"/>
<path d="M393.1 375.1L393.2 364.1L390.2 362.2L390.2 372.3Z" stroke="#20a2e3"/>
<path d="M393.1 382.6L393.1 375.1L390.2 372.3L390.1 380.4Z" stroke="#337bfa"/>
<path d="M393.1 387.4L393.1 382.6L390.1 380.4L390.1 385.6Z" stroke="#4461fa"/>
<path d="M393.0 390.4L393.1 387.4L390.1 385.6L390.0 388.8Z" stroke="#4850f2"/>
<path d="M393.0 392.4L393.0 390.4L390.0 388.8L390.0 390.9Z" stroke="#4744e5"/>
<path d="M392.9 393.7L393.0 392.4L390.0 390.9L390.0 392.3Z" stroke="#463ddd"/>
<path d="M392.9 394.7L392.9 393.7L390.0 392.3L389.9 393.3Z" stroke="#4538d4"/>
<path d="M392.9 395.4L392.9 394.7L389.9 393.3L389.9 394.0Z" stroke="#4434cd"/>
<path d="M392.8 395.9L392.9 395.4L389.9 394.0L389.8 394.5Z" stroke="#4331c8"/>
<path d="M392.8 396.3L392.8 395.9L389.8 394.5L389.8 394.9Z" stroke="#432fc5"/>
<path d="M392.8 396.6L392.8 396.3L389.8 394.9L389.8 395.3Z" stroke="#422dc2"/>
<path d="M392.7 396.9L392.8 396.6L389.8 395.3L389.7 395.5Z" stroke="#422cbf"/>
<path d="M392.7 397.1L392.7 396.9L389.7 395.5L389.7 395.7Z" stroke="#422bbe"/>
<path d="M392.6 397.3L392.7 397.1L389.7 395.7L389.7 395.9Z" stroke="#412abc"/>
<path d="M392.6 397.4L392.6 397.3L389.7 395.9L389.6 396.0Z" stroke="#4129bb"/>
<path d="M392.6 397.5L392.6 397.4L389.6 396.0L389.6 396.1Z" stroke="#4129ba"/>
<path d="M392.5 397.7L392.6 397.5L389.6 396.1L389.5 396.2Z" stroke="#4128b9"/>
<path d="M392.5 397.7L392.5 397.7L389.5 396.2L389.5 396.3Z" stroke="#4128b8"/>
<path d="M392.4 397.8L392.5 397.7L389.5 396.3L389.5 396.4Z" stroke="#4127b8"/>
<path d="M392.4 397.9L392.4 397.8L389.5 396.4L389.4 396.5Z" stroke="#4127b7"/>
<path d="M392.4 398.0L392.4 397.9L389.4 396.5L389.4 396.5Z" stroke="#4127b7"/>
<path d="M392.3 398.0L392.4 398.0L389.4 396.5L389.3 396.6Z" stroke="#4126b6"/>
<path d="M392.3 398.1L392.3 398.0L389.3 396.6L389.3 396.6Z" stroke="#4126b6"/>
<path d="M392.2 398.1L392.3 398.1L389.3 396.6L389.3 396.7Z" stroke="#4126b6"/>
<path d="M392.2 398.2L392.2 398.1L389.3 396.7L389.2 396.7Z" stroke="#4026b5"/>
<path d="M392.2 398.2L392.2 398.2L389.2 396.7L389.2 396.8Z" stroke="#4026b5"/>
<path d="M396.4 388.9L396.5 399.7L393.5 398.2L393.5 398.2Z" stroke="#4331c9"/>
<path d="M396.4 384.5L396.4 388.9L393.5 398.2L393.4 387.3Z" stroke="#484ef0"/>
<path d="M396.4 377.6L396.4 384.5L393.4 387.3L393.4 382.5Z" stroke="#3f6bfc"/>
<path d="M396.3 366.8L396.4 377.6L393.4 382.5L393.3 375.0Z" stroke="#2b8cf1"/>
<path d="M396.3 353.2L396.3 366.8L393.3 375.0L393.3 364.1Z" stroke="#12afd7"/>
<path d="M396.2 345.8L396.3 353.2L393.3 364.1L393.3 353.6Z" stroke="#18c0b7"/>
<path d="M396.2 353.2L396.2 345.8L393.3 353.6L393.2 353.6Z" stroke="#25c4ad"/>
<path d="M396.2 366.9L396.2 353.2L393.2 353.6L393.2 364.1Z" stroke="#08b9c8"/>
<path d="M396.1 377.7L396.2 366.9L393.2 364.1L393.1 375.1Z" stroke="#229fe6"/>
<path d="M396.1 384.6L396.1 377.7L393.1 375.1L393.1 382.6Z" stroke="#3578fa"/>
<path d="M396.1 389.0L396.1 384.6L393.1 382.6L393.1 387.4Z" stroke="#445ff9"/>
<path d="M396.0 391.8L396.1 389.0L393.1 387.4L393.0 390.4Z" stroke="#484ff1"/>
<path d="M396.0 393.7L396.0 391.8L393.0 390.4L393.0 392.4Z" stroke="#4745e5"/>
<path d="M395.9 395.0L396.0 393.7L393.0 392.4L392.9 393.7Z" stroke="#463ede"/>
<path d="M395.9 396.0L395.9 395.0L392.9 393.7L392.9 394.7Z" stroke="#4538d5"/>
<path d="M395.9 396.7L395.9 396.0L392.9 394.7L392.9 395.4Z" stroke="#4434cf"/>
<path d="M395.8 397.2L395.9 396.7L392.9 395.4L392.8 395.9Z" stroke="#4332ca"/>
<path d="M395.8 397.6L395.8 397.2L392.8 395.9L392.8 396.3Z" stroke="#432fc6"/>
<path d="M395.7 398.0L395.8 397.6L392.8 396.3L392.8 396.6Z" stroke="#422ec3"/>
<path d="M395.7 398.2L395.7 398.0L392.8 396.6L392.7 396.9Z" stroke="#422cc0"/>
<path d="M395.7 398.5L395.7 398.2L392.7 396.9L392.7 397.1Z" stroke="#422bbf"/>
<path d="M395.6 398.7L395.7 398.5L392.7 397.1L392.6 397.3Z" stroke="#422abd"/>
<path d="M395.6 398.8L395.6 398.7L392.6 397.3L392.6 397.4Z" stroke="#412abc"/>
<path d="M395.5 398.9L395.6 398.8L392.6 397.4L392.6 397.5Z" stroke="#4129bb"/>
<path d="M395.5 399.1L395.5 398.9L392.6 397.5L392.5 397.7Z" stroke="#4128ba"/>
<path d="M395.5 399.2L395.5 399.1L392.5 397.7L392.5 397.7Z" stroke="#4128b9"/>
<path d="M395.4 399.2L395.5 399.2L392.5 397.7L392.4 397.8Z" stroke="#4128b8"/>
<path d="M395.4 399.3L395.4 399.2L392.4 397.8L392.4 397.9Z" stroke="#4127b8"/>
<path d="M395.4 399.4L395.4 399.3L392.4 397.9L392.4 398.0Z" stroke="#4127b7"/>
<path d="M395.3 399.5L395.4 399.4L392.4 398.0L392.3 398.0Z" stroke="#4127b7"/>
<path d="M395.3 399.5L395.3 399.5L392.3 398.0L392.3 398.1Z" stroke="#4127b6"/>
<path d="M395.2 399.6L395.3 399.5L392.3 398.1L392.2 398.1Z" stroke="#4126b6"/>
<path d="M395.2 399.6L395.2 399.6L392.2 398.1L392.2 398.2Z" stroke="#4126b6"/>
<path d="M395.2 399.7L395.2 399.6L392.2 398.2L392.2 398.2Z" stroke="#4026b5"/>
<path d="M395.1 399.7L395.2 399.7L392.2 398.2L392.1 398.2Z" stroke="#4026b5"/>
<path d="M399.4 386.4L399.5 401.2L396.5 399.7L396.4 388.9Z" stroke="#4742e2"/>
<path d="M399.4 380.0L399.4 386.4L396.4 388.9L396.4 384.5Z" stroke="#4169fc"/>
<path d="M399.4 369.9L399.4 380.0L396.4 384.5L396.4 377.6Z" stroke="#2d87f4"/>
<path d="M399.3 355.1L399.4 369.9L396.4 377.6L396.3 366.8Z" stroke="#15acda"/>
<path d="M399.3 341.0L399.3 355.1L396.3 366.8L396.3 353.2Z" stroke="#20c2b1"/>
<path d="M399.2 341.0L399.3 341.0L396.3 353.2L396.2 345.8Z" stroke="#4ecb8c"/>
<path d="M399.2 355.2L399.2 341.0L396.2 345.8L396.2 353.2Z" stroke="#3bc89b"/>
<path d="M399.2 369.9L399.2 355.2L396.2 353.2L396.2 366.9Z" stroke="#09b8c9"/>
<path d="M399.1 380.1L399.2 369.9L396.2 366.9L396.1 377.7Z" stroke="#249ae8"/>
<path d="M399.1 386.5L399.1 380.1L396.1 377.7L396.1 384.6Z" stroke="#3874fb"/>
<path d="M399.0 390.6L399.1 386.5L396.1 384.6L396.1 389.0Z" stroke="#455ef8"/>
<path d="M399.0 393.2L399.0 390.6L396.1 389.0L396.0 391.8Z" stroke="#484ff1"/>
<path d="M399.0 395.1L399.0 393.2L396.0 391.8L396.0 393.7Z" stroke="#4745e6"/>
<path d="M398.9 396.3L399.0 395.1L396.0 393.7L395.9 395.0Z" stroke="#463ede"/>
<path d="M398.9 397.3L398.9 396.3L395.9 395.0L395.9 396.0Z" stroke="#4539d7"/>
<path d="M398.8 398.0L398.9 397.3L395.9 396.0L395.9 396.7Z" stroke="#4435d0"/>
<path d="M398.8 398.5L398.8 398.0L395.9 396.7L395.8 397.2Z" stroke="#4432cb"/>
<path d="M398.8 399.0L398.8 398.5L395.8 397.2L395.8 397.6Z" stroke="#4330c7"/>
<path d="M398.7 399.3L398.8 399.0L395.8 397.6L395.7 398.0Z" stroke="#432ec4"/>
<path d="M398.7 399.6L398.7 399.3L395.7 398.0L395.7 398.2Z" stroke="#422dc2"/>
<path d="M398.6 399.8L398.7 399.6L395.7 398.2L395.7 398.5Z" stroke="#422cc0"/>
<path d="M398.6 400.0L398.6 399.8L395.7 398.5L395.6 398.7Z" stroke="#422bbe"/>
<path d="M398.6 400.2L398.6 400.0L395.6 398.7L395.6 398.8Z" stroke="#422abd"/>
<path d="M398.5 400.3L398.6 400.2L395.6 398.8L395.5 398.9Z" stroke="#4129bb"/>
<path d="M398.5 400.5L398.5 400.3L395.5 398.9L395.5 399.1Z" stroke="#4129bb"/>
<path d="M398.5 400.6L398.5 400.5L395.5 399.1L395.5 399.2Z" stroke="#4128ba"/>
<path d="M398.4 400.7L398.5 400.6L395.5 399.2L395.4 399.2Z" stroke="#4128b9"/>
<path d="M398.4 400.7L398.4 400.7L395.4 399.2L395.4 399.3Z" stroke="#4128b8"/>
<path d="M398.3 400.8L398.4 400.7L395.4 399.3L395.4 399.4Z" stroke="#4127b8"/>
<path d="M398.3 400.9L398.3 400.8L395.4 399.4L395.3 399.5Z" stroke="#4127b7"/>
<path d="M398.3 400.9L398.3 400.9L395.3 399.5L395.3 399.5Z" stroke="#4127b7"/>
<path d="M398.2 401.0L398.3 400.9L395.3 399.5L395.2 399.6Z" stroke="#4127b7"/>
<path d="M398.2 401.0L398.2 401.0L395.2 399.6L395.2 399.6Z" stroke="#4126b6"/>
<path d="M398.1 401.1L398.2 401.0L395.2 399.6L395.2 399.7Z" stroke="#4126b6"/>
<path d="M398.1 401.1L398.1 401.1L395.2 399.7L395.1 399.7Z" stroke="#4126b6"/>
<path d="M398.1 401.2L398.1 401.1L395.1 399.7L395.1 399.7Z" stroke="#4026b5"/>
<path d="M398.0 401.2L398.1 401.2L395.1 399.7L395.0 399.8Z" stroke="#4026b5"/>
<path d="M402.5 388.2L402.5 402.7L399.5 401.2L399.5 401.2Z" stroke="#4435d0"/>
<path d="M402.4 382.4L402.5 388.2L399.5 401.2L399.4 386.4Z" stroke="#455cf8"/>
<path d="M402.4 373.1L402.4 382.4L399.4 386.4L399.4 380.0Z" stroke="#2f82f6"/>
<path d="M402.3 358.6L402.4 373.1L399.4 380.0L399.4 369.9Z" stroke="#1aa9de"/>
<path d="M402.3 340.4L402.3 358.6L399.4 369.9L399.3 355.1Z" stroke="#1dc2b3"/>
<path d="M402.3 330.5L402.3 340.4L399.3 355.1L399.3 341.0Z" stroke="#6ecd73"/>
<path d="M402.2 340.4L402.3 330.5L399.3 341.0L399.2 341.0Z" stroke="#88cb62"/>
<path d="M402.2 358.7L402.2 340.4L399.2 341.0L399.2 355.2Z" stroke="#43c995"/>
<path d="M402.1 373.1L402.2 358.7L399.2 355.2L399.2 369.9Z" stroke="#0bb6cd"/>
<path d="M402.1 382.5L402.1 373.1L399.2 369.9L399.1 380.1Z" stroke="#2696eb"/>
<path d="M402.1 388.3L402.1 382.5L399.1 380.1L399.1 386.5Z" stroke="#3a72fb"/>
<path d="M402.0 392.1L402.1 388.3L399.1 386.5L399.0 390.6Z" stroke="#455df8"/>
<path d="M402.0 394.6L402.0 392.1L399.0 390.6L399.0 393.2Z" stroke="#484ff1"/>
<path d="M401.9 396.4L402.0 394.6L399.0 393.2L399.0 395.1Z" stroke="#4746e6"/>
<path d="M401.9 397.7L401.9 396.4L399.0 395.1L398.9 396.3Z" stroke="#463fdf"/>
<path d="M401.9 398.6L401.9 397.7L398.9 396.3L398.9 397.3Z" stroke="#463ad9"/>
<path d="M401.8 399.3L401.9 398.6L398.9 397.3L398.8 398.0Z" stroke="#4536d2"/>
<path d="M401.8 399.9L401.8 399.3L398.8 398.0L398.8 398.5Z" stroke="#4433cd"/>
<path d="M401.8 400.3L401.8 399.9L398.8 398.5L398.8 399.0Z" stroke="#4331c9"/>
<path d="M401.7 400.7L401.8 400.3L398.8 399.0L398.7 399.3Z" stroke="#432fc5"/>
<path d="M401.7 400.9L401.7 400.7L398.7 399.3L398.7 399.6Z" stroke="#422ec3"/>
<path d="M401.6 401.2L401.7 400.9L398.7 399.6L398.6 399.8Z" stroke="#422cc1"/>
<path d="M401.6 401.4L401.6 401.2L398.6 399.8L398.6 400.0Z" stroke="#422bbf"/>
<path d="M401.6 401.6L401.6 401.4L398.6 400.0L398.6 400.2Z" stroke="#422bbe"/>
<path d="M401.5 401.7L401.6 401.6L398.6 400.2L398.5 400.3Z" stroke="#412abc"/>
<path d="M401.5 401.8L401.5 401.7L398.5 400.3L398.5 400.5Z" stroke="#4129bb"/>
<path d="M401.4 402.0L401.5 401.8L398.5 400.5L398.5 400.6Z" stroke="#4129ba"/>
<path d="M401.4 402.1L401.4 402.0L398.5 400.6L398.4 400.7Z" stroke="#4128ba"/>
<path d="M401.4 402.1L401.4 402.1L398.4 400.7L398.4 400.7Z" stroke="#4128b9"/>
<path d="M401.3 402.2L401.4 402.1L398.4 400.7L398.3 400.8Z" stroke="#4128b8"/>
<path d="M401.3 402.3L401.3 402.2L398.3 400.8L398.3 400.9Z" stroke="#4127b8"/>
<path d="M401.2 402.4L401.3 402.3L398.3 400.9L398.3 400.9Z" stroke="#4127b7"/>
<path d="M401.2 402.4L401.2 402.4L398.3 400.9L398.2 401.0Z" stroke="#4127b7"/>
<path d="M401.2 402.5L401.2 402.4L398.2 401.0L398.2 401.0Z" stroke="#4127b7"/>
<path d="M401.1 402.5L401.2 402.5L398.2 401.0L398.1 401.1Z" stroke="#4126b6"/>
<path d="M401.1 402.6L401.1 402.5L398.1 401.1L398.1 401.1Z" stroke="#4126b6"/>
<path d="M401.1 402.6L401.1 402.6L398.1 401.1L398.1 401.2Z" stroke="#4126b6"/>
<path d="M401.0 402.7L401.1 402.6L398.1 401.2L398.0 401.2Z" stroke="#4126b6"/>
<path d="M401.0 402.7L401.0 402.7L398.0 401.2L398.0 401.2Z" stroke="#4026b5"/>
<path d="M400.9 402.7L401.0 402.7L398.0 401.2L397.9 401.3Z" stroke="#4026b5"/>
<path d="M405.4 384.8L405.5 404.1L402.5 402.7L402.5 388.2Z" stroke="#474bec"/>
<path d="M405.4 376.4L405.4 384.8L402.5 388.2L402.4 382.4Z" stroke="#317ef9"/>
<path d="M405.4 363.1L405.4 376.4L402.4 382.4L402.4 373.1Z" stroke="#1fa4e2"/>
<path d="M405.3 343.8L405.4 363.1L402.4 373.1L402.3 358.6Z" stroke="#14bfbb"/>
<path d="M405.3 325.3L405.3 343.8L402.3 358.6L402.3 340.4Z" stroke="#76cc6d"/>
<path d="M405.2 325.3L405.3 325.3L402.3 340.4L402.3 330.5Z" stroke="#c6c138"/>
<path d="M405.2 343.9L405.2 325.3L402.3 330.5L402.2 340.4Z" stroke="#a9c74c"/>
<path d="M405.2 363.2L405.2 343.9L402.2 340.4L402.2 358.7Z" stroke="#3cc89a"/>
<path d="M405.1 376.5L405.2 363.2L402.2 358.7L402.1 373.1Z" stroke="#0eb2d4"/>
<path d="M405.1 384.9L405.1 376.5L402.1 373.1L402.1 382.5Z" stroke="#2990ef"/>
<path d="M405.1 390.2L405.1 384.9L402.1 382.5L402.1 388.3Z" stroke="#3c6ffb"/>
<path d="M405.0 393.7L405.1 390.2L402.1 388.3L402.0 392.1Z" stroke="#455cf8"/>
<path d="M405.0 396.1L405.0 393.7L402.0 392.1L402.0 394.6Z" stroke="#484ff1"/>
<path d="M404.9 397.8L405.0 396.1L402.0 394.6L401.9 396.4Z" stroke="#4746e7"/>
<path d="M404.9 399.0L404.9 397.8L401.9 396.4L401.9 397.7Z" stroke="#4640e0"/>
<path d="M404.9 399.9L404.9 399.0L401.9 397.7L401.9 398.6Z" stroke="#463bda"/>
<path d="M404.8 400.6L404.9 399.9L401.9 398.6L401.8 399.3Z" stroke="#4537d3"/>
<path d="M404.8 401.2L404.8 400.6L401.8 399.3L401.8 399.9Z" stroke="#4434ce"/>
<path d="M404.7 401.6L404.8 401.2L401.8 399.9L401.8 400.3Z" stroke="#4332ca"/>
<path d="M404.7 402.0L404.7 401.6L401.8 400.3L401.7 400.7Z" stroke="#4330c7"/>
<path d="M404.7 402.3L404.7 402.0L401.7 400.7L401.7 400.9Z" stroke="#432ec4"/>
<path d="M404.6 402.6L404.7 402.3L401.7 400.9L401.6 401.2Z" stroke="#422dc2"/>
<path d="M404.6 402.8L404.6 402.6L401.6 401.2L401.6 401.4Z" stroke="#422cc0"/>
<path d="M404.5 402.9L404.6 402.8L401.6 401.4L401.6 401.6Z" stroke="#422bbf"/>
<path d="M404.5 403.1L404.5 402.9L401.6 401.6L401.5 401.7Z" stroke="#422abd"/>
<path d="M404.5 403.2L404.5 403.1L401.5 401.7L401.5 401.8Z" stroke="#412abc"/>
<path d="M404.4 403.4L404.5 403.2L401.5 401.8L401.4 402.0Z" stroke="#4129bb"/>
<path d="M404.4 403.5L404.4 403.4L401.4 402.0L401.4 402.1Z" stroke="#4129ba"/>
<path d="M404.3 403.6L404.4 403.5L401.4 402.1L401.4 402.1Z" stroke="#4128ba"/>
<path d="M404.3 403.6L404.3 403.6L401.4 402.1L401.3 402.2Z" stroke="#4128b9"/>
<path d="M404.3 403.7L404.3 403.6L401.3 402.2L401.3 402.3Z" stroke="#4128b9"/>
<path d="M404.2 403.8L404.3 403.7L401.3 402.3L401.2 402.4Z" stroke="#4127b8"/>
<path d="M404.2 403.9L404.2 403.8L401.2 402.4L401.2 402.4Z" stroke="#4127b8"/>
<path d="M404.2 403.9L404.2 403.9L401.2 402.4L401.2 402.5Z" stroke="#4127b7"/>
<path d="M404.1 404.0L404.2 403.9L401.2 402.5L401.1 402.5Z" stroke="#4127b7"/>
<path d="M404.1 404.0L404.1 404.0L401.1 402.5L401.1 402.6Z" stroke="#4127b7"/>
<path d="M404.0 404.1L404.1 404.0L401.1 402.6L401.1 402.6Z" stroke="#4126b6"/>
<path d="M404.0 404.1L404.0 404.1L401.1 402.6L401.0 402.7Z" stroke="#4126b6"/>
<path d="M404.0 404.1L404.0 404.1L401.0 402.7L401.0 402.7Z" stroke="#4126b6"/>
<path d="M403.9 404.2L404.0 404.1L401.0 402.7L400.9 402.7Z" stroke="#4126b6"/>
<path d="M403.9 404.2L403.9 404.2L400.9 402.7L400.9 402.8Z" stroke="#4026b5"/>
<path d="M403.8 404.2L403.9 404.2L400.9 402.8L400.9 402.8Z" stroke="#4026b5"/>
<path d="M408.5 387.4L408.5 405.6L405.5 404.1L405.5 404.1Z" stroke="#453ad8"/>
<path d="M408.4 380.1L408.5 387.4L405.5 404.1L405.4 384.8Z" stroke="#406afc"/>
<path d="M408.4 368.4L408.4 380.1L405.4 384.8L405.4 376.4Z" stroke="#239ce7"/>
<path d="M408.4 350.2L408.4 368.4L405.4 376.4L405.4 363.1Z" stroke="#07bac6"/>
<path d="M408.3 327.2L408.4 350.2L405.4 363.1L405.3 343.8Z" stroke="#65cc7a"/>
<path d="M408.3 314.7L408.3 327.2L405.3 343.8L405.3 325.3Z" stroke="#dcbd33"/>
<path d="M408.2 327.3L408.3 314.7L405.3 325.3L405.2 325.3Z" stroke="#f1bb3b"/>
<path d="M408.2 350.2L408.2 327.3L405.2 325.3L405.2 343.9Z" stroke="#a8c74c"/>
<path d="M408.2 368.4L408.2 350.2L405.2 343.9L405.2 363.2Z" stroke="#2ac5a9"/>
<path d="M408.1 380.2L408.2 368.4L405.2 363.2L405.1 376.5Z" stroke="#16acdb"/>
<path d="M408.1 387.5L408.1 380.2L405.1 376.5L405.1 384.9Z" stroke="#2c88f3"/>
<path d="M408.0 392.3L408.1 387.5L405.1 384.9L405.1 390.2Z" stroke="#3e6cfc"/>
<path d="M408.0 395.5L408.0 392.3L405.1 390.2L405.0 393.7Z" stroke="#465af7"/>
<path d="M408.0 397.7L408.0 395.5L405.0 393.7L405.0 396.1Z" stroke="#484ff0"/>
<path d="M407.9 399.3L408.0 397.7L405.0 396.1L404.9 397.8Z" stroke="#4746e7"/>
<path d="M407.9 400.5L407.9 399.3L404.9 397.8L404.9 399.0Z" stroke="#4640e0"/>
<path d="M407.8 401.3L407.9 400.5L404.9 399.0L404.9 399.9Z" stroke="#463bdb"/>
<path d="M407.8 402.0L407.8 401.3L404.9 399.9L404.8 400.6Z" stroke="#4538d4"/>
<path d="M407.8 402.6L407.8 402.0L404.8 400.6L404.8 401.2Z" stroke="#4435cf"/>
<path d="M407.7 403.0L407.8 402.6L404.8 401.2L404.7 401.6Z" stroke="#4432cb"/>
<path d="M407.7 403.4L407.7 403.0L404.7 401.6L404.7 402.0Z" stroke="#4330c8"/>
<path d="M407.6 403.7L407.7 403.4L404.7 402.0L404.7 402.3Z" stroke="#432fc5"/>
<path d="M407.6 404.0L407.6 403.7L404.7 402.3L404.6 402.6Z" stroke="#422ec3"/>
<path d="M407.6 404.2L407.6 404.0L404.6 402.6L404.6 402.8Z" stroke="#422dc1"/>
<path d="M407.5 404.4L407.6 404.2L404.6 402.8L404.5 402.9Z" stroke="#422cbf"/>
<path d="M407.5 404.5L407.5 404.4L404.5 402.9L404.5 403.1Z" stroke="#422bbe"/>
<path d="M407.5 404.7L407.5 404.5L404.5 403.1L404.5 403.2Z" stroke="#422abd"/>
<path d="M407.4 404.8L407.5 404.7L404.5 403.2L404.4 403.4Z" stroke="#412abc"/>
<path d="M407.4 404.9L407.4 404.8L404.4 403.4L404.4 403.5Z" stroke="#4129bb"/>
<path d="M407.3 405.0L407.4 404.9L404.4 403.5L404.3 403.6Z" stroke="#4129ba"/>
<path d="M407.3 405.1L407.3 405.0L404.3 403.6L404.3 403.6Z" stroke="#4128ba"/>
<path d="M407.3 405.2L407.3 405.1L404.3 403.6L404.3 403.7Z" stroke="#4128b9"/>
<path d="M407.2 405.2L407.3 405.2L404.3 403.7L404.2 403.8Z" stroke="#4128b8"/>
<path d="M407.2 405.3L407.2 405.2L404.2 403.8L404.2 403.9Z" stroke="#4127b8"/>
<path d="M407.1 405.4L407.2 405.3L404.2 403.9L404.2 403.9Z" stroke="#4127b8"/>
<path d="M407.1 405.4L407.1 405.4L404.2 403.9L404.1 404.0Z" stroke="#4127b7"/>
<path d="M407.1 405.5L407.1 405.4L404.1 404.0L404.1 404.0Z" stroke="#4127b7"/>
<path d="M407.0 405.5L407.1 405.5L404.1 404.0L404.0 404.1Z" stroke="#4127b7"/>
<path d="M407.0 405.6L407.0 405.5L404.0 404.1L404.0 404.1Z" stroke="#4126b6"/>
<path d="M406.9 405.6L407.0 405.6L404.0 404.1L404.0 404.1Z" stroke="#4126b6"/>
<path d="M406.9 405.6L406.9 405.6L404.0 404.1L403.9 404.2Z" stroke="#4126b6"/>
<path d="M406.9 405.7L406.9 405.6L403.9 404.2L403.9 404.2Z" stroke="#4126b6"/>
<path d="M406.8 405.7L406.9 405.7L403.9 404.2L403.8 404.2Z" stroke="#4026b5"/>
<path d="M406.8 405.7L406.8 405.7L403.8 404.2L403.8 404.3Z" stroke="#4026b5"/>
<path d="M411.5 384.2L411.5 407.1L408.5 405.6L408.5 387.4Z" stroke="#4853f4"/>
<path d="M411.4 374.2L411.5 384.2L408.5 387.4L408.4 380.1Z" stroke="#2893ed"/>
<path d="M411.4 358.5L411.4 374.2L408.4 380.1L408.4 368.4Z" stroke="#0eb3d2"/>
<path d="M411.3 335.6L411.4 358.5L408.4 368.4L408.4 350.2Z" stroke="#43c994"/>
<path d="M411.3 313.6L411.3 335.6L408.4 350.2L408.3 327.2Z" stroke="#d0bf32"/>
<path d="M411.3 313.6L411.3 313.6L408.3 327.2L408.3 314.7Z" stroke="#fdc832"/>
<path d="M411.2 335.6L411.3 313.6L408.3 314.7L408.2 327.3Z" stroke="#f6bc3c"/>
<path d="M411.2 358.5L411.2 335.6L408.2 327.3L408.2 350.2Z" stroke="#87cb63"/>
<path d="M411.1 374.3L411.2 358.5L408.2 350.2L408.2 368.4Z" stroke="#13bfbb"/>
<path d="M411.1 384.3L411.1 374.3L408.2 368.4L408.1 380.2Z" stroke="#1fa4e2"/>
<path d="M411.1 390.6L411.1 384.3L408.1 380.2L408.1 387.5Z" stroke="#307ff8"/>
<path d="M411.0 394.7L411.1 390.6L408.1 387.5L408.0 392.3Z" stroke="#4267fc"/>
<path d="M411.0 397.5L411.0 394.7L408.0 392.3L408.0 395.5Z" stroke="#4658f6"/>
<path d="M410.9 399.5L411.0 397.5L408.0 395.5L408.0 397.7Z" stroke="#484def"/>
<path d="M410.9 401.0L410.9 399.5L408.0 397.7L407.9 399.3Z" stroke="#4745e6"/>
<path d="M410.9 402.1L410.9 401.0L407.9 399.3L407.9 400.5Z" stroke="#4640e0"/>
<path d="M410.8 402.9L410.9 402.1L407.9 400.5L407.8 401.3Z" stroke="#463bdb"/>
<path d="M410.8 403.6L410.8 402.9L407.8 401.3L407.8 402.0Z" stroke="#4538d4"/>
<path d="M410.8 404.1L410.8 403.6L407.8 402.0L407.8 402.6Z" stroke="#4435cf"/>
<path d="M410.7 404.5L410.8 404.1L407.8 402.6L407.7 403.0Z" stroke="#4432cb"/>
<path d="M410.7 404.9L410.7 404.5L407.7 403.0L407.7 403.4Z" stroke="#4331c8"/>
<path d="M410.6 405.2L410.7 404.9L407.7 403.4L407.6 403.7Z" stroke="#432fc5"/>
<path d="M410.6 405.4L410.6 405.2L407.6 403.7L407.6 404.0Z" stroke="#422ec3"/>
<path d="M410.6 405.6L410.6 405.4L407.6 404.0L407.6 404.2Z" stroke="#422dc1"/>
<path d="M410.5 405.8L410.6 405.6L407.6 404.2L407.5 404.4Z" stroke="#422cc0"/>
<path d="M410.5 406.0L410.5 405.8L407.5 404.4L407.5 404.5Z" stroke="#422bbe"/>
<path d="M410.4 406.1L410.5 406.0L407.5 404.5L407.5 404.7Z" stroke="#422abd"/>
<path d="M410.4 406.2L410.4 406.1L407.5 404.7L407.4 404.8Z" stroke="#412abc"/>
<path d="M410.4 406.4L410.4 406.2L407.4 404.8L407.4 404.9Z" stroke="#4129bb"/>
<path d="M410.3 406.5L410.4 406.4L407.4 404.9L407.3 405.0Z" stroke="#4129bb"/>
<path d="M410.3 406.5L410.3 406.5L407.3 405.0L407.3 405.1Z" stroke="#4129ba"/>
<path d="M410.2 406.6L410.3 406.5L407.3 405.1L407.3 405.2Z" stroke="#4128b9"/>
<path d="M410.2 406.7L410.2 406.6L407.3 405.2L407.2 405.2Z" stroke="#4128b9"/>
<path d="M410.2 406.8L410.2 406.7L407.2 405.2L407.2 405.3Z" stroke="#4128b8"/>
<path d="M410.1 406.8L410.2 406.8L407.2 405.3L407.1 405.4Z" stroke="#4127b8"/>
<path d="M410.1 406.9L410.1 406.8L407.1 405.4L407.1 405.4Z" stroke="#4127b8"/>
<path d="M410.0 406.9L410.1 406.9L407.1 405.4L407.1 405.5Z" stroke="#4127b7"/>
<path d="M410.0 407.0L410.0 406.9L407.1 405.5L407.0 405.5Z" stroke="#4127b7"/>
<path d="M410.0 407.0L410.0 407.0L407.0 405.5L407.0 405.6Z" stroke="#4127b7"/>
<path d="M409.9 407.1L410.0 407.0L407.0 405.6L406.9 405.6Z" stroke="#4126b6"/>
<path d="M409.9 407.1L409.9 407.1L406.9 405.6L406.9 405.6Z" stroke="#4126b6"/>
<path d="M409.9 407.1L409.9 407.1L406.9 405.6L406.9 405.7Z" stroke="#4126b6"/>
<path d="M409.8 407.2L409.9 407.1L406.9 405.7L406.8 405.7Z" stroke="#4126b6"/>
<path d="M409.8 407.2L409.8 407.2L406.8 405.7L406.8 405.7Z" stroke="#4026b5"/>
<path d="M409.7 407.2L409.8 407.2L406.8 405.7L406.8 405.8Z" stroke="#4026b5"/>
<path d="M414.5 388.7L414.5 408.6L411.5 407.1L411.5 407.1Z" stroke="#463cdc"/>
<path d="M414.4 380.6L414.5 388.7L411.5 407.1L411.5 384.2Z" stroke="#3a72fb"/>
<path d="M414.4 367.8L414.4 380.6L411.5 384.2L411.4 374.2Z" stroke="#1ba8df"/>
<path d="M414.4 347.9L414.4 367.8L411.4 374.2L411.4 358.5Z" stroke="#1cc2b4"/>
<path d="M414.3 322.7L414.4 347.9L411.4 358.5L411.3 335.6Z" stroke="#9dc954"/>
<path d="M414.3 309.0L414.3 322.7L411.3 335.6L411.3 313.6Z" stroke="#fcc437"/>
<path d="M414.2 322.7L414.3 309.0L411.3 313.6L411.3 313.6Z" stroke="#f9d925"/>
<path d="M414.2 347.9L414.2 322.7L411.3 313.6L411.2 335.6Z" stroke="#e0bc34"/>
<path d="M414.2 367.8L414.2 347.9L411.2 335.6L411.2 358.5Z" stroke="#50cb8b"/>
<path d="M414.1 380.7L414.2 367.8L411.2 358.5L411.1 374.3Z" stroke="#0bb5ce"/>
<path d="M414.1 388.8L414.1 380.7L411.1 374.3L411.1 384.3Z" stroke="#2697ea"/>
<path d="M414.1 394.0L414.1 388.8L411.1 384.3L411.1 390.6Z" stroke="#3775fb"/>
<path d="M414.0 397.5L414.1 394.0L411.1 390.6L411.0 394.7Z" stroke="#4462fa"/>
<path d="M414.0 399.9L414.0 397.5L411.0 394.7L411.0 397.5Z" stroke="#4754f5"/>
<path d="M413.9 401.6L414.0 399.9L411.0 397.5L410.9 399.5Z" stroke="#474bec"/>
<path d="M413.9 402.9L413.9 401.6L410.9 399.5L410.9 401.0Z" stroke="#4744e4"/>
<path d="M413.9 403.9L413.9 402.9L410.9 401.0L410.9 402.1Z" stroke="#463edf"/>
<path d="M413.8 404.7L413.9 403.9L410.9 402.1L410.8 402.9Z" stroke="#463ad9"/>
<path d="M413.8 405.3L413.8 404.7L410.8 402.9L410.8 403.6Z" stroke="#4537d3"/>
<path d="M413.7 405.7L413.8 405.3L410.8 403.6L410.8 404.1Z" stroke="#4434ce"/>
<path d="M413.7 406.1L413.7 405.7L410.8 404.1L410.7 404.5Z" stroke="#4432cb"/>
<path d="M413.7 406.5L413.7 406.1L410.7 404.5L410.7 404.9Z" stroke="#4330c8"/>
<path d="M413.6 406.7L413.7 406.5L410.7 404.9L410.6 405.2Z" stroke="#432fc5"/>
<path d="M413.6 407.0L413.6 406.7L410.6 405.2L410.6 405.4Z" stroke="#422ec3"/>
<path d="M413.5 407.2L413.6 407.0L410.6 405.4L410.6 405.6Z" stroke="#422dc1"/>
<path d="M413.5 407.4L413.5 407.2L410.6 405.6L410.5 405.8Z" stroke="#422cc0"/>
<path d="M413.5 407.5L413.5 407.4L410.5 405.8L410.5 406.0Z" stroke="#422bbe"/>
<path d="M413.4 407.6L413.5 407.5L410.5 406.0L410.4 406.1Z" stroke="#422abd"/>
<path d="M413.4 407.8L413.4 407.6L410.4 406.1L410.4 406.2Z" stroke="#412abc"/>
<path d="M413.3 407.9L413.4 407.8L410.4 406.2L410.4 406.4Z" stroke="#4129bb"/>
<path d="M413.3 408.0L413.3 407.9L410.4 406.4L410.3 406.5Z" stroke="#4129bb"/>
<path d="M413.3 408.0L413.3 408.0L410.3 406.5L410.3 406.5Z" stroke="#4129ba"/>
<path d="M413.2 408.1L413.3 408.0L410.3 406.5L410.2 406.6Z" stroke="#4128b9"/>
<path d="M413.2 408.2L413.2 408.1L410.2 406.6L410.2 406.7Z" stroke="#4128b9"/>
<path d="M413.2 408.3L413.2 408.2L410.2 406.7L410.2 406.8Z" stroke="#4128b8"/>
<path d="M413.1 408.3L413.2 408.3L410.2 406.8L410.1 406.8Z" stroke="#4127b8"/>
<path d="M413.1 408.4L413.1 408.3L410.1 406.8L410.1 406.9Z" stroke="#4127b8"/>
<path d="M413.0 408.4L413.1 408.4L410.1 406.9L410.0 406.9Z" stroke="#4127b7"/>
<path d="M413.0 408.5L413.0 408.4L410.0 406.9L410.0 407.0Z" stroke="#4127b7"/>
<path d="M413.0 408.5L413.0 408.5L410.0 407.0L410.0 407.0Z" stroke="#4127b7"/>
<path d="M412.9 408.6L413.0 408.5L410.0 407.0L409.9 407.1Z" stroke="#4126b6"/>
<path d="M412.9 408.6L412.9 408.6L409.9 407.1L409.9 407.1Z" stroke="#4126b6"/>
<path d="M412.8 408.6L412.9 408.6L409.9 407.1L409.9 407.1Z" stroke="#4126b6"/>
<path d="M412.8 408.7L412.8 408.6L409.9 407.1L409.8 407.2Z" stroke="#4126b6"/>
<path d="M412.8 408.7L412.8 408.7L409.8 407.2L409.8 407.2Z" stroke="#4026b5"/>
<path d="M412.7 408.7L412.8 408.7L409.8 407.2L409.7 407.2Z" stroke="#4026b5"/>
<path d="M417.5 387.5L417.5 410.1L414.5 408.6L414.5 388.7Z" stroke="#4754f5"/>
<path d="M417.4 377.7L417.5 387.5L414.5 388.7L414.4 380.6Z" stroke="#2696eb"/>
<path d="M417.4 362.1L417.4 377.7L414.4 380.6L414.4 367.8Z" stroke="#0cb5cf"/>
<path d="M417.4 339.6L417.4 362.1L414.4 367.8L414.4 347.9Z" stroke="#4dcb8d"/>
<path d="M417.3 317.9L417.4 339.6L414.4 347.9L414.3 322.7Z" stroke="#ddbd33"/>
<path d="M417.3 317.9L417.3 317.9L414.3 322.7L414.3 309.0Z" stroke="#fad627"/>
<path d="M417.2 339.6L417.3 317.9L414.3 309.0L414.2 322.7Z" stroke="#fcc238"/>
<path d="M417.2 362.2L417.2 339.6L414.2 322.7L414.2 347.9Z" stroke="#9bc956"/>
<path d="M417.2 377.8L417.2 362.2L414.2 347.9L414.2 367.8Z" stroke="#1bc1b5"/>
<path d="M417.1 387.6L417.2 377.8L414.2 367.8L414.1 380.7Z" stroke="#1ca8df"/>
<path d="M417.1 393.8L417.1 387.6L414.1 380.7L414.1 388.8Z" stroke="#2e84f6"/>
<path d="M417.0 397.9L417.1 393.8L414.1 388.8L414.1 394.0Z" stroke="#406afc"/>
<path d="M417.0 400.6L417.0 397.9L414.1 394.0L414.0 397.5Z" stroke="#465af7"/>
<path d="M417.0 402.6L417.0 400.6L414.0 397.5L414.0 399.9Z" stroke="#484ff1"/>
<path d="M416.9 404.0L417.0 402.6L414.0 399.9L413.9 401.6Z" stroke="#4747e8"/>
<path d="M416.9 405.1L416.9 404.0L413.9 401.6L413.9 402.9Z" stroke="#4641e1"/>
<path d="M416.8 405.9L416.9 405.1L413.9 402.9L413.9 403.9Z" stroke="#463cdc"/>
<path d="M416.8 406.6L416.8 405.9L413.9 403.9L413.8 404.7Z" stroke="#4538d6"/>
<path d="M416.8 407.1L416.8 406.6L413.8 404.7L413.8 405.3Z" stroke="#4435d0"/>
<path d="M416.7 407.5L416.8 407.1L413.8 405.3L413.7 405.7Z" stroke="#4433cc"/>
<path d="M416.7 407.9L416.7 407.5L413.7 405.7L413.7 406.1Z" stroke="#4331c9"/>
<path d="M416.6 408.2L416.7 407.9L413.7 406.1L413.7 406.5Z" stroke="#4330c6"/>
<path d="M416.6 408.4L416.6 408.2L413.7 406.5L413.6 406.7Z" stroke="#432ec4"/>
<path d="M416.6 408.6L416.6 408.4L413.6 406.7L413.6 407.0Z" stroke="#422dc2"/>
<path d="M416.5 408.8L416.6 408.6L413.6 407.0L413.5 407.2Z" stroke="#422cc0"/>
<path d="M416.5 409.0L416.5 408.8L413.5 407.2L413.5 407.4Z" stroke="#422bbf"/>
<path d="M416.5 409.1L416.5 409.0L413.5 407.4L413.5 407.5Z" stroke="#422bbe"/>
<path d="M416.4 409.2L416.5 409.1L413.5 407.5L413.4 407.6Z" stroke="#422abd"/>
<path d="M416.4 409.3L416.4 409.2L413.4 407.6L413.4 407.8Z" stroke="#412abc"/>
<path d="M416.3 409.4L416.4 409.3L413.4 407.8L413.3 407.9Z" stroke="#4129bb"/>
<path d="M416.3 409.5L416.3 409.4L413.3 407.9L413.3 408.0Z" stroke="#4129ba"/>
<path d="M416.3 409.6L416.3 409.5L413.3 408.0L413.3 408.0Z" stroke="#4128ba"/>
<path d="M416.2 409.7L416.3 409.6L413.3 408.0L413.2 408.1Z" stroke="#4128b9"/>
<path d="M416.2 409.7L416.2 409.7L413.2 408.1L413.2 408.2Z" stroke="#4128b9"/>
<path d="M416.1 409.8L416.2 409.7L413.2 408.2L413.2 408.3Z" stroke="#4128b8"/>
<path d="M416.1 409.9L416.1 409.8L413.2 408.3L413.1 408.3Z" stroke="#4127b8"/>
<path d="M416.1 409.9L416.1 409.9L413.1 408.3L413.1 408.4Z" stroke="#4127b7"/>
<path d="M416.0 410.0L416.1 409.9L413.1 408.4L413.0 408.4Z" stroke="#4127b7"/>
<path d="M416.0 410.0L416.0 410.0L413.0 408.4L413.0 408.5Z" stroke="#4127b7"/>
<path d="M415.9 410.0L416.0 410.0L413.0 408.5L413.0 408.5Z" stroke="#4127b6"/>
<path d="M415.9 410.1L415.9 410.0L413.0 408.5L412.9 408.6Z" stroke="#4126b6"/>
<path d="M415.9 410.1L415.9 410.1L412.9 408.6L412.9 408.6Z" stroke="#4126b6"/>
<path d="M415.8 410.2L415.9 410.1L412.9 408.6L412.8 408.6Z" stroke="#4126b6"/>
<path d="M415.8 410.2L415.8 410.2L412.8 408.6L412.8 408.7Z" stroke="#4126b6"/>
<path d="M415.8 410.2L415.8 410.2L412.8 408.7L412.8 408.7Z" stroke="#4026b5"/>
<path d="M415.7 410.2L415.8 410.2L412.8 408.7L412.7 408.7Z" stroke="#4026b5"/>
<path d="M420.5 394.3L420.5 411.6L417.5 410.1L417.5 410.1Z" stroke="#4539d6"/>
<path d="M420.5 387.4L420.5 394.3L417.5 410.1L417.5 387.5Z" stroke="#3f6bfc"/>
<path d="M420.4 376.3L420.5 387.4L417.5 387.5L417.4 377.7Z" stroke="#21a0e4"/>
<path d="M420.4 359.0L420.4 376.3L417.4 377.7L417.4 362.1Z" stroke="#0ebcc0"/>
<path d="M420.3 337.3L420.4 359.0L417.4 362.1L417.4 339.6Z" stroke="#76cc6e"/>
<path d="M420.3 325.4L420.3 337.3L417.4 339.6L417.3 317.9Z" stroke="#eeba3a"/>
<path d="M420.3 337.3L420.3 325.4L417.3 317.9L417.3 317.9Z" stroke="#fcbf3b"/>
<path d="M420.2 359.1L420.3 337.3L417.3 317.9L417.2 339.6Z" stroke="#c2c23b"/>
<path d="M420.2 376.3L420.2 359.1L417.2 339.6L417.2 362.2Z" stroke="#3ac89c"/>
<path d="M420.1 387.5L420.2 376.3L417.2 362.2L417.2 377.8Z" stroke="#10b0d6"/>
<path d="M420.1 394.4L420.1 387.5L417.2 377.8L417.1 387.6Z" stroke="#298fef"/>
<path d="M420.1 398.9L420.1 394.4L417.1 387.6L417.1 393.8Z" stroke="#3b70fb"/>
<path d="M420.0 402.0L420.1 398.9L417.1 393.8L417.0 397.9Z" stroke="#455df8"/>
<path d="M420.0 404.1L420.0 402.0L417.0 397.9L417.0 400.6Z" stroke="#4851f3"/>
<path d="M419.9 405.6L420.0 404.1L417.0 400.6L417.0 402.6Z" stroke="#4748e9"/>
<path d="M419.9 406.7L419.9 405.6L417.0 402.6L416.9 404.0Z" stroke="#4641e2"/>
<path d="M419.9 407.5L419.9 406.7L416.9 404.0L416.9 405.1Z" stroke="#463ddd"/>
<path d="M419.8 408.2L419.9 407.5L416.9 405.1L416.8 405.9Z" stroke="#4539d6"/>
<path d="M419.8 408.7L419.8 408.2L416.8 405.9L416.8 406.6Z" stroke="#4435d1"/>
<path d="M419.8 409.1L419.8 408.7L416.8 406.6L416.8 407.1Z" stroke="#4433cc"/>
<path d="M419.7 409.5L419.8 409.1L416.8 407.1L416.7 407.5Z" stroke="#4331c9"/>
<path d="M419.7 409.8L419.7 409.5L416.7 407.5L416.7 407.9Z" stroke="#432fc6"/>
<path d="M419.6 410.0L419.7 409.8L416.7 407.9L416.6 408.2Z" stroke="#432ec4"/>
<path d="M419.6 410.2L419.6 410.0L416.6 408.2L416.6 408.4Z" stroke="#422dc2"/>
<path d="M419.6 410.4L419.6 410.2L416.6 408.4L416.6 408.6Z" stroke="#422cc0"/>
<path d="M419.5 410.5L419.6 410.4L416.6 408.6L416.5 408.8Z" stroke="#422bbf"/>
<path d="M419.5 410.7L419.5 410.5L416.5 408.8L416.5 409.0Z" stroke="#422bbd"/>
<path d="M419.4 410.8L419.5 410.7L416.5 409.0L416.5 409.1Z" stroke="#412abc"/>
<path d="M419.4 410.9L419.4 410.8L416.5 409.1L416.4 409.2Z" stroke="#4129bc"/>
<path d="M419.4 411.0L419.4 410.9L416.4 409.2L416.4 409.3Z" stroke="#4129bb"/>
<path d="M419.3 411.1L419.4 411.0L416.4 409.3L416.3 409.4Z" stroke="#4129ba"/>
<path d="M419.3 411.1L419.3 411.1L416.3 409.4L416.3 409.5Z" stroke="#4128b9"/>
<path d="M419.2 411.2L419.3 411.1L416.3 409.5L416.3 409.6Z" stroke="#4128b9"/>
<path d="M419.2 411.3L419.2 411.2L416.3 409.6L416.2 409.7Z" stroke="#4128b8"/>
<path d="M419.2 411.3L419.2 411.3L416.2 409.7L416.2 409.7Z" stroke="#4127b8"/>
<path d="M419.1 411.4L419.2 411.3L416.2 409.7L416.1 409.8Z" stroke="#4127b8"/>
<path d="M419.1 411.4L419.1 411.4L416.1 409.8L416.1 409.9Z" stroke="#4127b7"/>
<path d="M419.0 411.5L419.1 411.4L416.1 409.9L416.1 409.9Z" stroke="#4127b7"/>
<path d="M419.0 411.5L419.0 411.5L416.1 409.9L416.0 410.0Z" stroke="#4127b7"/>
<path d="M419.0 411.6L419.0 411.5L416.0 410.0L416.0 410.0Z" stroke="#4126b6"/>
<path d="M418.9 411.6L419.0 411.6L416.0 410.0L415.9 410.0Z" stroke="#4126b6"/>
<path d="M418.9 411.6L418.9 411.6L415.9 410.0L415.9 410.1Z" stroke="#4126b6"/>
<path d="M418.9 411.7L418.9 411.6L415.9 410.1L415.9 410.1Z" stroke="#4126b6"/>
<path d="M418.8 411.7L418.9 411.7L415.9 410.1L415.8 410.2Z" stroke="#4026b5"/>
<path d="M418.8 411.7L418.8 411.7L415.8 410.2L415.8 410.2Z" stroke="#4026b5"/>
<path d="M418.7 411.8L418.8 411.7L415.8 410.2L415.8 410.2Z" stroke="#4026b5"/>
<path d="M423.5 395.6L423.5 413.1L420.5 411.6L420.5 394.3Z" stroke="#474ced"/>
<path d="M423.4 388.1L423.5 395.6L420.5 394.3L420.5 387.4Z" stroke="#3080f8"/>
<path d="M423.4 376.2L423.4 388.1L420.5 387.4L420.4 376.3Z" stroke="#1ea6e1"/>
<path d="M423.4 358.8L423.4 376.2L420.4 376.3L420.4 359.0Z" stroke="#18c0b8"/>
<path d="M423.3 342.1L423.4 358.8L420.4 359.0L420.3 337.3Z" stroke="#83cb65"/>
<path d="M423.3 342.1L423.3 342.1L420.3 337.3L420.3 325.4Z" stroke="#d5be2f"/>
<path d="M423.2 358.8L423.3 342.1L420.3 325.4L420.3 337.3Z" stroke="#bcc43e"/>
<path d="M423.2 376.2L423.2 358.8L420.3 337.3L420.2 359.1Z" stroke="#4aca8f"/>
<path d="M423.2 388.2L423.2 376.2L420.2 359.1L420.2 376.3Z" stroke="#0cb5ce"/>
<path d="M423.1 395.8L423.2 388.2L420.2 376.3L420.1 387.5Z" stroke="#2695eb"/>
<path d="M423.1 400.5L423.1 395.8L420.1 387.5L420.1 394.4Z" stroke="#3973fb"/>
<path d="M423.1 403.7L423.1 400.5L420.1 394.4L420.1 398.9Z" stroke="#445ef9"/>
<path d="M423.0 405.8L423.1 403.7L420.1 398.9L420.0 402.0Z" stroke="#4851f3"/>
<path d="M423.0 407.3L423.0 405.8L420.0 402.0L420.0 404.1Z" stroke="#4748e9"/>
<path d="M422.9 408.4L423.0 407.3L420.0 404.1L419.9 405.6Z" stroke="#4641e1"/>
<path d="M422.9 409.3L422.9 408.4L419.9 405.6L419.9 406.7Z" stroke="#463cdc"/>
<path d="M422.9 409.9L422.9 409.3L419.9 406.7L419.9 407.5Z" stroke="#4538d5"/>
<path d="M422.8 410.4L422.9 409.9L419.9 407.5L419.8 408.2Z" stroke="#4435cf"/>
<path d="M422.8 410.8L422.8 410.4L419.8 408.2L419.8 408.7Z" stroke="#4432cb"/>
<path d="M422.7 411.1L422.8 410.8L419.8 408.7L419.8 409.1Z" stroke="#4330c8"/>
<path d="M422.7 411.4L422.7 411.1L419.8 409.1L419.7 409.5Z" stroke="#432fc5"/>
<path d="M422.7 411.6L422.7 411.4L419.7 409.5L419.7 409.8Z" stroke="#422dc3"/>
<path d="M422.6 411.8L422.7 411.6L419.7 409.8L419.6 410.0Z" stroke="#422cc1"/>
<path d="M422.6 412.0L422.6 411.8L419.6 410.0L419.6 410.2Z" stroke="#422bbf"/>
<path d="M422.5 412.1L422.6 412.0L419.6 410.2L419.6 410.4Z" stroke="#422bbe"/>
<path d="M422.5 412.3L422.5 412.1L419.6 410.4L419.5 410.5Z" stroke="#422abd"/>
<path d="M422.5 412.4L422.5 412.3L419.5 410.5L419.5 410.7Z" stroke="#4129bc"/>
<path d="M422.4 412.5L422.5 412.4L419.5 410.7L419.4 410.8Z" stroke="#4129bb"/>
<path d="M422.4 412.6L422.4 412.5L419.4 410.8L419.4 410.9Z" stroke="#4129ba"/>
<path d="M422.3 412.6L422.4 412.6L419.4 410.9L419.4 411.0Z" stroke="#4128b9"/>
<path d="M422.3 412.7L422.3 412.6L419.4 411.0L419.3 411.1Z" stroke="#4128b9"/>
<path d="M422.3 412.8L422.3 412.7L419.3 411.1L419.3 411.1Z" stroke="#4128b8"/>
<path d="M422.2 412.8L422.3 412.8L419.3 411.1L419.2 411.2Z" stroke="#4127b8"/>
<path d="M422.2 412.9L422.2 412.8L419.2 411.2L419.2 411.3Z" stroke="#4127b7"/>
<path d="M422.2 412.9L422.2 412.9L419.2 411.3L419.2 411.3Z" stroke="#4127b7"/>
<path d="M422.1 413.0L422.2 412.9L419.2 411.3L419.1 411.4Z" stroke="#4127b7"/>
<path d="M422.1 413.0L422.1 413.0L419.1 411.4L419.1 411.4Z" stroke="#4127b6"/>
<path d="M422.0 413.1L422.1 413.0L419.1 411.4L419.0 411.5Z" stroke="#4126b6"/>
<path d="M422.0 413.1L422.0 413.1L419.0 411.5L419.0 411.5Z" stroke="#4126b6"/>
<path d="M422.0 413.1L422.0 413.1L419.0 411.5L419.0 411.6Z" stroke="#4126b6"/>
<path d="M421.9 413.2L422.0 413.1L419.0 411.6L418.9 411.6Z" stroke="#4026b5"/>
<path d="M421.9 413.2L421.9 413.2L418.9 411.6L418.9 411.6Z" stroke="#4026b5"/>
<path d="M421.8 413.2L421.9 413.2L418.9 411.6L418.9 411.7Z" stroke="#4026b5"/>
<path d="M426.5 402.2L426.5 414.5L423.6 413.0L423.5 413.1Z" stroke="#4433cc"/>
<path d="M426.5 397.3L426.5 402.2L423.5 413.1L423.5 395.6Z" stroke="#4659f7"/>
<path d="M426.4 389.3L426.5 397.3L423.5 395.6L423.4 388.1Z" stroke="#3081f7"/>
<path d="M426.4 377.0L426.4 389.3L423.4 388.1L423.4 376.2Z" stroke="#1ba8df"/>
<path d="M426.3 361.5L426.4 377.0L423.4 376.2L423.4 358.8Z" stroke="#1bc1b5"/>
<path d="M426.3 353.0L426.3 361.5L423.4 358.8L423.3 342.1Z" stroke="#6ccd74"/>
<path d="M426.3 361.5L426.3 353.0L423.3 342.1L423.3 342.1Z" stroke="#8bcb60"/>
<path d="M426.2 377.1L426.3 361.5L423.3 342.1L423.2 358.8Z" stroke="#47ca91"/>
<path d="M426.2 389.4L426.2 377.1L423.2 358.8L423.2 376.2Z" stroke="#0ab7cb"/>
<path d="M426.2 397.3L426.2 389.4L423.2 376.2L423.2 388.2Z" stroke="#2597ea"/>
<path d="M426.1 402.3L426.2 397.3L423.2 388.2L423.1 395.8Z" stroke="#3973fb"/>
<path d="M426.1 405.6L426.1 402.3L423.1 395.8L423.1 400.5Z" stroke="#455ef8"/>
<path d="M426.0 407.7L426.1 405.6L423.1 400.5L423.1 403.7Z" stroke="#4850f2"/>
<path d="M426.0 409.2L426.0 407.7L423.1 403.7L423.0 405.8Z" stroke="#4746e7"/>
<path d="M426.0 410.3L426.0 409.2L423.0 405.8L423.0 407.3Z" stroke="#463fe0"/>
<path d="M425.9 411.1L426.0 410.3L423.0 407.3L422.9 408.4Z" stroke="#463ad9"/>
<path d="M425.9 411.7L425.9 411.1L422.9 408.4L422.9 409.3Z" stroke="#4536d2"/>
<path d="M425.8 412.2L425.9 411.7L422.9 409.3L422.9 409.9Z" stroke="#4433cd"/>
<path d="M425.8 412.6L425.8 412.2L422.9 409.9L422.8 410.4Z" stroke="#4331c9"/>
<path d="M425.8 412.9L425.8 412.6L422.8 410.4L422.8 410.8Z" stroke="#432fc6"/>
<path d="M425.7 413.1L425.8 412.9L422.8 410.8L422.7 411.1Z" stroke="#422ec3"/>
<path d="M425.7 413.3L425.7 413.1L422.7 411.1L422.7 411.4Z" stroke="#422dc1"/>
<path d="M425.6 413.5L425.7 413.3L422.7 411.4L422.7 411.6Z" stroke="#422cbf"/>
<path d="M425.6 413.6L425.6 413.5L422.7 411.6L422.6 411.8Z" stroke="#422bbe"/>
<path d="M425.6 413.8L425.6 413.6L422.6 411.8L422.6 412.0Z" stroke="#412abc"/>
<path d="M425.5 413.9L425.6 413.8L422.6 412.0L422.5 412.1Z" stroke="#4129bb"/>
<path d="M425.5 414.0L425.5 413.9L422.5 412.1L422.5 412.3Z" stroke="#4129bb"/>
<path d="M425.5 414.1L425.5 414.0L422.5 412.3L422.5 412.4Z" stroke="#4128ba"/>
<path d="M425.4 414.1L425.5 414.1L422.5 412.4L422.4 412.5Z" stroke="#4128b9"/>
<path d="M425.4 414.2L425.4 414.1L422.4 412.5L422.4 412.6Z" stroke="#4128b8"/>
<path d="M425.3 414.3L425.4 414.2L422.4 412.6L422.3 412.6Z" stroke="#4127b8"/>
<path d="M425.3 414.3L425.3 414.3L422.3 412.6L422.3 412.7Z" stroke="#4127b8"/>
<path d="M425.3 414.4L425.3 414.3L422.3 412.7L422.3 412.8Z" stroke="#4127b7"/>
<path d="M425.2 414.4L425.3 414.4L422.3 412.8L422.2 412.8Z" stroke="#4127b7"/>
<path d="M425.2 414.5L425.2 414.4L422.2 412.8L422.2 412.9Z" stroke="#4127b6"/>
<path d="M425.1 414.5L425.2 414.5L422.2 412.9L422.2 412.9Z" stroke="#4126b6"/>
<path d="M425.1 414.6L425.1 414.5L422.2 412.9L422.1 413.0Z" stroke="#4126b6"/>
<path d="M425.1 414.6L425.1 414.6L422.1 413.0L422.1 413.0Z" stroke="#4126b6"/>
<path d="M425.0 414.6L425.1 414.6L422.1 413.0L422.0 413.1Z" stroke="#4026b5"/>
<path d="M425.0 414.7L425.0 414.6L422.0 413.1L422.0 413.1Z" stroke="#4026b5"/>
<path d="M424.9 414.7L425.0 414.7L422.0 413.1L422.0 413.1Z" stroke="#4026b5"/>
<path d="M429.5 404.0L429.5 416.0L426.5 414.5L426.5 402.2Z" stroke="#4641e1"/>
<path d="M429.5 398.9L429.5 404.0L426.5 402.2L426.5 397.3Z" stroke="#4265fb"/>
<path d="M429.4 390.6L429.5 398.9L426.5 397.3L426.4 389.3Z" stroke="#2f81f7"/>
<path d="M429.4 378.7L429.4 390.6L426.4 389.3L426.4 377.0Z" stroke="#1aa9de"/>
<path d="M429.3 367.2L429.4 378.7L426.4 377.0L426.3 361.5Z" stroke="#16bfb9"/>
<path d="M429.3 367.2L429.3 367.2L426.3 361.5L426.3 353.0Z" stroke="#42c995"/>
<path d="M429.3 378.7L429.3 367.2L426.3 353.0L426.3 361.5Z" stroke="#32c7a1"/>
<path d="M429.2 390.7L429.3 378.7L426.3 361.5L426.2 377.1Z" stroke="#0ab7cc"/>
<path d="M429.2 398.9L429.2 390.7L426.2 377.1L426.2 389.4Z" stroke="#2598e9"/>
<path d="M429.1 404.1L429.2 398.9L426.2 389.4L426.2 397.3Z" stroke="#3973fb"/>
<path d="M429.1 407.4L429.1 404.1L426.2 397.3L426.1 402.3Z" stroke="#455cf8"/>
<path d="M429.1 409.6L429.1 407.4L426.1 402.3L426.1 405.6Z" stroke="#484ef0"/>
<path d="M429.0 411.1L429.1 409.6L426.1 405.6L426.0 407.7Z" stroke="#4744e5"/>
<path d="M429.0 412.1L429.0 411.1L426.0 407.7L426.0 409.2Z" stroke="#463ede"/>
<path d="M428.9 412.9L429.0 412.1L426.0 409.2L426.0 410.3Z" stroke="#4539d6"/>
<path d="M428.9 413.5L428.9 412.9L426.0 410.3L425.9 411.1Z" stroke="#4435cf"/>
<path d="M428.9 413.9L428.9 413.5L425.9 411.1L425.9 411.7Z" stroke="#4332ca"/>
<path d="M428.8 414.3L428.9 413.9L425.9 411.7L425.8 412.2Z" stroke="#4330c7"/>
<path d="M428.8 414.6L428.8 414.3L425.8 412.2L425.8 412.6Z" stroke="#432ec4"/>
<path d="M428.8 414.8L428.8 414.6L425.8 412.6L425.8 412.9Z" stroke="#422dc1"/>
<path d="M428.7 415.0L428.8 414.8L425.8 412.9L425.7 413.1Z" stroke="#422cbf"/>
<path d="M428.7 415.1L428.7 415.0L425.7 413.1L425.7 413.3Z" stroke="#422bbe"/>
<path d="M428.6 415.3L428.7 415.1L425.7 413.3L425.6 413.5Z" stroke="#412abc"/>
<path d="M428.6 415.4L428.6 415.3L425.6 413.5L425.6 413.6Z" stroke="#4129bb"/>
<path d="M428.6 415.5L428.6 415.4L425.6 413.6L425.6 413.8Z" stroke="#4129ba"/>
<path d="M428.5 415.6L428.6 415.5L425.6 413.8L425.5 413.9Z" stroke="#4128b9"/>
<path d="M428.5 415.7L428.5 415.6L425.5 413.9L425.5 414.0Z" stroke="#4128b9"/>
<path d="M428.4 415.7L428.5 415.7L425.5 414.0L425.5 414.1Z" stroke="#4128b8"/>
<path d="M428.4 415.8L428.4 415.7L425.5 414.1L425.4 414.1Z" stroke="#4127b8"/>
<path d="M428.4 415.8L428.4 415.8L425.4 414.1L425.4 414.2Z" stroke="#4127b7"/>
<path d="M428.3 415.9L428.4 415.8L425.4 414.2L425.3 414.3Z" stroke="#4127b7"/>
<path d="M428.3 415.9L428.3 415.9L425.3 414.3L425.3 414.3Z" stroke="#4127b6"/>
<path d="M428.2 416.0L428.3 415.9L425.3 414.3L425.3 414.4Z" stroke="#4126b6"/>
<path d="M428.2 416.0L428.2 416.0L425.3 414.4L425.2 414.4Z" stroke="#4126b6"/>
<path d="M428.2 416.1L428.2 416.0L425.2 414.4L425.2 414.5Z" stroke="#4126b6"/>
<path d="M428.1 416.1L428.2 416.1L425.2 414.5L425.1 414.5Z" stroke="#4026b5"/>
<path d="M428.1 416.1L428.1 416.1L425.1 414.5L425.1 414.6Z" stroke="#4026b5"/>
<path d="M432.5 409.1L432.6 417.5L429.6 416.0L429.5 416.0Z" stroke="#432ec4"/>
<path d="M432.5 405.7L432.5 409.1L429.5 416.0L429.5 404.0Z" stroke="#4749ea"/>
<path d="M432.4 400.3L432.5 405.7L429.5 404.0L429.5 398.9Z" stroke="#4365fb"/>
<path d="M432.4 391.9L432.4 400.3L429.5 398.9L429.4 390.6Z" stroke="#2f82f7"/>
<path d="M432.4 381.3L432.4 391.9L429.4 390.6L429.4 378.7Z" stroke="#1ba8df"/>
<path d="M432.3 375.5L432.4 381.3L429.4 378.7L429.3 367.2Z" stroke="#0abbc3"/>
<path d="M432.3 381.3L432.3 375.5L429.3 367.2L429.3 367.2Z" stroke="#15bfba"/>
<path d="M432.2 392.0L432.3 381.3L429.3 367.2L429.3 378.7Z" stroke="#0cb4d0"/>
<path d="M432.2 400.4L432.2 392.0L429.3 378.7L429.2 390.7Z" stroke="#2598e9"/>
<path d="M432.2 405.8L432.2 400.4L429.2 390.7L429.2 398.9Z" stroke="#3973fb"/>
<path d="M432.1 409.2L432.2 405.8L429.2 398.9L429.1 404.1Z" stroke="#455cf8"/>
<path d="M432.1 411.4L432.1 409.2L429.1 404.1L429.1 407.4Z" stroke="#484dee"/>
<path d="M432.0 412.9L432.1 411.4L429.1 407.4L429.1 409.6Z" stroke="#4743e3"/>
<path d="M432.0 413.9L432.0 412.9L429.1 409.6L429.0 411.1Z" stroke="#463cdc"/>
<path d="M432.0 414.7L432.0 413.9L429.0 411.1L429.0 412.1Z" stroke="#4537d3"/>
<path d="M431.9 415.2L432.0 414.7L429.0 412.1L428.9 412.9Z" stroke="#4433cd"/>
<path d="M431.9 415.6L431.9 415.2L428.9 412.9L428.9 413.5Z" stroke="#4331c8"/>
<path d="M431.9 416.0L431.9 415.6L428.9 413.5L428.9 413.9Z" stroke="#432fc4"/>
<path d="M431.8 416.2L431.9 416.0L428.9 413.9L428.8 414.3Z" stroke="#422dc2"/>
<path d="M431.8 416.4L431.8 416.2L428.8 414.3L428.8 414.6Z" stroke="#422cbf"/>
<path d="M431.7 416.6L431.8 416.4L428.8 414.6L428.8 414.8Z" stroke="#422bbe"/>
<path d="M431.7 416.7L431.7 416.6L428.8 414.8L428.7 415.0Z" stroke="#412abc"/>
<path d="M431.7 416.9L431.7 416.7L428.7 415.0L428.7 415.1Z" stroke="#4129bb"/>
<path d="M431.6 417.0L431.7 416.9L428.7 415.1L428.6 415.3Z" stroke="#4129ba"/>
<path d="M431.6 417.1L431.6 417.0L428.6 415.3L428.6 415.4Z" stroke="#4128b9"/>
<path d="M431.5 417.2L431.6 417.1L428.6 415.4L428.6 415.5Z" stroke="#4128b8"/>
<path d="M431.5 417.2L431.5 417.2L428.6 415.5L428.5 415.6Z" stroke="#4127b8"/>
<path d="M431.5 417.3L431.5 417.2L428.5 415.6L428.5 415.7Z" stroke="#4127b7"/>
<path d="M431.4 417.3L431.5 417.3L428.5 415.7L428.4 415.7Z" stroke="#4127b7"/>
<path d="M431.4 417.4L431.4 417.3L428.4 415.7L428.4 415.8Z" stroke="#4127b6"/>
<path d="M431.3 417.4L431.4 417.4L428.4 415.8L428.4 415.8Z" stroke="#4126b6"/>
<path d="M431.3 417.5L431.3 417.4L428.4 415.8L428.3 415.9Z" stroke="#4126b6"/>
<path d="M431.3 417.5L431.3 417.5L428.3 415.9L428.3 415.9Z" stroke="#4026b5"/>
<path d="M431.2 417.6L431.3 417.5L428.3 415.9L428.2 416.0Z" stroke="#4026b5"/>
<path d="M431.2 417.6L431.2 417.6L428.2 416.0L428.2 416.0Z" stroke="#4026b5"/>
<path d="M435.5 410.7L435.5 419.0L432.6 417.5L432.5 409.1Z" stroke="#4538d5"/>
<path d="M435.5 407.2L435.5 410.7L432.5 409.1L432.5 405.7Z" stroke="#4852f4"/>
<path d="M435.4 401.5L435.5 407.2L432.5 405.7L432.4 400.3Z" stroke="#4365fb"/>
<path d="M435.4 393.3L435.4 401.5L432.4 400.3L432.4 391.9Z" stroke="#2f83f6"/>
<path d="M435.3 385.4L435.4 393.3L432.4 391.9L432.4 381.3Z" stroke="#1ea6e1"/>
<path d="M435.3 385.4L435.3 385.4L432.4 381.3L432.3 375.5Z" stroke="#0db3d2"/>
<path d="M435.3 393.3L435.3 385.4L432.3 375.5L432.3 381.3Z" stroke="#11afd7"/>
<path d="M435.2 401.6L435.3 393.3L432.3 381.3L432.2 392.0Z" stroke="#2598ea"/>
<path d="M435.2 407.3L435.2 401.6L432.2 392.0L432.2 400.4Z" stroke="#3973fb"/>
<path d="M435.2 410.8L435.2 407.3L432.2 400.4L432.2 405.8Z" stroke="#455bf8"/>
<path d="M435.1 413.1L435.2 410.8L432.2 405.8L432.1 409.2Z" stroke="#474ced"/>
<path d="M435.1 414.6L435.1 413.1L432.1 409.2L432.1 411.4Z" stroke="#4641e2"/>
<path d="M435.0 415.6L435.1 414.6L432.1 411.4L432.0 412.9Z" stroke="#463bda"/>
<path d="M435.0 416.4L435.0 415.6L432.0 412.9L432.0 413.9Z" stroke="#4436d1"/>
<path d="M435.0 416.9L435.0 416.4L432.0 413.9L432.0 414.7Z" stroke="#4432cb"/>
<path d="M434.9 417.3L435.0 416.9L432.0 414.7L431.9 415.2Z" stroke="#432fc6"/>
<path d="M434.9 417.6L434.9 417.3L431.9 415.2L431.9 415.6Z" stroke="#422ec3"/>
<path d="M434.8 417.8L434.9 417.6L431.9 415.6L431.9 416.0Z" stroke="#422cc0"/>
<path d="M434.8 418.0L434.8 417.8L431.9 416.0L431.8 416.2Z" stroke="#422bbe"/>
<path d="M434.8 418.2L434.8 418.0L431.8 416.2L431.8 416.4Z" stroke="#412abc"/>
<path d="M434.7 418.3L434.8 418.2L431.8 416.4L431.7 416.6Z" stroke="#4129bb"/>
<path d="M434.7 418.5L434.7 418.3L431.7 416.6L431.7 416.7Z" stroke="#4129ba"/>
<path d="M434.6 418.6L434.7 418.5L431.7 416.7L431.7 416.9Z" stroke="#4128b9"/>
<path d="M434.6 418.6L434.6 418.6L431.7 416.9L431.6 417.0Z" stroke="#4128b8"/>
<path d="M434.6 418.7L434.6 418.6L431.6 417.0L431.6 417.1Z" stroke="#4127b8"/>
<path d="M434.5 418.8L434.6 418.7L431.6 417.1L431.5 417.2Z" stroke="#4127b7"/>
<path d="M434.5 418.8L434.5 418.8L431.5 417.2L431.5 417.2Z" stroke="#4127b7"/>
<path d="M434.5 418.9L434.5 418.8L431.5 417.2L431.5 417.3Z" stroke="#4126b6"/>
<path d="M434.4 418.9L434.5 418.9L431.5 417.3L431.4 417.3Z" stroke="#4126b6"/>
<path d="M434.4 419.0L434.4 418.9L431.4 417.3L431.4 417.4Z" stroke="#4126b6"/>
<path d="M434.3 419.0L434.4 419.0L431.4 417.4L431.3 417.4Z" stroke="#4026b5"/>
<path d="M434.3 419.0L434.3 419.0L431.3 417.4L431.3 417.5Z" stroke="#4026b5"/>
<path d="M438.5 414.6L438.6 420.5L435.6 419.0L435.5 419.0Z" stroke="#422bbe"/>
<path d="M438.5 412.2L438.5 414.6L435.5 419.0L435.5 410.7Z" stroke="#463edf"/>
<path d="M438.5 408.4L438.5 412.2L435.5 410.7L435.5 407.2Z" stroke="#4852f4"/>
<path d="M438.4 402.6L438.5 408.4L435.5 407.2L435.4 401.5Z" stroke="#4266fc"/>
<path d="M438.4 395.1L438.4 402.6L435.4 401.5L435.4 393.3Z" stroke="#2f83f6"/>
<path d="M438.3 391.1L438.4 395.1L435.4 393.3L435.3 385.4Z" stroke="#21a0e5"/>
<path d="M438.3 395.2L438.3 391.1L435.3 385.4L435.3 385.4Z" stroke="#1da7e0"/>
<path d="M438.3 402.6L438.3 395.2L435.3 385.4L435.3 393.3Z" stroke="#2696eb"/>
<path d="M438.2 408.5L438.3 402.6L435.3 393.3L435.2 401.6Z" stroke="#3874fb"/>
<path d="M438.2 412.3L438.2 408.5L435.2 401.6L435.2 407.3Z" stroke="#455cf8"/>
<path d="M438.1 414.7L438.2 412.3L435.2 407.3L435.2 410.8Z" stroke="#474bed"/>
<path d="M438.1 416.2L438.1 414.7L435.2 410.8L435.1 413.1Z" stroke="#4641e1"/>
<path d="M438.1 417.3L438.1 416.2L435.1 413.1L435.1 414.6Z" stroke="#453ad8"/>
<path d="M438.0 418.0L438.1 417.3L435.1 414.6L435.0 415.6Z" stroke="#4435cf"/>
<path d="M438.0 418.5L438.0 418.0L435.0 415.6L435.0 416.4Z" stroke="#4331c9"/>
<path d="M437.9 418.9L438.0 418.5L435.0 416.4L435.0 416.9Z" stroke="#432fc5"/>
<path d="M437.9 419.2L437.9 418.9L435.0 416.9L434.9 417.3Z" stroke="#422dc1"/>
<path d="M437.9 419.4L437.9 419.2L434.9 417.3L434.9 417.6Z" stroke="#422bbf"/>
<path d="M437.8 419.6L437.9 419.4L434.9 417.6L434.8 417.8Z" stroke="#422abd"/>
<path d="M437.8 419.8L437.8 419.6L434.8 417.8L434.8 418.0Z" stroke="#4129bb"/>
<path d="M437.7 419.9L437.8 419.8L434.8 418.0L434.8 418.2Z" stroke="#4129ba"/>
<path d="M437.7 420.0L437.7 419.9L434.8 418.2L434.7 418.3Z" stroke="#4128b9"/>
<path d="M437.7 420.1L437.7 420.0L434.7 418.3L434.7 418.5Z" stroke="#4128b8"/>
<path d="M437.6 420.2L437.7 420.1L434.7 418.5L434.6 418.6Z" stroke="#4127b8"/>
<path d="M437.6 420.3L437.6 420.2L434.6 418.6L434.6 418.6Z" stroke="#4127b7"/>
<path d="M437.6 420.3L437.6 420.3L434.6 418.6L434.6 418.7Z" stroke="#4127b6"/>
<path d="M437.5 420.4L437.6 420.3L434.6 418.7L434.5 418.8Z" stroke="#4126b6"/>
<path d="M437.5 420.4L437.5 420.4L434.5 418.8L434.5 418.8Z" stroke="#4126b6"/>
<path d="M437.4 420.5L437.5 420.4L434.5 418.8L434.5 418.9Z" stroke="#4026b5"/>
<path d="M437.4 420.5L437.4 420.5L434.5 418.9L434.4 418.9Z" stroke="#4026b5"/>
<path d="M441.5 416.1L441.6 422.0L438.6 420.5L438.5 414.6Z" stroke="#4432cb"/>
<path d="M441.5 413.5L441.5 416.1L438.5 414.6L438.5 412.2Z" stroke="#4745e6"/>
<path d="M441.4 409.5L441.5 413.5L438.5 412.2L438.5 408.4Z" stroke="#4853f4"/>
<path d="M441.4 403.6L441.4 409.5L438.5 408.4L438.4 402.6Z" stroke="#4268fc"/>
<path d="M441.4 397.9L441.4 403.6L438.4 402.6L438.4 395.1Z" stroke="#2f82f6"/>
<path d="M441.3 397.9L441.4 397.9L438.4 395.1L438.3 391.1Z" stroke="#2696eb"/>
<path d="M441.3 403.6L441.3 397.9L438.3 391.1L438.3 395.2Z" stroke="#2990ee"/>
<path d="M441.2 409.5L441.3 403.6L438.3 395.2L438.3 402.6Z" stroke="#3775fb"/>
<path d="M441.2 413.6L441.2 409.5L438.3 402.6L438.2 408.5Z" stroke="#455df8"/>
<path d="M441.2 416.2L441.2 413.6L438.2 408.5L438.2 412.3Z" stroke="#474ced"/>
<path d="M441.1 417.8L441.2 416.2L438.2 412.3L438.1 414.7Z" stroke="#4641e1"/>
<path d="M441.1 418.9L441.1 417.8L438.1 414.7L438.1 416.2Z" stroke="#4539d7"/>
<path d="M441.0 419.6L441.1 418.9L438.1 416.2L438.1 417.3Z" stroke="#4434ce"/>
<path d="M441.0 420.1L441.0 419.6L438.1 417.3L438.0 418.0Z" stroke="#4330c8"/>
<path d="M441.0 420.5L441.0 420.1L438.0 418.0L438.0 418.5Z" stroke="#422ec3"/>
<path d="M440.9 420.8L441.0 420.5L438.0 418.5L437.9 418.9Z" stroke="#422cc0"/>
<path d="M440.9 421.0L440.9 420.8L437.9 418.9L437.9 419.2Z" stroke="#422bbe"/>
<path d="M440.9 421.2L440.9 421.0L437.9 419.2L437.9 419.4Z" stroke="#412abc"/>
<path d="M440.8 421.3L440.9 421.2L437.9 419.4L437.8 419.6Z" stroke="#4129ba"/>
<path d="M440.8 421.5L440.8 421.3L437.8 419.6L437.8 419.8Z" stroke="#4128b9"/>
<path d="M440.7 421.6L440.8 421.5L437.8 419.8L437.7 419.9Z" stroke="#4128b8"/>
<path d="M440.7 421.6L440.7 421.6L437.7 419.9L437.7 420.0Z" stroke="#4127b8"/>
<path d="M440.7 421.7L440.7 421.6L437.7 420.0L437.7 420.1Z" stroke="#4127b7"/>
<path d="M440.6 421.8L440.7 421.7L437.7 420.1L437.6 420.2Z" stroke="#4127b6"/>
<path d="M440.6 421.8L440.6 421.8L437.6 420.2L437.6 420.3Z" stroke="#4126b6"/>
<path d="M440.5 421.9L440.6 421.8L437.6 420.3L437.6 420.3Z" stroke="#4126b6"/>
<path d="M440.5 421.9L440.5 421.9L437.6 420.3L437.5 420.4Z" stroke="#4026b5"/>
<path d="M440.5 422.0L440.5 421.9L437.5 420.4L437.5 420.4Z" stroke="#4026b5"/>
<path d="M444.5 419.1L444.6 423.4L441.6 421.9L441.6 422.0Z" stroke="#4129bb"/>
<path d="M444.5 417.4L444.5 419.1L441.6 422.0L441.5 416.1Z" stroke="#4537d4"/>
<path d="M444.5 414.6L444.5 417.4L441.5 416.1L441.5 413.5Z" stroke="#4746e7"/>
<path d="M444.4 410.3L444.5 414.6L441.5 413.5L441.4 409.5Z" stroke="#4755f5"/>
<path d="M444.4 404.9L444.4 410.3L441.4 409.5L441.4 403.6Z" stroke="#4069fc"/>
<path d="M444.3 402.0L444.4 404.9L441.4 403.6L441.4 397.9Z" stroke="#317ef9"/>
<path d="M444.3 404.9L444.3 402.0L441.4 397.9L441.3 397.9Z" stroke="#2e85f5"/>
<path d="M444.3 410.4L444.3 404.9L441.3 397.9L441.3 403.6Z" stroke="#3775fb"/>
<path d="M444.2 414.7L444.3 410.4L441.3 403.6L441.2 409.5Z" stroke="#445ff9"/>
<path d="M444.2 417.5L444.2 414.7L441.2 409.5L441.2 413.6Z" stroke="#484def"/>
<path d="M444.2 419.3L444.2 417.5L441.2 413.6L441.2 416.2Z" stroke="#4641e1"/>
<path d="M444.1 420.4L444.2 419.3L441.2 416.2L441.1 417.8Z" stroke="#4539d7"/>
<path d="M444.1 421.1L444.1 420.4L441.1 417.8L441.1 418.9Z" stroke="#4434cd"/>
<path d="M444.0 421.7L444.1 421.1L441.1 418.9L441.0 419.6Z" stroke="#4330c7"/>
<path d="M444.0 422.1L444.0 421.7L441.0 419.6L441.0 420.1Z" stroke="#422dc3"/>
<path d="M444.0 422.4L444.0 422.1L441.0 420.1L441.0 420.5Z" stroke="#422cbf"/>
<path d="M443.9 422.6L444.0 422.4L441.0 420.5L440.9 420.8Z" stroke="#422abd"/>
<path d="M443.9 422.7L443.9 422.6L440.9 420.8L440.9 421.0Z" stroke="#4129bb"/>
<path d="M443.8 422.9L443.9 422.7L440.9 421.0L440.9 421.2Z" stroke="#4128ba"/>
<path d="M443.8 423.0L443.8 422.9L440.9 421.2L440.8 421.3Z" stroke="#4128b9"/>
<path d="M443.8 423.1L443.8 423.0L440.8 421.3L440.8 421.5Z" stroke="#4127b8"/>
<path d="M443.7 423.2L443.8 423.1L440.8 421.5L440.7 421.6Z" stroke="#4127b7"/>
<path d="M443.7 423.2L443.7 423.2L440.7 421.6L440.7 421.6Z" stroke="#4127b7"/>
<path d="M443.6 423.3L443.7 423.2L440.7 421.6L440.7 421.7Z" stroke="#4126b6"/>
<path d="M443.6 423.4L443.6 423.3L440.7 421.7L440.6 421.8Z" stroke="#4126b6"/>
<path d="M443.6 423.4L443.6 423.4L440.6 421.8L440.6 421.8Z" stroke="#4026b5"/>
<path d="M443.5 423.4L443.6 423.4L440.6 421.8L440.5 421.9Z" stroke="#4026b5"/>
<path d="M447.5 420.5L447.6 424.9L444.6 423.4L444.5 419.1Z" stroke="#432ec4"/>
<path d="M447.5 418.6L447.5 420.5L444.5 419.1L444.5 417.4Z" stroke="#463ddd"/>
<path d="M447.5 415.6L447.5 418.6L444.5 417.4L444.5 414.6Z" stroke="#4747e8"/>
<path d="M447.4 411.2L447.5 415.6L444.5 414.6L444.4 410.3Z" stroke="#4757f6"/>
<path d="M447.4 407.0L447.4 411.2L444.4 410.3L444.4 404.9Z" stroke="#406afc"/>
<path d="M447.3 407.0L447.4 407.0L444.4 404.9L444.3 402.0Z" stroke="#3577fa"/>
<path d="M447.3 411.2L447.3 407.0L444.3 402.0L444.3 404.9Z" stroke="#3973fb"/>
<path d="M447.3 415.6L447.3 411.2L444.3 404.9L444.3 410.4Z" stroke="#4461fa"/>
<path d="M447.2 418.7L447.3 415.6L444.3 410.4L444.2 414.7Z" stroke="#484ff1"/>
<path d="M447.2 420.6L447.2 418.7L444.2 414.7L444.2 417.5Z" stroke="#4742e3"/>
<path d="M447.1 421.8L447.2 420.6L444.2 417.5L444.2 419.3Z" stroke="#4539d8"/>
<path d="M447.1 422.6L447.1 421.8L444.2 419.3L444.1 420.4Z" stroke="#4434cd"/>
<path d="M447.1 423.2L447.1 422.6L444.1 420.4L444.1 421.1Z" stroke="#4330c7"/>
<path d="M447.0 423.6L447.1 423.2L444.1 421.1L444.0 421.7Z" stroke="#422dc2"/>
<path d="M447.0 423.9L447.0 423.6L444.0 421.7L444.0 422.1Z" stroke="#422bbf"/>
<path d="M446.9 424.1L447.0 423.9L444.0 422.1L444.0 422.4Z" stroke="#412abc"/>
<path d="M446.9 424.3L446.9 424.1L444.0 422.4L443.9 422.6Z" stroke="#4129bb"/>
<path d="M446.9 424.4L446.9 424.3L443.9 422.6L443.9 422.7Z" stroke="#4128b9"/>
<path d="M446.8 424.5L446.9 424.4L443.9 422.7L443.8 422.9Z" stroke="#4128b8"/>
<path d="M446.8 424.6L446.8 424.5L443.8 422.9L443.8 423.0Z" stroke="#4127b7"/>
<path d="M446.7 424.7L446.8 424.6L443.8 423.0L443.8 423.1Z" stroke="#4127b7"/>
<path d="M446.7 424.8L446.7 424.7L443.8 423.1L443.7 423.2Z" stroke="#4126b6"/>
<path d="M446.7 424.8L446.7 424.8L443.7 423.2L443.7 423.2Z" stroke="#4126b6"/>
<path d="M446.6 424.9L446.7 424.8L443.7 423.2L443.6 423.3Z" stroke="#4026b5"/>
<path d="M446.6 424.9L446.6 424.9L443.6 423.3L443.6 423.4Z" stroke="#4026b5"/>
<path d="M450.6 423.1L450.6 426.4L447.6 424.9L447.6 424.9Z" stroke="#4128b9"/>
<path d="M450.5 421.8L450.6 423.1L447.6 424.9L447.5 420.5Z" stroke="#4433cc"/>
<path d="M450.5 419.7L450.5 421.8L447.5 420.5L447.5 418.6Z" stroke="#463ede"/>
<path d="M450.4 416.4L450.5 419.7L447.5 418.6L447.5 415.6Z" stroke="#4749eb"/>
<path d="M450.4 412.3L450.4 416.4L447.5 415.6L447.4 411.2Z" stroke="#4659f7"/>
<path d="M450.4 410.0L450.4 412.3L447.4 411.2L447.4 407.0Z" stroke="#4069fc"/>
<path d="M450.3 412.3L450.4 410.0L447.4 407.0L447.3 407.0Z" stroke="#3d6efb"/>
<path d="M450.3 416.5L450.3 412.3L447.3 407.0L447.3 411.2Z" stroke="#4362fa"/>
<path d="M450.2 419.8L450.3 416.5L447.3 411.2L447.3 415.6Z" stroke="#4852f4"/>
<path d="M450.2 421.9L450.2 419.8L447.3 415.6L447.2 418.7Z" stroke="#4744e4"/>
<path d="M450.2 423.2L450.2 421.9L447.2 418.7L447.2 420.6Z" stroke="#463ad9"/>
<path d="M450.1 424.1L450.2 423.2L447.2 420.6L447.1 421.8Z" stroke="#4434ce"/>
<path d="M450.1 424.7L450.1 424.1L447.1 421.8L447.1 422.6Z" stroke="#4330c7"/>
<path d="M450.0 425.1L450.1 424.7L447.1 422.6L447.1 423.2Z" stroke="#422dc2"/>
<path d="M450.0 425.4L450.0 425.1L447.1 423.2L447.0 423.6Z" stroke="#422bbf"/>
<path d="M450.0 425.6L450.0 425.4L447.0 423.6L447.0 423.9Z" stroke="#412abc"/>
<path d="M449.9 425.8L450.0 425.6L447.0 423.9L446.9 424.1Z" stroke="#4129ba"/>
<path d="M449.9 425.9L449.9 425.8L446.9 424.1L446.9 424.3Z" stroke="#4128b9"/>
<path d="M449.9 426.0L449.9 425.9L446.9 424.3L446.9 424.4Z" stroke="#4127b8"/>
<path d="M449.8 426.1L449.9 426.0L446.9 424.4L446.8 424.5Z" stroke="#4127b7"/>
<path d="M449.8 426.2L449.8 426.1L446.8 424.5L446.8 424.6Z" stroke="#4127b6"/>
<path d="M449.7 426.3L449.8 426.2L446.8 424.6L446.7 424.7Z" stroke="#4126b6"/>
<path d="M449.7 426.3L449.7 426.3L446.7 424.7L446.7 424.8Z" stroke="#4026b5"/>
<path d="M449.7 426.4L449.7 426.3L446.7 424.8L446.7 424.8Z" stroke="#4026b5"/>
<path d="M453.5 424.5L453.6 427.9L450.6 426.4L450.6 423.1Z" stroke="#422cc0"/>
<path d="M453.5 423.0L453.5 424.5L450.6 423.1L450.5 421.8Z" stroke="#4537d4"/>
<path d="M453.5 420.6L453.5 423.0L450.5 421.8L450.5 419.7Z" stroke="#4640e0"/>
<path d="M453.4 417.2L453.5 420.6L450.5 419.7L450.4 416.4Z" stroke="#474ced"/>
<path d="M453.4 413.9L453.4 417.2L450.4 416.4L450.4 412.3Z" stroke="#455bf7"/>
<path d="M453.3 413.9L453.4 413.9L450.4 412.3L450.4 410.0Z" stroke="#4365fb"/>
<path d="M453.3 417.2L453.3 413.9L450.4 410.0L450.3 412.3Z" stroke="#4362fa"/>
<path d="M453.3 420.7L453.3 417.2L450.3 412.3L450.3 416.5Z" stroke="#4754f5"/>
<path d="M453.2 423.1L453.3 420.7L450.3 416.5L450.2 419.8Z" stroke="#4746e7"/>
<path d="M453.2 424.6L453.2 423.1L450.2 419.8L450.2 421.9Z" stroke="#463cdb"/>
<path d="M453.2 425.5L453.2 424.6L450.2 421.9L450.2 423.2Z" stroke="#4435cf"/>
<path d="M453.1 426.1L453.2 425.5L450.2 423.2L450.1 424.1Z" stroke="#4330c7"/>
<path d="M453.1 426.6L453.1 426.1L450.1 424.1L450.1 424.7Z" stroke="#422dc2"/>
<path d="M453.0 426.9L453.1 426.6L450.1 424.7L450.0 425.1Z" stroke="#422bbe"/>
<path d="M453.0 427.1L453.0 426.9L450.0 425.1L450.0 425.4Z" stroke="#412abc"/>
<path d="M453.0 427.3L453.0 427.1L450.0 425.4L450.0 425.6Z" stroke="#4129ba"/>
<path d="M452.9 427.4L453.0 427.3L450.0 425.6L449.9 425.8Z" stroke="#4128b9"/>
<path d="M452.9 427.5L452.9 427.4L449.9 425.8L449.9 425.9Z" stroke="#4127b8"/>
<path d="M452.8 427.6L452.9 427.5L449.9 425.9L449.9 426.0Z" stroke="#4127b7"/>
<path d="M452.8 427.7L452.8 427.6L449.9 426.0L449.8 426.1Z" stroke="#4126b6"/>
<path d="M452.8 427.8L452.8 427.7L449.8 426.1L449.8 426.2Z" stroke="#4126b6"/>
<path d="M452.7 427.8L452.8 427.8L449.8 426.2L449.7 426.3Z" stroke="#4026b5"/>
<path d="M456.5 425.7L456.6 426.8L453.6 427.9L453.5 424.5Z" stroke="#4330c6"/>
<path d="M456.5 424.1L456.5 425.7L453.5 424.5L453.5 423.0Z" stroke="#4539d6"/>
<path d="M456.5 421.5L456.5 424.1L453.5 423.0L453.5 420.6Z" stroke="#4742e2"/>
<path d="M456.4 418.2L456.5 421.5L453.5 420.6L453.4 417.2Z" stroke="#484ff0"/>
<path d="M456.4 416.4L456.4 418.2L453.4 417.2L453.4 413.9Z" stroke="#455bf8"/>
<path d="M456.3 418.2L456.4 416.4L453.4 413.9L453.3 413.9Z" stroke="#445ff9"/>
<path d="M456.3 421.5L456.3 418.2L453.3 413.9L453.3 417.2Z" stroke="#4756f5"/>
<path d="M456.3 424.1L456.3 421.5L453.3 417.2L453.3 420.7Z" stroke="#4748e9"/>
<path d="M456.2 425.8L456.3 424.1L453.3 420.7L453.2 423.1Z" stroke="#463ddd"/>
<path d="M456.2 426.9L456.2 425.8L453.2 423.1L453.2 424.6Z" stroke="#4435d1"/>
<path d="M456.1 427.6L456.2 426.9L453.2 424.6L453.2 425.5Z" stroke="#4330c8"/>
<path d="M456.1 428.0L456.1 427.6L453.2 425.5L453.1 426.1Z" stroke="#422dc2"/>
<path d="M456.1 428.4L456.1 428.0L453.1 426.1L453.1 426.6Z" stroke="#422bbe"/>
<path d="M456.0 428.6L456.1 428.4L453.1 426.6L453.0 426.9Z" stroke="#412abc"/>
<path d="M456.0 428.8L456.0 428.6L453.0 426.9L453.0 427.1Z" stroke="#4129ba"/>
<path d="M455.9 428.9L456.0 428.8L453.0 427.1L453.0 427.3Z" stroke="#4128b9"/>
<path d="M455.9 429.0L455.9 428.9L453.0 427.3L452.9 427.4Z" stroke="#4127b7"/>
<path d="M455.9 429.1L455.9 429.0L452.9 427.4L452.9 427.5Z" stroke="#4127b7"/>
<path d="M455.8 429.2L455.9 429.1L452.9 427.5L452.8 427.6Z" stroke="#4126b6"/>
<path d="M455.8 429.3L455.8 429.2L452.8 427.6L452.8 427.7Z" stroke="#4026b5"/>
<path d="M455.7 429.3L455.8 429.3L452.8 427.7L452.8 427.8Z" stroke="#4026b5"/>
<path d="M459.5 426.9L459.6 428.1L456.6 426.8L456.5 425.7Z" stroke="#4434cd"/>
<path d="M459.5 425.0L459.5 426.9L456.5 425.7L456.5 424.1Z" stroke="#463bd9"/>
<path d="M459.4 422.2L459.5 425.0L456.5 424.1L456.5 421.5Z" stroke="#4744e5"/>
<path d="M459.4 419.6L459.4 422.2L456.5 421.5L456.4 418.2Z" stroke="#4851f3"/>
<path d="M459.4 419.6L459.4 419.6L456.4 418.2L456.4 416.4Z" stroke="#4659f7"/>
<path d="M459.3 422.3L459.4 419.6L456.4 416.4L456.3 418.2Z" stroke="#4756f6"/>
<path d="M459.3 425.1L459.3 422.3L456.3 418.2L456.3 421.5Z" stroke="#474bec"/>
<path d="M459.2 427.0L459.3 425.1L456.3 421.5L456.3 424.1Z" stroke="#463fe0"/>
<path d="M459.2 428.2L459.2 427.0L456.3 424.1L456.2 425.8Z" stroke="#4537d3"/>
<path d="M459.2 429.0L459.2 428.2L456.2 425.8L456.2 426.9Z" stroke="#4331c9"/>
<path d="M459.1 429.5L459.2 429.0L456.2 426.9L456.1 427.6Z" stroke="#422ec3"/>
<path d="M459.1 429.8L459.1 429.5L456.1 427.6L456.1 428.0Z" stroke="#422bbf"/>
<path d="M459.0 430.1L459.1 429.8L456.1 428.0L456.1 428.4Z" stroke="#412abc"/>
<path d="M459.0 430.3L459.0 430.1L456.1 428.4L456.0 428.6Z" stroke="#4129ba"/>
<path d="M459.0 430.4L459.0 430.3L456.0 428.6L456.0 428.8Z" stroke="#4128b8"/>
<path d="M458.9 430.5L459.0 430.4L456.0 428.8L455.9 428.9Z" stroke="#4127b7"/>
<path d="M458.9 430.6L458.9 430.5L455.9 428.9L455.9 429.0Z" stroke="#4127b7"/>
<path d="M458.9 430.7L458.9 430.6L455.9 429.0L455.9 429.1Z" stroke="#4126b6"/>
<path d="M458.8 430.8L458.9 430.7L455.9 429.1L455.8 429.2Z" stroke="#4026b5"/>
<path d="M458.8 430.8L458.8 430.8L455.8 429.2L455.8 429.3Z" stroke="#4026b5"/>
<path d="M462.5 432.4L462.5 432.4L459.6 428.1L459.5 426.9Z" stroke="#422cc0"/>
<path d="M462.5 432.4L462.5 432.4L459.5 426.9L459.5 425.0Z" stroke="#4330c7"/>
<path d="M462.4 432.4L462.5 432.4L459.5 425.0L459.4 422.2Z" stroke="#4435d0"/>
<path d="M462.4 432.4L462.4 432.4L459.4 422.2L459.4 419.6Z" stroke="#463cdc"/>
<path d="M462.3 432.4L462.4 432.4L459.4 419.6L459.4 419.6Z" stroke="#463fdf"/>
<path d="M462.3 432.4L462.3 432.4L459.4 419.6L459.3 422.3Z" stroke="#463cdc"/>
<path d="M462.3 432.4L462.3 432.4L459.3 422.3L459.3 425.1Z" stroke="#4435d0"/>
<path d="M462.2 432.5L462.3 432.4L459.3 425.1L459.2 427.0Z" stroke="#4330c7"/>
<path d="M462.2 432.5L462.2 432.5L459.2 427.0L459.2 428.2Z" stroke="#422cc0"/>
<path d="M462.2 432.5L462.2 432.5L459.2 428.2L459.2 429.0Z" stroke="#412abc"/>
<path d="M462.1 432.5L462.2 432.5L459.2 429.0L459.1 429.5Z" stroke="#4128b9"/>
<path d="M462.1 432.5L462.1 432.5L459.1 429.5L459.1 429.8Z" stroke="#4127b8"/>
<path d="M462.0 432.5L462.1 432.5L459.1 429.8L459.0 430.1Z" stroke="#4127b6"/>
<path d="M462.0 432.5L462.0 432.5L459.0 430.1L459.0 430.3Z" stroke="#4126b6"/>
<path d="M462.0 432.5L462.0 432.5L459.0 430.3L459.0 430.4Z" stroke="#4026b5"/>
<path d="M461.9 432.5L462.0 432.5L459.0 430.4L458.9 430.5Z" stroke="#4025b4"/>
<path d="M461.9 432.6L461.9 432.5L458.9 430.5L458.9 430.6Z" stroke="#4025b4"/>
<path d="M461.8 432.6L461.9 432.6L458.9 430.6L458.9 430.7Z" stroke="#4025b4"/>
</g>
<path d="M312.4 405.5L312.4 304.8M312.4 405.5L402.0 450.2M402.0 450.2L519.1 415.7M312.4 405.5L309.9 406.2M312.4 355.1L309.9 355.9M312.4 304.8L309.9 305.5M402.0 450.2L404.3 451.4M441.0 438.7L443.4 439.9M480.1 427.2L482.4 428.4M519.1 415.7L521.4 416.9M402.0 450.2L399.5 450.9M372.1 435.3L369.6 436.0M342.3 420.4L339.8 421.1M312.4 405.5L309.9 406.2" stroke="#6a6a6a" stroke-width="0.75" fill="none"/>
<text transform="translate(306.4 407.7) scale(1 1.08)" font-size="10.1" text-anchor="end" fill="#2b2b2b">0</text>
<text transform="translate(306.4 357.3) scale(1 1.08)" font-size="10.1" text-anchor="end" fill="#2b2b2b">0.5</text>
<text transform="translate(306.4 307) scale(1 1.08)" font-size="10.1" text-anchor="end" fill="#2b2b2b">1</text>
<text transform="translate(407.8 464) scale(1 1.08)" font-size="10.1" text-anchor="start" fill="#2b2b2b">0</text>
<text transform="translate(446.8 452.5) scale(1 1.08)" font-size="10.1" text-anchor="start" fill="#2b2b2b">1000</text>
<text transform="translate(485.9 441) scale(1 1.08)" font-size="10.1" text-anchor="start" fill="#2b2b2b">2000</text>
<text transform="translate(524.9 429.5) scale(1 1.08)" font-size="10.1" text-anchor="start" fill="#2b2b2b">3000</text>
<text transform="translate(395.2 463.7) scale(1 1.08)" font-size="10.1" text-anchor="end" fill="#2b2b2b">0</text>
<text transform="translate(365.3 448.8) scale(1 1.08)" font-size="10.1" text-anchor="end" fill="#2b2b2b">10</text>
<text transform="translate(335.5 433.9) scale(1 1.08)" font-size="10.1" text-anchor="end" fill="#2b2b2b">20</text>
<text transform="translate(305.6 419) scale(1 1.08)" font-size="10.1" text-anchor="end" fill="#2b2b2b">30</text>
<text transform="translate(287.6 355.6) rotate(-90) scale(1.11 1)" font-size="10.35" text-anchor="middle" fill="#2b2b2b">Normalized amplitude</text>
<text transform="translate(481.2 468.8) scale(1 1.08)" font-size="10.35" text-anchor="middle" fill="#2b2b2b">Doppler frequency bin</text>
<text transform="translate(321.6 458.4) scale(1 1.08)" font-size="10.35" text-anchor="middle" fill="#2b2b2b">Scaled range bin</text>
<g fill="#1a1a1a" font-size="14.6"><text transform="translate(402.98 501.9) scale(1 1.14)">(</text><text transform="translate(407.84 501.9) scale(1 1.2)" font-weight="bold">d</text><text transform="translate(415.96 501.9) scale(1 1.14)">)</text></g>
<path d="M349.7 649.2L349.7 550.5M389.1 637.5L389.1 538.8M428.5 625.9L428.5 527.2M310.3 611.4L428.5 576.5M310.3 562.1L428.5 527.2M519.1 671.0L519.1 572.3M460.6 641.9L460.6 543.2M428.5 576.5L519.1 621.6M428.5 527.2L519.1 572.3M349.7 649.2L440.3 694.3M389.1 637.5L479.7 682.6M428.5 625.9L519.1 671.0M400.9 705.9L519.1 671.0M342.4 676.8L460.6 641.9" stroke="#e2e2e2" stroke-width="0.7" fill="none"/>
<polygon points="310.3,660.1 311.1,659.7 312.0,659.3 312.8,659.0 313.6,658.8 314.5,658.5 315.3,658.4 316.1,658.3 317.0,658.3 317.8,658.1 318.6,657.8 319.5,657.5 320.3,657.1 321.1,656.8 322.0,656.4 322.8,656.4 323.6,656.1 324.5,656.0 325.3,655.6 326.1,655.3 327.0,655.1 327.8,654.9 328.6,654.5 329.5,654.3 330.3,654.3 331.1,654.2 332.0,653.7 332.8,653.4 333.6,652.9 334.5,652.8 335.3,652.4 336.1,652.2 337.0,652.0 337.8,651.9 338.6,651.8 339.5,651.5 340.3,651.0 341.1,650.8 342.0,650.5 342.8,650.5 343.6,650.1 344.5,649.9 345.3,649.7 346.1,649.4 347.0,649.2 347.8,648.6 348.6,648.3 349.5,648.2 350.3,648.2 351.1,648.2 352.0,647.8 352.8,647.3 353.6,647.0 354.5,647.1 355.3,647.0 356.1,646.8 357.0,646.2 357.8,645.8 358.6,645.6 359.5,645.7 360.3,645.6 361.1,645.2 362.0,644.9 362.8,644.5 363.6,644.5 364.5,644.1 365.3,643.9 366.1,643.7 367.0,643.3 367.8,643.0 368.6,642.7 369.5,642.5 370.3,642.3 371.1,641.9 372.0,641.6 372.8,641.6 373.6,641.5 374.5,641.4 375.3,641.0 376.1,640.6 377.0,640.2 377.8,640.2 378.6,639.9 379.5,639.8 380.3,639.3 381.1,639.0 382.0,638.6 382.8,638.4 383.6,638.4 384.5,638.1 385.3,637.8 386.1,637.4 387.0,637.2 387.8,637.1 388.6,637.0 389.5,636.7 390.3,636.4 391.1,635.9 392.0,635.8 392.8,635.6 393.6,635.5 394.5,635.2 395.3,634.8 396.1,634.6 397.0,634.4 397.8,634.4 398.6,634.2 399.5,634.0 400.3,633.6 401.1,633.2 402.0,632.8 402.8,632.6 403.6,632.2 404.5,632.1 405.3,631.9 406.1,631.6 407.0,631.3 407.8,631.0 408.6,630.7 409.5,630.4 410.3,630.2 411.1,629.9 412.0,629.8 412.8,629.5 413.6,629.5 414.5,629.2 415.3,629.2 416.1,628.9 417.0,628.7 417.8,628.2 418.6,627.9 419.5,627.8 420.3,627.7 421.1,627.6 422.0,627.3 422.8,627.0 423.6,626.5 424.5,626.2 425.3,625.9 426.1,626.0 426.1,626.1 426.8,626.2 427.4,626.7 428.0,626.8 428.7,627.2 429.3,627.4 429.9,627.7 430.6,628.0 431.2,628.5 431.8,629.0 432.4,629.1 433.1,629.1 433.7,629.3 434.3,629.9 435.0,630.3 435.6,630.7 436.2,631.0 436.9,631.2 437.5,631.4 438.1,631.6 438.8,631.9 439.4,632.2 440.0,632.7 440.6,632.9 441.3,633.2 441.9,633.3 442.5,633.7 443.2,634.0 443.8,634.5 444.4,634.8 445.1,635.3 445.7,635.7 446.3,636.2 447.0,636.5 447.6,636.6 448.2,636.9 448.8,637.1 449.5,637.6 450.1,637.9 450.7,638.3 451.4,638.4 452.0,638.6 452.6,638.8 453.3,639.1 453.9,639.4 454.5,639.7 455.2,640.2 455.8,640.5 456.4,640.9 457.0,641.3 457.7,641.7 458.3,641.9 458.9,642.1 459.6,642.2 460.2,642.8 460.8,643.2 461.5,643.7 462.1,644.0 462.7,644.2 463.4,644.5 464.0,644.6 464.6,645.2 465.2,645.4 465.9,645.7 466.5,645.9 467.1,646.1 467.8,646.5 468.4,646.7 469.0,647.0 469.7,647.4 470.3,647.8 470.9,648.2 471.6,648.6 472.2,649.0 472.8,649.3 473.4,649.4 474.1,649.7 474.7,650.0 475.3,650.4 476.0,650.6 476.6,650.8 477.2,651.2 477.9,651.7 478.5,652.3 479.1,652.4 479.8,652.5 480.4,652.6 481.0,653.1 481.6,653.6 482.3,654.0 482.9,654.3 483.5,654.7 484.2,654.8 484.8,654.9 485.4,655.0 486.1,655.4 486.7,655.9 487.3,656.4 488.0,656.9 488.6,657.1 489.2,657.3 489.8,657.5 490.5,657.6 491.1,658.0 491.7,658.5 492.4,658.8 493.0,659.2 493.6,659.5 494.3,660.0 494.9,660.1 495.5,660.3 496.2,660.6 496.8,660.9 497.4,661.5 498.0,661.7 498.7,662.1 499.3,662.3 499.9,662.7 500.6,662.9 501.2,663.1 501.8,663.6 502.5,664.0 503.1,664.5 503.7,664.7 504.4,664.8 505.0,664.8 505.6,665.0 506.2,665.5 506.9,666.0 507.5,666.6 508.1,666.8 508.8,666.9 509.4,667.1 510.0,667.6 510.7,668.0 511.3,668.3 511.9,668.5 512.6,668.8 513.2,669.3 513.8,669.7 398.0,704.1" fill="#4222b6"/>
<path d="M380.4 670.4L384.5 669.2M340.2 663.5L345.0 662.1M453.4 682.0L455.9 681.3M421.7 685.1L425.7 683.9M392.0 700.1L397.8 698.4M417.6 692.5L421.6 691.4M384.4 674.4L388.9 673.1M433.7 670.3L438.0 669.0M465.5 670.9L468.4 670.1M424.0 661.4L426.4 660.7M415.4 650.7L418.8 649.7M418.8 683.3L425.7 681.3M361.8 660.6L367.0 659.0M398.5 686.4L405.2 684.4M347.3 663.3L351.6 662.1M454.2 685.8L458.5 684.5M388.7 663.2L391.5 662.4M354.3 674.8L357.7 673.8M470.0 673.6L472.6 672.8M398.4 645.7L402.5 644.5M428.0 655.7L434.9 653.6M392.8 701.1L399.4 699.1M401.9 700.1L407.3 698.6M425.8 655.7L429.2 654.6M383.6 664.0L387.2 663.0" stroke="#6a5ad8" stroke-opacity="0.5" stroke-width="0.6" stroke-linecap="round" fill="none"/>
<g fill="#fff" stroke-width="0.85" stroke-linejoin="round">
<path d="M412.9 652.3L412.9 652.5L410.0 651.8L410.0 651.7Z" stroke="#422abd"/>
<path d="M412.8 652.6L412.9 652.3L410.0 651.7L409.9 651.8Z" stroke="#422abd"/>
<path d="M415.9 653.4L415.9 654.1L413.0 653.2L413.0 653.0Z" stroke="#422bbe"/>
<path d="M415.9 652.5L415.9 653.4L413.0 653.0L412.9 652.5Z" stroke="#432fc6"/>
<path d="M415.8 651.8L415.9 652.5L412.9 652.5L412.9 652.3Z" stroke="#4433cc"/>
<path d="M415.8 652.5L415.8 651.8L412.9 652.3L412.8 652.6Z" stroke="#4433cc"/>
<path d="M415.7 653.5L415.8 652.5L412.8 652.6L412.8 653.0Z" stroke="#432fc6"/>
<path d="M415.7 654.1L415.7 653.5L412.8 653.0L412.8 653.3Z" stroke="#422bbe"/>
<path d="M418.9 655.0L418.9 656.5L416.0 655.1L416.0 654.4Z" stroke="#412abc"/>
<path d="M418.9 654.1L418.9 655.0L416.0 654.4L415.9 654.1Z" stroke="#432ec4"/>
<path d="M418.8 652.6L418.9 654.1L415.9 654.1L415.9 653.4Z" stroke="#4435cf"/>
<path d="M418.8 650.3L418.8 652.6L415.9 653.4L415.9 652.5Z" stroke="#463fdf"/>
<path d="M418.7 648.7L418.8 650.3L415.9 652.5L415.8 651.8Z" stroke="#4746e7"/>
<path d="M418.7 650.3L418.7 648.7L415.8 651.8L415.8 652.5Z" stroke="#4746e7"/>
<path d="M418.7 652.7L418.7 650.3L415.8 652.5L415.7 653.5Z" stroke="#463fdf"/>
<path d="M418.6 654.2L418.7 652.7L415.7 653.5L415.7 654.1Z" stroke="#4435cf"/>
<path d="M418.6 655.1L418.6 654.2L415.7 654.1L415.7 654.5Z" stroke="#432ec4"/>
<path d="M418.5 655.6L418.6 655.1L415.7 654.5L415.6 654.7Z" stroke="#422bbe"/>
<path d="M421.8 654.1L421.9 658.0L418.9 656.5L418.9 655.0Z" stroke="#4432cb"/>
<path d="M421.8 652.0L421.8 654.1L418.9 655.0L418.9 654.1Z" stroke="#463ddd"/>
<path d="M421.7 648.3L421.8 652.0L418.9 654.1L418.8 652.6Z" stroke="#474ced"/>
<path d="M421.7 642.5L421.7 648.3L418.8 652.6L418.8 650.3Z" stroke="#4462fa"/>
<path d="M421.7 638.6L421.7 642.5L418.8 650.3L418.7 648.7Z" stroke="#3973fb"/>
<path d="M421.6 642.5L421.7 638.6L418.7 648.7L418.7 650.3Z" stroke="#3973fb"/>
<path d="M421.6 648.4L421.6 642.5L418.7 650.3L418.7 652.7Z" stroke="#4462fa"/>
<path d="M421.5 652.1L421.6 648.4L418.7 652.7L418.6 654.2Z" stroke="#474ced"/>
<path d="M421.5 654.2L421.5 652.1L418.6 654.2L418.6 655.1Z" stroke="#463ddd"/>
<path d="M421.5 655.4L421.5 654.2L418.6 655.1L418.5 655.6Z" stroke="#4435cf"/>
<path d="M421.4 656.2L421.5 655.4L418.5 655.6L418.5 655.9Z" stroke="#4330c6"/>
<path d="M421.4 656.7L421.4 656.2L418.5 655.9L418.5 656.1Z" stroke="#422cc1"/>
<path d="M421.3 657.0L421.4 656.7L418.5 656.1L418.4 656.2Z" stroke="#422abd"/>
<path d="M424.7 649.4L424.8 659.4L421.9 658.0L421.8 654.1Z" stroke="#4747e9"/>
<path d="M424.7 644.0L424.7 649.4L421.8 654.1L421.8 652.0Z" stroke="#4461fa"/>
<path d="M424.7 634.4L424.7 644.0L421.8 652.0L421.7 648.3Z" stroke="#2e86f4"/>
<path d="M424.6 619.4L424.7 634.4L421.7 648.3L421.7 642.5Z" stroke="#0eb2d4"/>
<path d="M424.6 609.3L424.6 619.4L421.7 642.5L421.7 638.6Z" stroke="#1ec2b2"/>
<path d="M424.5 619.4L424.6 609.3L421.7 638.6L421.6 642.5Z" stroke="#1ec2b2"/>
<path d="M424.5 634.4L424.5 619.4L421.6 642.5L421.6 648.4Z" stroke="#0eb2d4"/>
<path d="M424.5 644.1L424.5 634.4L421.6 648.4L421.5 652.1Z" stroke="#2e86f4"/>
<path d="M424.4 649.5L424.5 644.1L421.5 652.1L421.5 654.2Z" stroke="#4461fa"/>
<path d="M424.4 652.6L424.4 649.5L421.5 654.2L421.5 655.4Z" stroke="#484def"/>
<path d="M424.3 654.6L424.4 652.6L421.5 655.4L421.4 656.2Z" stroke="#4641e2"/>
<path d="M424.3 655.8L424.3 654.6L421.4 656.2L421.4 656.7Z" stroke="#453ad8"/>
<path d="M424.3 656.6L424.3 655.8L421.4 656.7L421.3 657.0Z" stroke="#4435cf"/>
<path d="M424.2 657.2L424.3 656.6L421.3 657.0L421.3 657.2Z" stroke="#4331c9"/>
<path d="M424.2 657.7L424.2 657.2L421.3 657.2L421.3 657.4Z" stroke="#432ec4"/>
<path d="M424.1 658.0L424.2 657.7L421.3 657.4L421.2 657.6Z" stroke="#422dc1"/>
<path d="M424.1 658.3L424.1 658.0L421.2 657.6L421.2 657.7Z" stroke="#422bbe"/>
<path d="M424.1 658.5L424.1 658.3L421.2 657.7L421.1 657.8Z" stroke="#422abd"/>
<path d="M427.7 643.1L427.7 660.9L424.8 659.4L424.7 649.4Z" stroke="#4363fa"/>
<path d="M427.6 633.4L427.7 643.1L424.7 649.4L424.7 644.0Z" stroke="#2696eb"/>
<path d="M427.6 616.3L427.6 633.4L424.7 644.0L424.7 634.4Z" stroke="#0bbbc3"/>
<path d="M427.5 589.5L427.6 616.3L424.7 634.4L424.6 619.4Z" stroke="#9ad156"/>
<path d="M427.5 571.6L427.5 589.5L424.6 619.4L424.6 609.3Z" stroke="#eeea24"/>
<path d="M427.5 589.5L427.5 571.6L424.6 609.3L424.5 619.4Z" stroke="#eeea24"/>
<path d="M427.4 616.3L427.5 589.5L424.5 619.4L424.5 634.4Z" stroke="#9ad156"/>
<path d="M427.4 633.5L427.4 616.3L424.5 634.4L424.5 644.1Z" stroke="#0bbbc3"/>
<path d="M427.3 643.1L427.4 633.5L424.5 644.1L424.4 649.5Z" stroke="#2696eb"/>
<path d="M427.3 648.7L427.3 643.1L424.4 649.5L424.4 652.6Z" stroke="#3d6efb"/>
<path d="M427.3 652.1L427.3 648.7L424.4 652.6L424.3 654.6Z" stroke="#4659f7"/>
<path d="M427.2 654.3L427.3 652.1L424.3 654.6L424.3 655.8Z" stroke="#474bed"/>
<path d="M427.2 655.8L427.2 654.3L424.3 655.8L424.3 656.6Z" stroke="#4742e3"/>
<path d="M427.1 656.9L427.2 655.8L424.3 656.6L424.2 657.2Z" stroke="#463cdc"/>
<path d="M427.1 657.6L427.1 656.9L424.2 657.2L424.2 657.7Z" stroke="#4537d4"/>
<path d="M427.1 658.2L427.1 657.6L424.2 657.7L424.1 658.0Z" stroke="#4434ce"/>
<path d="M427.0 658.7L427.1 658.2L424.1 658.0L424.1 658.3Z" stroke="#4331c9"/>
<path d="M427.0 659.0L427.0 658.7L424.1 658.3L424.1 658.5Z" stroke="#432fc6"/>
<path d="M426.9 659.3L427.0 659.0L424.1 658.5L424.0 658.7Z" stroke="#422ec3"/>
<path d="M426.9 659.6L426.9 659.3L424.0 658.7L424.0 658.8Z" stroke="#422cc1"/>
<path d="M426.9 659.8L426.9 659.6L424.0 658.8L423.9 658.9Z" stroke="#422bbf"/>
<path d="M426.8 659.9L426.9 659.8L423.9 658.9L423.9 659.0Z" stroke="#422abd"/>
<path d="M426.8 660.1L426.8 659.9L423.9 659.0L423.9 659.1Z" stroke="#412abc"/>
<path d="M430.6 652.3L430.6 662.4L427.7 660.9L427.7 643.1Z" stroke="#4363fa"/>
<path d="M430.5 646.9L430.6 652.3L427.7 643.1L427.6 633.4Z" stroke="#2696eb"/>
<path d="M430.5 637.3L430.5 646.9L427.6 633.4L427.6 616.3Z" stroke="#0bbbc3"/>
<path d="M430.5 622.3L430.5 637.3L427.6 616.3L427.5 589.5Z" stroke="#9ad156"/>
<path d="M430.4 612.2L430.5 622.3L427.5 589.5L427.5 571.6Z" stroke="#eeea24"/>
<path d="M430.4 622.3L430.4 612.2L427.5 571.6L427.5 589.5Z" stroke="#eeea24"/>
<path d="M430.3 637.4L430.4 622.3L427.5 589.5L427.4 616.3Z" stroke="#9ad156"/>
<path d="M430.3 647.0L430.3 637.4L427.4 616.3L427.4 633.5Z" stroke="#0bbbc3"/>
<path d="M430.3 652.4L430.3 647.0L427.4 633.5L427.3 643.1Z" stroke="#2696eb"/>
<path d="M430.2 655.6L430.3 652.4L427.3 643.1L427.3 648.7Z" stroke="#3d6efb"/>
<path d="M430.2 657.5L430.2 655.6L427.3 648.7L427.3 652.1Z" stroke="#4659f7"/>
<path d="M430.1 658.7L430.2 657.5L427.3 652.1L427.2 654.3Z" stroke="#474bed"/>
<path d="M430.1 659.6L430.1 658.7L427.2 654.3L427.2 655.8Z" stroke="#4742e3"/>
<path d="M430.1 660.2L430.1 659.6L427.2 655.8L427.1 656.9Z" stroke="#463cdc"/>
<path d="M430.0 660.6L430.1 660.2L427.1 656.9L427.1 657.6Z" stroke="#4537d4"/>
<path d="M430.0 660.9L430.0 660.6L427.1 657.6L427.1 658.2Z" stroke="#4434ce"/>
<path d="M430.0 661.2L430.0 660.9L427.1 658.2L427.0 658.7Z" stroke="#4331c9"/>
<path d="M429.9 661.4L430.0 661.2L427.0 658.7L427.0 659.0Z" stroke="#432fc6"/>
<path d="M429.9 661.6L429.9 661.4L427.0 659.0L426.9 659.3Z" stroke="#422ec3"/>
<path d="M429.8 661.7L429.9 661.6L426.9 659.3L426.9 659.6Z" stroke="#422cc1"/>
<path d="M429.8 661.8L429.8 661.7L426.9 659.6L426.9 659.8Z" stroke="#422bbf"/>
<path d="M429.8 661.9L429.8 661.8L426.9 659.8L426.8 659.9Z" stroke="#422abd"/>
<path d="M429.7 662.0L429.8 661.9L426.8 659.9L426.8 660.1Z" stroke="#412abc"/>
<path d="M433.5 659.9L433.5 663.8L430.6 662.4L430.6 652.3Z" stroke="#4747e9"/>
<path d="M433.5 657.9L433.5 659.9L430.6 652.3L430.5 646.9Z" stroke="#4461fa"/>
<path d="M433.4 654.1L433.5 657.9L430.5 646.9L430.5 637.3Z" stroke="#2e86f4"/>
<path d="M433.4 648.3L433.4 654.1L430.5 637.3L430.5 622.3Z" stroke="#0eb2d4"/>
<path d="M433.3 644.5L433.4 648.3L430.5 622.3L430.4 612.2Z" stroke="#1ec2b2"/>
<path d="M433.3 648.4L433.3 644.5L430.4 612.2L430.4 622.3Z" stroke="#1ec2b2"/>
<path d="M433.3 654.2L433.3 648.4L430.4 622.3L430.3 637.4Z" stroke="#0eb2d4"/>
<path d="M433.2 657.9L433.3 654.2L430.3 637.4L430.3 647.0Z" stroke="#2e86f4"/>
<path d="M433.2 660.0L433.2 657.9L430.3 647.0L430.3 652.4Z" stroke="#4461fa"/>
<path d="M433.1 661.3L433.2 660.0L430.3 652.4L430.2 655.6Z" stroke="#484def"/>
<path d="M433.1 662.0L433.1 661.3L430.2 655.6L430.2 657.5Z" stroke="#4641e2"/>
<path d="M433.1 662.5L433.1 662.0L430.2 657.5L430.1 658.7Z" stroke="#453ad8"/>
<path d="M433.0 662.8L433.1 662.5L430.1 658.7L430.1 659.6Z" stroke="#4435cf"/>
<path d="M433.0 663.1L433.0 662.8L430.1 659.6L430.1 660.2Z" stroke="#4331c9"/>
<path d="M433.0 663.2L433.0 663.1L430.1 660.2L430.0 660.6Z" stroke="#432ec4"/>
<path d="M432.9 663.4L433.0 663.2L430.0 660.6L430.0 660.9Z" stroke="#422dc1"/>
<path d="M432.9 663.5L432.9 663.4L430.0 660.9L430.0 661.2Z" stroke="#422bbe"/>
<path d="M432.8 663.6L432.9 663.5L430.0 661.2L429.9 661.4Z" stroke="#422abd"/>
<path d="M436.4 663.7L436.5 665.3L433.5 663.8L433.5 659.9Z" stroke="#4432cb"/>
<path d="M436.4 662.9L436.4 663.7L433.5 659.9L433.5 657.9Z" stroke="#463ddd"/>
<path d="M436.3 661.4L436.4 662.9L433.5 657.9L433.4 654.1Z" stroke="#474ced"/>
<path d="M436.3 659.0L436.3 661.4L433.4 654.1L433.4 648.3Z" stroke="#4462fa"/>
<path d="M436.3 657.4L436.3 659.0L433.4 648.3L433.3 644.5Z" stroke="#3973fb"/>
<path d="M436.2 659.0L436.3 657.4L433.3 644.5L433.3 648.4Z" stroke="#3973fb"/>
<path d="M436.2 661.4L436.2 659.0L433.3 648.4L433.3 654.2Z" stroke="#4462fa"/>
<path d="M436.2 662.9L436.2 661.4L433.3 654.2L433.2 657.9Z" stroke="#474ced"/>
<path d="M436.1 663.8L436.2 662.9L433.2 657.9L433.2 660.0Z" stroke="#463ddd"/>
<path d="M436.1 664.3L436.1 663.8L433.2 660.0L433.1 661.3Z" stroke="#4435cf"/>
<path d="M436.0 664.6L436.1 664.3L433.1 661.3L433.1 662.0Z" stroke="#4330c6"/>
<path d="M436.0 664.8L436.0 664.6L433.1 662.0L433.1 662.5Z" stroke="#422cc1"/>
<path d="M436.0 665.0L436.0 664.8L433.1 662.5L433.0 662.8Z" stroke="#422abd"/>
<path d="M439.3 666.1L439.4 666.7L436.5 665.3L436.4 663.7Z" stroke="#412abc"/>
<path d="M439.3 665.7L439.3 666.1L436.4 663.7L436.4 662.9Z" stroke="#432ec4"/>
<path d="M439.3 665.1L439.3 665.7L436.4 662.9L436.3 661.4Z" stroke="#4435cf"/>
<path d="M439.2 664.1L439.3 665.1L436.3 661.4L436.3 659.0Z" stroke="#463fdf"/>
<path d="M439.2 663.4L439.2 664.1L436.3 659.0L436.3 657.4Z" stroke="#4746e7"/>
<path d="M439.2 664.1L439.2 663.4L436.3 657.4L436.2 659.0Z" stroke="#4746e7"/>
<path d="M439.1 665.1L439.2 664.1L436.2 659.0L436.2 661.4Z" stroke="#463fdf"/>
<path d="M439.1 665.8L439.1 665.1L436.2 661.4L436.2 662.9Z" stroke="#4435cf"/>
<path d="M439.0 666.2L439.1 665.8L436.2 662.9L436.1 663.8Z" stroke="#432ec4"/>
<path d="M439.0 666.4L439.0 666.2L436.1 663.8L436.1 664.3Z" stroke="#422bbe"/>
<path d="M442.2 667.5L442.2 667.8L439.3 665.7L439.3 665.1Z" stroke="#422bbe"/>
<path d="M442.2 667.1L442.2 667.5L439.3 665.1L439.2 664.1Z" stroke="#432fc6"/>
<path d="M442.1 666.8L442.2 667.1L439.2 664.1L439.2 663.4Z" stroke="#4433cc"/>
<path d="M442.1 667.1L442.1 666.8L439.2 663.4L439.2 664.1Z" stroke="#4433cc"/>
<path d="M442.0 667.6L442.1 667.1L439.2 664.1L439.1 665.1Z" stroke="#432fc6"/>
<path d="M442.0 667.8L442.0 667.6L439.1 665.1L439.1 665.8Z" stroke="#422bbe"/>
<path d="M445.0 669.1L445.1 669.2L442.2 667.1L442.1 666.8Z" stroke="#422abd"/>
<path d="M445.0 669.2L445.0 669.1L442.1 666.8L442.1 667.1Z" stroke="#422abd"/>
</g>
<path d="M310.3 660.8L310.3 562.1M310.3 660.8L400.9 705.9M400.9 705.9L519.1 671.0M310.3 660.8L307.8 661.5M310.3 611.4L307.8 612.2M310.3 562.1L307.8 562.8M400.9 705.9L403.2 707.1M440.3 694.3L442.6 695.4M479.7 682.6L482.0 683.8M519.1 671.0L521.4 672.2M400.9 705.9L398.4 706.6M342.4 676.8L340.0 677.5" stroke="#6a6a6a" stroke-width="0.75" fill="none"/>
<text transform="translate(304.3 663) scale(1 1.08)" font-size="10.1" text-anchor="end" fill="#2b2b2b">0</text>
<text transform="translate(304.3 613.6) scale(1 1.08)" font-size="10.1" text-anchor="end" fill="#2b2b2b">0.5</text>
<text transform="translate(304.3 564.3) scale(1 1.08)" font-size="10.1" text-anchor="end" fill="#2b2b2b">1</text>
<text transform="translate(406.7 719.7) scale(1 1.08)" font-size="10.1" text-anchor="start" fill="#2b2b2b">0</text>
<text transform="translate(446.1 708.1) scale(1 1.08)" font-size="10.1" text-anchor="start" fill="#2b2b2b">1000</text>
<text transform="translate(485.5 696.4) scale(1 1.08)" font-size="10.1" text-anchor="start" fill="#2b2b2b">2000</text>
<text transform="translate(524.9 684.8) scale(1 1.08)" font-size="10.1" text-anchor="start" fill="#2b2b2b">3000</text>
<text transform="translate(394.1 719.4) scale(1 1.08)" font-size="10.1" text-anchor="end" fill="#2b2b2b">0</text>
<text transform="translate(335.6 690.3) scale(1 1.08)" font-size="10.1" text-anchor="end" fill="#2b2b2b">20</text>
<text transform="translate(286.2 613.8) rotate(-90) scale(1.11 1)" font-size="9.9" text-anchor="middle" fill="#2b2b2b">Normalized amplitude</text>
<text transform="translate(471.4 728.6) scale(1 1.08)" font-size="10.35" text-anchor="middle" fill="#2b2b2b">Doppler frequency bin</text>
<text transform="translate(330 717.6) scale(1 1.08)" font-size="10.35" text-anchor="middle" fill="#2b2b2b">Range bin</text>
<g fill="#1a1a1a" font-size="14.6"><text transform="translate(404.81 763.0) scale(1 1.14)">(</text><text transform="translate(409.67 763.0) scale(1 1.2)" font-weight="bold">f</text><text transform="translate(414.53 763.0) scale(1 1.14)">)</text></g>
</svg></body></html>
